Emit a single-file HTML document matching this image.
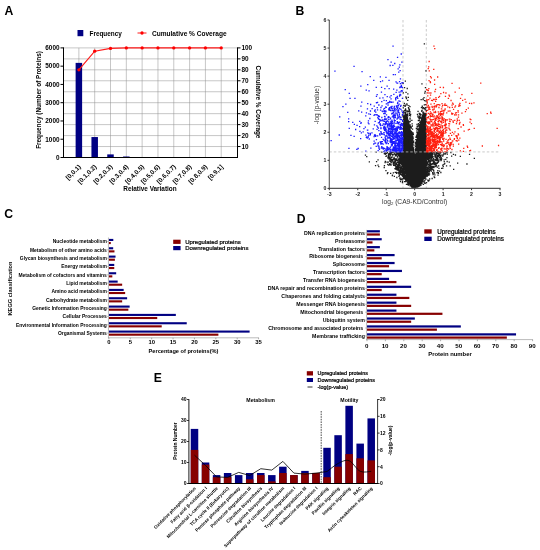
<!DOCTYPE html>
<html><head><meta charset="utf-8"><title>Figure</title>
<style>html,body{margin:0;padding:0;background:#fff}svg{display:block}text{font-family:"Liberation Sans",sans-serif}</style>
</head><body>
<svg width="540" height="550" viewBox="0 0 540 550">
<rect width="540" height="550" fill="#fff"/>
<text x="4.50" y="14.50" font-size="12.2" font-weight="bold" text-anchor="start" fill="#000">A</text>
<text x="295.60" y="14.80" font-size="12.2" font-weight="bold" text-anchor="start" fill="#000">B</text>
<text x="4.20" y="217.60" font-size="12.2" font-weight="bold" text-anchor="start" fill="#000">C</text>
<text x="296.80" y="223.20" font-size="12.2" font-weight="bold" text-anchor="start" fill="#000">D</text>
<text x="153.70" y="382.30" font-size="12.2" font-weight="bold" text-anchor="start" fill="#000">E</text>
<line x1="78.87" y1="47.90" x2="78.87" y2="157.50" stroke="#8e8e8e" stroke-width="0.5"/>
<line x1="94.69" y1="47.90" x2="94.69" y2="157.50" stroke="#8e8e8e" stroke-width="0.5"/>
<line x1="110.50" y1="47.90" x2="110.50" y2="157.50" stroke="#8e8e8e" stroke-width="0.5"/>
<line x1="126.32" y1="47.90" x2="126.32" y2="157.50" stroke="#8e8e8e" stroke-width="0.5"/>
<line x1="142.14" y1="47.90" x2="142.14" y2="157.50" stroke="#8e8e8e" stroke-width="0.5"/>
<line x1="157.96" y1="47.90" x2="157.96" y2="157.50" stroke="#8e8e8e" stroke-width="0.5"/>
<line x1="173.78" y1="47.90" x2="173.78" y2="157.50" stroke="#8e8e8e" stroke-width="0.5"/>
<line x1="189.60" y1="47.90" x2="189.60" y2="157.50" stroke="#8e8e8e" stroke-width="0.5"/>
<line x1="205.41" y1="47.90" x2="205.41" y2="157.50" stroke="#8e8e8e" stroke-width="0.5"/>
<line x1="221.23" y1="47.90" x2="221.23" y2="157.50" stroke="#8e8e8e" stroke-width="0.5"/>
<line x1="63.50" y1="47.90" x2="237.50" y2="47.90" stroke="#8e8e8e" stroke-width="0.5"/>
<line x1="63.50" y1="58.86" x2="237.50" y2="58.86" stroke="#8e8e8e" stroke-width="0.5"/>
<line x1="63.50" y1="69.82" x2="237.50" y2="69.82" stroke="#8e8e8e" stroke-width="0.5"/>
<line x1="63.50" y1="80.78" x2="237.50" y2="80.78" stroke="#8e8e8e" stroke-width="0.5"/>
<line x1="63.50" y1="91.74" x2="237.50" y2="91.74" stroke="#8e8e8e" stroke-width="0.5"/>
<line x1="63.50" y1="102.70" x2="237.50" y2="102.70" stroke="#8e8e8e" stroke-width="0.5"/>
<line x1="63.50" y1="113.66" x2="237.50" y2="113.66" stroke="#8e8e8e" stroke-width="0.5"/>
<line x1="63.50" y1="124.62" x2="237.50" y2="124.62" stroke="#8e8e8e" stroke-width="0.5"/>
<line x1="63.50" y1="135.58" x2="237.50" y2="135.58" stroke="#8e8e8e" stroke-width="0.5"/>
<line x1="63.50" y1="146.54" x2="237.50" y2="146.54" stroke="#8e8e8e" stroke-width="0.5"/>
<rect x="75.62" y="62.88" width="6.50" height="94.62" fill="#000082"/>
<rect x="91.44" y="137.04" width="6.50" height="20.46" fill="#000082"/>
<rect x="107.25" y="154.39" width="6.50" height="3.11" fill="#000082"/>
<rect x="123.07" y="156.50" width="6.50" height="1.00" fill="#000082"/>
<rect x="138.89" y="157.04" width="6.50" height="0.46" fill="#000082"/>
<line x1="63.50" y1="47.40" x2="63.50" y2="158.00" stroke="#000" stroke-width="1"/>
<line x1="237.50" y1="47.40" x2="237.50" y2="158.00" stroke="#000" stroke-width="1"/>
<line x1="63.50" y1="157.50" x2="237.50" y2="157.50" stroke="#000" stroke-width="1"/>
<line x1="60.50" y1="157.50" x2="63.50" y2="157.50" stroke="#000" stroke-width="1"/>
<text x="59.50" y="159.80" font-size="6.4" font-weight="bold" text-anchor="end" fill="#000">0</text>
<line x1="60.50" y1="139.23" x2="63.50" y2="139.23" stroke="#000" stroke-width="1"/>
<text x="59.50" y="141.53" font-size="6.4" font-weight="bold" text-anchor="end" fill="#000">1000</text>
<line x1="60.50" y1="120.97" x2="63.50" y2="120.97" stroke="#000" stroke-width="1"/>
<text x="59.50" y="123.27" font-size="6.4" font-weight="bold" text-anchor="end" fill="#000">2000</text>
<line x1="60.50" y1="102.70" x2="63.50" y2="102.70" stroke="#000" stroke-width="1"/>
<text x="59.50" y="105.00" font-size="6.4" font-weight="bold" text-anchor="end" fill="#000">3000</text>
<line x1="60.50" y1="84.43" x2="63.50" y2="84.43" stroke="#000" stroke-width="1"/>
<text x="59.50" y="86.73" font-size="6.4" font-weight="bold" text-anchor="end" fill="#000">4000</text>
<line x1="60.50" y1="66.17" x2="63.50" y2="66.17" stroke="#000" stroke-width="1"/>
<text x="59.50" y="68.47" font-size="6.4" font-weight="bold" text-anchor="end" fill="#000">5000</text>
<line x1="60.50" y1="47.90" x2="63.50" y2="47.90" stroke="#000" stroke-width="1"/>
<text x="59.50" y="50.20" font-size="6.4" font-weight="bold" text-anchor="end" fill="#000">6000</text>
<line x1="237.50" y1="146.54" x2="240.50" y2="146.54" stroke="#000" stroke-width="1"/>
<text x="241.50" y="148.84" font-size="6.4" font-weight="bold" text-anchor="start" fill="#000">10</text>
<line x1="237.50" y1="135.58" x2="240.50" y2="135.58" stroke="#000" stroke-width="1"/>
<text x="241.50" y="137.88" font-size="6.4" font-weight="bold" text-anchor="start" fill="#000">20</text>
<line x1="237.50" y1="124.62" x2="240.50" y2="124.62" stroke="#000" stroke-width="1"/>
<text x="241.50" y="126.92" font-size="6.4" font-weight="bold" text-anchor="start" fill="#000">30</text>
<line x1="237.50" y1="113.66" x2="240.50" y2="113.66" stroke="#000" stroke-width="1"/>
<text x="241.50" y="115.96" font-size="6.4" font-weight="bold" text-anchor="start" fill="#000">40</text>
<line x1="237.50" y1="102.70" x2="240.50" y2="102.70" stroke="#000" stroke-width="1"/>
<text x="241.50" y="105.00" font-size="6.4" font-weight="bold" text-anchor="start" fill="#000">50</text>
<line x1="237.50" y1="91.74" x2="240.50" y2="91.74" stroke="#000" stroke-width="1"/>
<text x="241.50" y="94.04" font-size="6.4" font-weight="bold" text-anchor="start" fill="#000">60</text>
<line x1="237.50" y1="80.78" x2="240.50" y2="80.78" stroke="#000" stroke-width="1"/>
<text x="241.50" y="83.08" font-size="6.4" font-weight="bold" text-anchor="start" fill="#000">70</text>
<line x1="237.50" y1="69.82" x2="240.50" y2="69.82" stroke="#000" stroke-width="1"/>
<text x="241.50" y="72.12" font-size="6.4" font-weight="bold" text-anchor="start" fill="#000">80</text>
<line x1="237.50" y1="58.86" x2="240.50" y2="58.86" stroke="#000" stroke-width="1"/>
<text x="241.50" y="61.16" font-size="6.4" font-weight="bold" text-anchor="start" fill="#000">90</text>
<line x1="237.50" y1="47.90" x2="240.50" y2="47.90" stroke="#000" stroke-width="1"/>
<text x="241.50" y="50.20" font-size="6.4" font-weight="bold" text-anchor="start" fill="#000">100</text>
<polyline fill="none" stroke="#ff1a1a" stroke-width="1.2" points="78.87,69.82 94.69,51.19 110.50,48.45 126.32,47.90 142.14,47.90 157.96,47.90 173.78,47.90 189.60,47.90 205.41,47.90 221.23,47.90"/>
<circle cx="78.87" cy="69.82" r="1.65" fill="#ff0000"/>
<circle cx="94.69" cy="51.19" r="1.65" fill="#ff0000"/>
<circle cx="110.50" cy="48.45" r="1.65" fill="#ff0000"/>
<circle cx="126.32" cy="47.90" r="1.65" fill="#ff0000"/>
<circle cx="142.14" cy="47.90" r="1.65" fill="#ff0000"/>
<circle cx="157.96" cy="47.90" r="1.65" fill="#ff0000"/>
<circle cx="173.78" cy="47.90" r="1.65" fill="#ff0000"/>
<circle cx="189.60" cy="47.90" r="1.65" fill="#ff0000"/>
<circle cx="205.41" cy="47.90" r="1.65" fill="#ff0000"/>
<circle cx="221.23" cy="47.90" r="1.65" fill="#ff0000"/>
<text x="81.27" y="167.30" font-size="6.4" font-weight="bold" text-anchor="end" fill="#000" transform="rotate(-45 81.27 167.30)">[0,0.1)</text>
<text x="97.09" y="167.30" font-size="6.4" font-weight="bold" text-anchor="end" fill="#000" transform="rotate(-45 97.09 167.30)">[0.1,0.2)</text>
<text x="112.90" y="167.30" font-size="6.4" font-weight="bold" text-anchor="end" fill="#000" transform="rotate(-45 112.90 167.30)">[0.2,0.3)</text>
<text x="128.72" y="167.30" font-size="6.4" font-weight="bold" text-anchor="end" fill="#000" transform="rotate(-45 128.72 167.30)">[0.3,0.4)</text>
<text x="144.54" y="167.30" font-size="6.4" font-weight="bold" text-anchor="end" fill="#000" transform="rotate(-45 144.54 167.30)">[0.4,0.5)</text>
<text x="160.36" y="167.30" font-size="6.4" font-weight="bold" text-anchor="end" fill="#000" transform="rotate(-45 160.36 167.30)">[0.5,0.6)</text>
<text x="176.18" y="167.30" font-size="6.4" font-weight="bold" text-anchor="end" fill="#000" transform="rotate(-45 176.18 167.30)">[0.6,0.7)</text>
<text x="192.00" y="167.30" font-size="6.4" font-weight="bold" text-anchor="end" fill="#000" transform="rotate(-45 192.00 167.30)">[0.7,0.8)</text>
<text x="207.81" y="167.30" font-size="6.4" font-weight="bold" text-anchor="end" fill="#000" transform="rotate(-45 207.81 167.30)">[0.8,0.9)</text>
<text x="223.63" y="167.30" font-size="6.4" font-weight="bold" text-anchor="end" fill="#000" transform="rotate(-45 223.63 167.30)">[0.9,1]</text>
<text x="150.00" y="190.60" font-size="6.4" font-weight="bold" text-anchor="middle" fill="#000">Relative Variation</text>
<text x="40.50" y="100.00" font-size="6.4" font-weight="bold" text-anchor="middle" fill="#000" transform="rotate(-90 40.50 100.00)">Frequency (Number of Proteins)</text>
<text x="256.00" y="102.00" font-size="6.4" font-weight="bold" text-anchor="middle" fill="#000" transform="rotate(90 256.00 102.00)">Cumulative % Coverage</text>
<rect x="77.50" y="30.00" width="5.80" height="6.20" fill="#000082"/>
<text x="89.50" y="35.60" font-size="6.4" font-weight="bold" text-anchor="start" fill="#000">Frequency</text>
<line x1="137.50" y1="33.00" x2="146.50" y2="33.00" stroke="#ff1a1a" stroke-width="1"/>
<circle cx="142" cy="33" r="1.65" fill="#ff0000"/>
<text x="152.00" y="35.60" font-size="6.55" font-weight="bold" text-anchor="start" fill="#000">Cumulative % Coverage</text>
<line x1="402.99" y1="20.00" x2="402.99" y2="188.40" stroke="#bdbdbd" stroke-width="0.8" stroke-dasharray="2.5 2"/>
<line x1="426.31" y1="20.00" x2="426.31" y2="188.40" stroke="#bdbdbd" stroke-width="0.8" stroke-dasharray="2.5 2"/>
<polygon fill="#1c1c1c" points="414.6,187.8 418.9,180.0 423.5,170.4 426.6,160.3 427.5,152.5 426.3,151.9 426.3,126.7 425.7,116.8 424.0,112.1 421.8,115.4 417.8,133.7 415.2,156.1 414.1,156.1 411.5,133.7 407.5,115.4 405.3,112.1 403.6,116.8 403.0,126.7 403.0,151.9 401.8,152.5 402.7,160.3 405.8,170.4 410.4,180.0 414.6,187.8"/>
<path d="M413.9 188.3h1.3M408.0 172.5h1.3M408.6 173.8h1.3M405.1 140.9h1.3M430.2 164.2h1.3M406.3 135.5h1.3M413.2 185.2h1.3M424.9 116.9h1.3M416.8 162.2h1.3M408.7 155.3h1.3M401.7 162.3h1.3M408.3 169.4h1.3M416.8 182.8h1.3M415.7 186.8h1.3M415.9 151.3h1.3M407.8 164.0h1.3M420.3 175.9h1.3M417.2 173.9h1.3M408.4 180.0h1.3M423.2 178.4h1.3M415.4 159.7h1.3M415.4 185.8h1.3M417.2 182.4h1.3M424.3 162.9h1.3M416.8 136.2h1.3M406.8 145.3h1.3M412.6 186.7h1.3M410.5 157.3h1.3M417.0 182.4h1.3M415.8 182.5h1.3M410.9 185.0h1.3M414.0 184.3h1.3M423.8 142.6h1.3M411.0 182.0h1.3M427.0 154.2h1.3M419.7 147.8h1.3M408.0 124.4h1.3M415.3 184.4h1.3M404.4 157.6h1.3M408.7 178.3h1.3M396.4 152.0h1.3M413.0 184.9h1.3M391.1 152.8h1.3M397.1 152.4h1.3M403.3 177.6h1.3M403.1 163.7h1.3M413.4 181.6h1.3M421.0 125.1h1.3M402.3 157.5h1.3M411.3 177.9h1.3M423.2 153.9h1.3M422.9 163.7h1.3M413.1 183.2h1.3M410.5 151.6h1.3M407.7 171.0h1.3M415.6 168.7h1.3M414.8 175.1h1.3M394.4 165.6h1.3M411.7 172.2h1.3M423.6 169.6h1.3M416.5 182.0h1.3M415.9 177.9h1.3M413.3 187.8h1.3M396.0 164.7h1.3M418.4 126.2h1.3M399.5 153.6h1.3M413.9 187.1h1.3M384.4 152.8h1.3M408.3 170.3h1.3M409.3 132.3h1.3M413.7 188.1h1.3M414.5 157.3h1.3M414.6 169.9h1.3M405.7 172.2h1.3M416.5 179.7h1.3M439.3 155.1h1.3M419.3 177.4h1.3M417.0 162.1h1.3M411.8 179.0h1.3M403.7 177.4h1.3M421.4 150.9h1.3M419.0 160.7h1.3M403.3 133.3h1.3M411.4 184.2h1.3M413.8 186.5h1.3M408.2 132.2h1.3M416.5 174.5h1.3M422.5 178.1h1.3M414.6 183.6h1.3M426.4 156.9h1.3M409.8 182.1h1.3M408.7 169.1h1.3M422.7 143.3h1.3M407.3 143.3h1.3M417.3 146.9h1.3M411.0 181.4h1.3M415.2 184.9h1.3M420.7 173.8h1.3M405.7 179.9h1.3M436.2 159.4h1.3M412.2 185.7h1.3M405.3 146.1h1.3M417.1 155.0h1.3M403.9 121.4h1.3M427.2 180.2h1.3M413.8 187.7h1.3M418.7 171.0h1.3M432.9 158.5h1.3M414.2 188.0h1.3M418.8 168.4h1.3M412.8 172.4h1.3M428.0 152.6h1.3M417.6 170.4h1.3M414.6 177.3h1.3M438.7 154.7h1.3M414.2 187.1h1.3M416.0 184.6h1.3M427.1 164.1h1.3M423.6 159.6h1.3M413.0 180.8h1.3M398.4 161.4h1.3M407.3 172.8h1.3M414.4 186.6h1.3M421.7 164.9h1.3M412.0 161.3h1.3M420.3 154.8h1.3M408.0 172.3h1.3M410.1 180.3h1.3M413.6 187.2h1.3M422.1 152.1h1.3M410.4 168.0h1.3M408.2 136.9h1.3M416.9 180.9h1.3M414.8 159.5h1.3M402.7 164.1h1.3M424.5 142.4h1.3M425.3 162.1h1.3M419.3 144.8h1.3M413.5 187.7h1.3M407.3 174.6h1.3M413.7 186.0h1.3M412.9 175.3h1.3M418.4 186.3h1.3M402.7 142.5h1.3M417.6 179.5h1.3M420.8 161.4h1.3M418.8 185.1h1.3M402.2 166.7h1.3M388.9 153.3h1.3M408.0 135.1h1.3M417.6 178.0h1.3M421.0 146.6h1.3M414.0 169.4h1.3M409.8 170.3h1.3M420.0 183.6h1.3M413.8 187.7h1.3M403.3 111.1h1.3M395.8 163.9h1.3M413.1 184.0h1.3M410.3 184.1h1.3M418.3 172.9h1.3M419.3 126.8h1.3M414.1 187.3h1.3M406.2 151.5h1.3M415.6 160.1h1.3M415.1 185.9h1.3M424.9 125.9h1.3M416.9 180.0h1.3M412.8 185.8h1.3M415.6 185.5h1.3M413.2 186.4h1.3M407.1 158.9h1.3M419.8 176.9h1.3M402.2 161.1h1.3M417.4 151.9h1.3M409.5 181.1h1.3M414.0 188.0h1.3M399.7 163.7h1.3M403.5 168.2h1.3M408.9 175.0h1.3M410.3 185.1h1.3M414.7 184.0h1.3M417.1 174.0h1.3M419.0 178.9h1.3M427.3 170.6h1.3M414.1 188.1h1.3M413.1 158.8h1.3M424.2 167.6h1.3M424.6 91.5h1.3M412.0 152.7h1.3M416.1 182.5h1.3M420.1 176.9h1.3M415.6 175.0h1.3M416.6 177.5h1.3M415.5 185.5h1.3M394.7 158.8h1.3M417.4 185.3h1.3M413.3 157.5h1.3M407.6 154.5h1.3M412.9 161.4h1.3M412.7 184.8h1.3M410.2 169.9h1.3M413.0 184.8h1.3M398.9 167.5h1.3M421.7 176.3h1.3M424.8 176.6h1.3M414.0 182.6h1.3M419.9 175.8h1.3M418.9 141.2h1.3M422.2 157.6h1.3M421.6 107.1h1.3M416.6 171.7h1.3M389.2 156.3h1.3M412.4 178.2h1.3M414.1 188.3h1.3M411.5 163.8h1.3M418.8 174.6h1.3M414.6 177.6h1.3M402.7 171.4h1.3M419.5 174.6h1.3M393.6 158.9h1.3M416.1 177.9h1.3M417.8 156.8h1.3M419.0 116.2h1.3M414.8 186.2h1.3M411.7 137.2h1.3M420.3 138.2h1.3M404.7 142.8h1.3M400.4 161.5h1.3M409.8 172.8h1.3M434.0 177.5h1.3M422.0 177.0h1.3M414.8 172.6h1.3M415.9 172.5h1.3M412.9 186.3h1.3M404.8 177.4h1.3M414.7 183.9h1.3M419.0 161.5h1.3M400.5 156.8h1.3M412.8 185.4h1.3M416.6 167.7h1.3M408.2 142.8h1.3M425.6 150.7h1.3M421.9 180.4h1.3M413.0 168.6h1.3M412.6 152.2h1.3M391.3 154.4h1.3M410.0 176.8h1.3M413.5 185.4h1.3M413.8 179.0h1.3M411.3 182.2h1.3M416.7 129.1h1.3M411.5 163.1h1.3M421.7 161.0h1.3M421.1 181.4h1.3M403.5 167.7h1.3M414.7 170.3h1.3M408.5 111.4h1.3M413.0 178.2h1.3M417.3 176.9h1.3M415.0 179.0h1.3M406.5 167.5h1.3M411.5 168.3h1.3M411.4 177.2h1.3M417.8 123.7h1.3M402.0 163.7h1.3M399.7 156.5h1.3M405.8 167.9h1.3M409.1 172.6h1.3M405.8 179.0h1.3M416.1 153.9h1.3M406.1 179.7h1.3M397.0 168.0h1.3M409.6 135.9h1.3M414.8 170.4h1.3M411.4 132.7h1.3M421.5 161.7h1.3M413.2 163.9h1.3M411.1 185.8h1.3M418.8 159.8h1.3M417.9 144.3h1.3M424.9 172.2h1.3M409.8 185.8h1.3M414.0 188.2h1.3M398.5 153.7h1.3M389.3 160.8h1.3M422.9 167.8h1.3M425.0 176.3h1.3M399.6 157.1h1.3M415.1 180.1h1.3M407.1 156.2h1.3M415.0 185.9h1.3M413.9 183.0h1.3M415.7 185.6h1.3M407.3 137.3h1.3M425.6 140.1h1.3M414.8 186.3h1.3M397.8 153.7h1.3M414.5 185.2h1.3M405.9 168.2h1.3M418.6 149.9h1.3M419.5 165.3h1.3M417.1 171.3h1.3M407.2 175.4h1.3M414.4 186.7h1.3M410.7 179.9h1.3M415.0 185.8h1.3M418.0 148.6h1.3M405.5 137.1h1.3M416.8 114.3h1.3M410.9 169.5h1.3M409.5 160.3h1.3M413.1 173.2h1.3M412.2 167.0h1.3M411.4 167.4h1.3M413.6 186.8h1.3M415.8 183.9h1.3M412.1 183.4h1.3M417.0 184.9h1.3M413.8 186.3h1.3M402.0 181.1h1.3M408.4 147.5h1.3M413.0 184.9h1.3M404.7 156.0h1.3M415.6 185.3h1.3M404.5 156.1h1.3M410.0 182.9h1.3M416.3 175.1h1.3M409.0 178.6h1.3M403.0 175.7h1.3M407.1 159.1h1.3M423.8 175.9h1.3M413.7 188.2h1.3M414.5 184.8h1.3M405.5 172.7h1.3M414.5 183.5h1.3M411.2 180.3h1.3M405.3 180.0h1.3M418.6 165.8h1.3M422.1 168.5h1.3M417.1 174.0h1.3M426.9 158.9h1.3M413.9 183.5h1.3M405.9 175.8h1.3M419.5 180.8h1.3M406.3 180.9h1.3M423.3 165.0h1.3M399.4 158.9h1.3M407.4 163.8h1.3M415.6 175.4h1.3M408.6 173.3h1.3M431.0 168.0h1.3M431.6 153.5h1.3M402.4 174.6h1.3M407.3 154.4h1.3M421.1 165.4h1.3M404.8 177.4h1.3M409.2 126.0h1.3M418.2 175.9h1.3M421.9 180.5h1.3M410.4 168.3h1.3M404.5 119.3h1.3M415.7 154.5h1.3M417.7 120.5h1.3M397.6 168.6h1.3M415.4 173.9h1.3M414.4 182.9h1.3M402.4 175.5h1.3M398.6 165.7h1.3M409.0 167.3h1.3M407.6 182.5h1.3M415.6 185.4h1.3M411.1 149.4h1.3M406.5 157.2h1.3M431.2 167.2h1.3M428.7 171.9h1.3M411.8 169.1h1.3M417.1 157.4h1.3M414.6 185.5h1.3M415.9 172.0h1.3M422.4 168.9h1.3M429.2 156.4h1.3M417.5 142.3h1.3M401.8 170.5h1.3M415.7 168.1h1.3M414.1 187.6h1.3M409.3 181.8h1.3M404.4 159.4h1.3M401.6 152.0h1.3M400.9 171.7h1.3M403.2 172.3h1.3M413.4 186.3h1.3M410.2 179.9h1.3M417.1 185.8h1.3M424.6 177.8h1.3M413.2 186.8h1.3M419.6 136.9h1.3M417.9 178.5h1.3M406.3 177.8h1.3M404.0 146.5h1.3M418.0 170.4h1.3M421.8 153.3h1.3M448.6 162.1h1.3M404.0 162.1h1.3M401.3 163.0h1.3M416.0 175.6h1.3M411.8 139.8h1.3M410.6 177.5h1.3M420.7 150.9h1.3M410.3 152.4h1.3M425.0 174.5h1.3M416.2 184.5h1.3M423.7 169.7h1.3M405.3 154.7h1.3M411.4 165.0h1.3M414.8 185.0h1.3M414.7 176.7h1.3M410.6 181.8h1.3M417.7 182.2h1.3M408.7 164.3h1.3M416.5 148.0h1.3M418.0 180.9h1.3M422.9 177.1h1.3M396.2 155.4h1.3M409.6 170.5h1.3M406.3 169.1h1.3M418.7 133.8h1.3M414.9 187.0h1.3M423.8 149.0h1.3M418.9 169.6h1.3M414.6 176.6h1.3M431.2 168.2h1.3M406.0 137.4h1.3M413.5 182.5h1.3M416.3 150.4h1.3M404.2 175.9h1.3M410.0 168.9h1.3M416.6 162.0h1.3M415.8 152.6h1.3M401.7 161.3h1.3M403.9 158.2h1.3M384.6 154.4h1.3M403.7 178.0h1.3M408.3 165.3h1.3M405.7 152.0h1.3M414.6 170.2h1.3M411.8 168.8h1.3M414.7 170.8h1.3M420.0 156.2h1.3M415.3 170.2h1.3M413.7 174.9h1.3M413.5 187.2h1.3M423.1 140.7h1.3M401.5 161.6h1.3M411.4 184.2h1.3M422.8 170.1h1.3M440.2 172.5h1.3M417.3 182.6h1.3M413.0 171.7h1.3M418.3 184.5h1.3M403.1 159.6h1.3M427.5 155.7h1.3M413.0 186.8h1.3M421.5 150.8h1.3M412.7 152.3h1.3M410.7 185.4h1.3M413.9 184.7h1.3M422.1 172.9h1.3M412.4 183.5h1.3M418.2 165.2h1.3M416.8 183.9h1.3M423.8 168.5h1.3M410.6 184.7h1.3M420.2 175.7h1.3M418.9 160.0h1.3M409.0 177.4h1.3M422.8 139.4h1.3M425.2 174.0h1.3M411.5 181.9h1.3M412.7 152.3h1.3M418.0 184.0h1.3M406.5 160.7h1.3M426.3 152.7h1.3M408.3 160.2h1.3M426.9 153.0h1.3M387.7 156.1h1.3M407.2 114.0h1.3M407.8 172.8h1.3M413.4 152.9h1.3M406.0 159.6h1.3M421.7 139.3h1.3M418.5 168.7h1.3M397.0 153.8h1.3M410.2 168.6h1.3M421.2 171.8h1.3M410.6 177.8h1.3M394.3 165.2h1.3M393.5 154.0h1.3M414.0 182.5h1.3M417.4 169.4h1.3M414.9 182.8h1.3M415.9 154.7h1.3M413.6 186.4h1.3M419.7 122.5h1.3M414.3 165.7h1.3M409.0 167.5h1.3M430.5 166.5h1.3M409.4 179.6h1.3M417.0 174.6h1.3M408.2 177.3h1.3M414.1 182.8h1.3M411.5 123.8h1.3M404.6 173.4h1.3M421.3 183.6h1.3M415.3 150.1h1.3M412.3 183.5h1.3M397.1 154.2h1.3M426.8 159.0h1.3M416.3 186.3h1.3M405.5 163.6h1.3M424.8 162.6h1.3M413.9 186.8h1.3M403.7 163.0h1.3M421.3 166.4h1.3M414.4 180.5h1.3M416.1 178.5h1.3M408.0 163.7h1.3M415.4 145.8h1.3M401.2 158.8h1.3M410.5 184.2h1.3M388.4 154.7h1.3M411.1 157.5h1.3M415.5 145.6h1.3M420.1 176.7h1.3M401.4 162.8h1.3M413.6 156.3h1.3M414.0 180.0h1.3M407.6 147.5h1.3M404.6 161.7h1.3M419.2 183.9h1.3M421.7 171.0h1.3M426.1 162.3h1.3M386.8 173.5h1.3M413.0 187.6h1.3M412.5 182.6h1.3M404.0 171.5h1.3M407.0 145.0h1.3M403.7 129.7h1.3M425.3 142.1h1.3M418.4 174.9h1.3M413.3 180.2h1.3M411.4 182.5h1.3M432.4 163.9h1.3M442.1 165.1h1.3M415.3 172.0h1.3M417.6 173.6h1.3M417.0 182.0h1.3M417.1 181.4h1.3M403.8 127.5h1.3M413.6 187.3h1.3M425.3 136.8h1.3M421.6 175.5h1.3M401.5 152.9h1.3M412.2 178.7h1.3M414.7 176.7h1.3M412.3 181.9h1.3M411.2 183.0h1.3M414.8 185.8h1.3M413.7 178.4h1.3M426.0 152.5h1.3M406.7 173.6h1.3M423.8 149.2h1.3M416.1 186.5h1.3M422.5 162.4h1.3M414.5 160.6h1.3M408.5 180.5h1.3M412.8 184.8h1.3M425.0 164.0h1.3M418.4 178.3h1.3M419.4 154.3h1.3M413.9 183.2h1.3M406.3 119.1h1.3M397.6 169.3h1.3M425.2 165.6h1.3M419.9 166.7h1.3M418.1 154.0h1.3M429.0 169.5h1.3M414.2 186.7h1.3M443.5 159.8h1.3M387.6 162.2h1.3M416.3 184.8h1.3M414.0 186.8h1.3M399.6 158.2h1.3M423.5 165.7h1.3M414.1 177.0h1.3M399.1 157.0h1.3M419.5 171.4h1.3M423.4 97.7h1.3M408.3 146.3h1.3M415.3 184.6h1.3M392.6 164.1h1.3M386.2 153.6h1.3M411.3 184.2h1.3M410.8 154.6h1.3M420.1 133.3h1.3M419.1 176.2h1.3M399.5 168.5h1.3M425.5 139.8h1.3M416.0 139.7h1.3M413.9 187.0h1.3M425.2 161.9h1.3M419.7 133.8h1.3M414.4 180.8h1.3M411.3 132.5h1.3M413.9 187.4h1.3M417.0 183.4h1.3M423.3 157.8h1.3M423.8 132.0h1.3M410.6 170.2h1.3M416.6 175.4h1.3M408.5 179.8h1.3M410.4 184.0h1.3M414.5 167.0h1.3M420.5 163.7h1.3M407.3 144.4h1.3M408.8 169.3h1.3M409.1 167.5h1.3M410.1 166.0h1.3M409.6 168.6h1.3M404.8 153.1h1.3M401.2 168.0h1.3M418.5 165.1h1.3M415.6 185.1h1.3M414.8 185.8h1.3M401.4 173.1h1.3M423.2 176.4h1.3M423.0 168.6h1.3M416.6 150.2h1.3M403.9 176.7h1.3M411.8 173.9h1.3M420.3 136.8h1.3M388.4 153.7h1.3M424.5 115.3h1.3M402.1 172.4h1.3M425.9 171.3h1.3M413.7 185.2h1.3M405.3 158.1h1.3M415.9 178.0h1.3M416.2 181.8h1.3M419.0 136.5h1.3M408.5 157.3h1.3M406.6 175.3h1.3M412.5 186.1h1.3M414.9 172.6h1.3M421.1 169.7h1.3M410.1 174.2h1.3M410.1 182.1h1.3M408.5 127.3h1.3M416.0 141.8h1.3M403.8 166.8h1.3M408.0 168.5h1.3M412.3 148.4h1.3M414.2 154.8h1.3M407.7 162.7h1.3M406.7 148.6h1.3M414.7 182.6h1.3M408.8 110.0h1.3M425.4 129.4h1.3M416.0 174.0h1.3M420.5 176.3h1.3M409.3 179.5h1.3M408.0 173.9h1.3M415.2 177.0h1.3M414.0 188.4h1.3M410.0 181.3h1.3M419.4 176.6h1.3M422.8 154.2h1.3M422.0 169.8h1.3M375.5 152.1h1.3M404.1 110.4h1.3M423.2 172.3h1.3M414.1 176.6h1.3M415.5 177.3h1.3M413.2 159.5h1.3M408.8 177.1h1.3M404.4 159.0h1.3M409.4 167.2h1.3M407.7 164.9h1.3M413.7 185.8h1.3M412.2 178.8h1.3M423.7 168.9h1.3M420.0 161.5h1.3M423.3 169.4h1.3M415.2 185.2h1.3M416.8 181.6h1.3M420.0 172.0h1.3M414.8 186.6h1.3M403.6 162.3h1.3M446.5 152.3h1.3M414.1 179.9h1.3M410.0 146.7h1.3M402.9 149.4h1.3M412.7 186.3h1.3M424.5 153.9h1.3M415.8 171.4h1.3M414.2 188.2h1.3M425.1 119.3h1.3M418.0 181.0h1.3M410.2 169.5h1.3M424.2 155.5h1.3M436.3 155.7h1.3M420.7 131.9h1.3M417.0 185.6h1.3M415.8 185.1h1.3M408.7 183.3h1.3M408.7 181.9h1.3M401.0 179.6h1.3M415.4 165.1h1.3M400.7 162.2h1.3M416.1 159.8h1.3M413.5 186.0h1.3M412.0 134.3h1.3M405.2 168.5h1.3M413.5 186.7h1.3M401.1 161.5h1.3M409.5 156.8h1.3M421.4 175.0h1.3M417.8 170.4h1.3M407.6 176.7h1.3M396.9 168.4h1.3M405.9 145.3h1.3M420.4 185.1h1.3M414.1 188.1h1.3M409.1 184.0h1.3M410.1 180.5h1.3M439.5 159.2h1.3M398.3 176.3h1.3M415.6 154.2h1.3M411.9 161.9h1.3M405.5 139.1h1.3M408.8 127.8h1.3M411.9 180.6h1.3M416.6 179.1h1.3M418.8 144.4h1.3M416.3 177.2h1.3M403.2 160.1h1.3M423.7 168.7h1.3M420.9 140.9h1.3M414.6 187.3h1.3M420.4 135.6h1.3M413.4 184.1h1.3M423.7 178.3h1.3M422.6 144.1h1.3M416.1 166.9h1.3M410.7 175.2h1.3M404.0 156.1h1.3M413.1 186.7h1.3M422.2 108.6h1.3M416.8 176.3h1.3M424.6 153.5h1.3M403.6 121.2h1.3M430.5 152.4h1.3M402.7 170.4h1.3M420.3 173.2h1.3M401.7 154.3h1.3M407.2 125.2h1.3M419.8 153.1h1.3M420.2 181.4h1.3M418.2 171.7h1.3M425.1 168.0h1.3M405.7 139.8h1.3M405.5 169.2h1.3M409.8 139.0h1.3M436.0 152.9h1.3M419.2 176.7h1.3M420.3 170.2h1.3M430.1 152.4h1.3M432.6 164.1h1.3M408.2 177.8h1.3M403.1 162.5h1.3M421.7 127.9h1.3M417.0 164.3h1.3M408.6 175.7h1.3M402.5 165.7h1.3M403.3 146.2h1.3M423.2 162.4h1.3M418.1 178.9h1.3M424.0 154.6h1.3M420.0 170.8h1.3M415.8 183.4h1.3M412.5 185.6h1.3M411.9 181.6h1.3M408.4 170.9h1.3M385.3 156.4h1.3M422.8 159.7h1.3M416.1 161.2h1.3M438.7 157.4h1.3M419.6 113.8h1.3M418.3 166.1h1.3M414.8 179.6h1.3M405.4 157.2h1.3M402.8 134.9h1.3M414.6 182.9h1.3M414.6 177.7h1.3M415.6 183.9h1.3M413.8 179.1h1.3M405.6 160.1h1.3M413.5 186.7h1.3M406.6 174.6h1.3M415.5 178.4h1.3M405.5 143.6h1.3M410.5 185.3h1.3M425.2 147.2h1.3M423.4 156.2h1.3M421.5 155.2h1.3M412.0 178.7h1.3M424.0 148.1h1.3M410.1 176.6h1.3M410.6 173.1h1.3M432.5 174.7h1.3M413.1 186.9h1.3M412.4 176.7h1.3M411.7 150.2h1.3M437.3 159.5h1.3M412.7 177.2h1.3M424.3 173.5h1.3M411.6 166.2h1.3M410.9 167.8h1.3M415.3 185.1h1.3M408.5 162.3h1.3M412.9 178.7h1.3M403.9 166.6h1.3M428.1 152.2h1.3M415.1 176.8h1.3M415.0 171.0h1.3M407.7 97.3h1.3M408.7 170.4h1.3M400.8 170.5h1.3M418.7 172.1h1.3M419.4 159.9h1.3M435.5 157.6h1.3M408.0 154.1h1.3M418.7 157.9h1.3M409.7 171.8h1.3M406.4 166.3h1.3M426.9 157.8h1.3M415.2 173.3h1.3M409.3 180.4h1.3M419.8 155.0h1.3M422.1 139.8h1.3M403.1 105.5h1.3M415.0 187.3h1.3M416.4 124.3h1.3M418.6 178.9h1.3M417.0 183.5h1.3M421.1 179.6h1.3M411.8 182.6h1.3M415.7 186.0h1.3M402.9 146.8h1.3M411.8 170.4h1.3M422.4 122.2h1.3M421.1 173.5h1.3M414.6 182.1h1.3M418.4 176.4h1.3M422.6 140.5h1.3M415.9 162.6h1.3M423.6 150.2h1.3M414.8 170.6h1.3M409.4 172.9h1.3M414.6 173.5h1.3M434.8 156.0h1.3M403.0 166.8h1.3M401.5 164.8h1.3M410.3 180.7h1.3M418.6 137.3h1.3M414.5 183.0h1.3M403.4 164.2h1.3M416.1 145.0h1.3M415.2 169.8h1.3M422.9 107.7h1.3M402.2 153.4h1.3M425.0 133.4h1.3M417.2 179.4h1.3M416.2 177.0h1.3M412.4 182.9h1.3M438.1 152.1h1.3M423.3 163.4h1.3M414.9 176.5h1.3M413.5 184.1h1.3M415.7 150.2h1.3M408.3 174.6h1.3M402.4 138.1h1.3M400.1 160.1h1.3M412.9 185.1h1.3M409.3 169.8h1.3M419.9 161.0h1.3M415.4 162.4h1.3M401.6 153.6h1.3M430.8 157.6h1.3M419.3 173.3h1.3M416.4 183.1h1.3M405.2 133.6h1.3M416.7 143.4h1.3M413.9 186.5h1.3M414.3 179.2h1.3M405.8 142.7h1.3M416.0 140.1h1.3M414.1 167.3h1.3M404.4 165.6h1.3M405.0 148.7h1.3M421.2 167.1h1.3M408.5 177.9h1.3M402.0 161.4h1.3M404.9 109.0h1.3M422.2 175.1h1.3M408.7 150.2h1.3M418.7 165.9h1.3M403.0 147.6h1.3M411.3 152.7h1.3M411.8 166.1h1.3M415.9 151.5h1.3M422.4 154.7h1.3M411.3 180.6h1.3M410.6 180.4h1.3M423.1 163.7h1.3M424.9 168.9h1.3M410.1 183.5h1.3M423.1 158.5h1.3M421.9 165.9h1.3M410.6 168.2h1.3M411.4 182.3h1.3M420.0 179.5h1.3M421.6 177.6h1.3M417.2 165.5h1.3M407.5 182.1h1.3M411.5 182.7h1.3M414.2 188.1h1.3M412.3 164.0h1.3M415.8 182.0h1.3M414.0 170.7h1.3M414.9 184.8h1.3M414.0 188.4h1.3M414.9 185.7h1.3M412.1 182.2h1.3M426.8 156.7h1.3M413.8 188.0h1.3M428.1 162.2h1.3M412.1 148.6h1.3M426.5 153.2h1.3M416.1 180.9h1.3M413.5 187.1h1.3M401.1 162.1h1.3M421.4 167.8h1.3M442.9 152.8h1.3M414.3 187.3h1.3M417.0 169.0h1.3M407.4 148.3h1.3M397.1 166.0h1.3M405.8 184.4h1.3M409.4 179.4h1.3M407.5 178.9h1.3M412.7 172.9h1.3M403.7 164.4h1.3M408.0 169.0h1.3M412.9 186.2h1.3M411.3 182.8h1.3M421.6 126.1h1.3M412.0 153.7h1.3M407.3 176.1h1.3M412.8 160.4h1.3M407.4 129.6h1.3M419.6 167.4h1.3M420.7 172.1h1.3M414.6 176.3h1.3M422.4 171.9h1.3M411.0 181.7h1.3M407.8 166.5h1.3M417.3 181.3h1.3M411.0 170.8h1.3M412.4 184.9h1.3M417.3 173.6h1.3M403.5 141.3h1.3M411.6 177.0h1.3M390.2 161.3h1.3M412.5 178.2h1.3M420.5 143.8h1.3M411.8 160.5h1.3M397.6 166.6h1.3M421.7 160.1h1.3M402.1 158.4h1.3M419.1 179.6h1.3M423.1 153.4h1.3M414.7 178.3h1.3M403.3 177.0h1.3M411.0 173.6h1.3M415.3 156.1h1.3M415.1 181.6h1.3M412.0 184.7h1.3M417.1 175.4h1.3M424.2 167.8h1.3M402.1 165.0h1.3M412.0 174.8h1.3M406.0 176.2h1.3M430.0 166.7h1.3M426.6 172.9h1.3M421.2 180.6h1.3M413.9 168.3h1.3M408.8 157.8h1.3M402.4 143.9h1.3M414.6 185.3h1.3M433.6 164.2h1.3M410.0 146.6h1.3M413.1 166.5h1.3M413.0 171.0h1.3M403.4 160.9h1.3M412.9 183.1h1.3M433.8 162.0h1.3M422.7 153.2h1.3M404.7 166.4h1.3M413.9 187.8h1.3M413.2 156.9h1.3M393.6 158.3h1.3M433.0 162.5h1.3M418.2 146.6h1.3M417.7 170.3h1.3M415.2 170.1h1.3M414.5 181.2h1.3M416.0 183.1h1.3M410.0 179.6h1.3M415.7 183.8h1.3M412.7 173.0h1.3M425.0 153.8h1.3M417.9 169.8h1.3M413.0 173.6h1.3M414.5 182.9h1.3M407.0 153.8h1.3M405.3 147.7h1.3M416.5 183.6h1.3M429.5 152.6h1.3M439.7 153.1h1.3M408.4 151.5h1.3M415.7 175.8h1.3M398.0 155.4h1.3M402.6 144.1h1.3M402.2 173.7h1.3M419.6 150.9h1.3M421.7 125.9h1.3M404.0 129.3h1.3M412.0 179.4h1.3M409.2 152.6h1.3M414.3 184.4h1.3M430.8 154.2h1.3M405.4 92.3h1.3M426.8 162.5h1.3M421.0 168.6h1.3M411.0 162.1h1.3M409.5 180.9h1.3M405.2 129.6h1.3M419.4 168.1h1.3M425.2 148.1h1.3M418.8 172.6h1.3M407.6 182.6h1.3M408.9 166.7h1.3M420.7 164.1h1.3M399.2 159.1h1.3M421.2 149.8h1.3M407.7 172.1h1.3M412.8 169.2h1.3M408.5 168.7h1.3M421.2 152.3h1.3M415.1 184.4h1.3M415.5 142.5h1.3M422.0 175.2h1.3M421.3 177.7h1.3M417.4 164.1h1.3M404.2 169.1h1.3M406.3 171.5h1.3M415.1 182.5h1.3M413.3 169.1h1.3M416.1 149.2h1.3M409.1 128.2h1.3M412.5 157.8h1.3M401.7 154.9h1.3M401.9 179.0h1.3M413.5 187.6h1.3M430.3 158.1h1.3M407.2 165.3h1.3M404.8 166.9h1.3M416.1 173.8h1.3M416.7 172.0h1.3M424.2 122.9h1.3M426.7 157.0h1.3M415.9 178.8h1.3M421.3 153.7h1.3M411.1 169.2h1.3M413.9 185.0h1.3M416.5 172.6h1.3M414.7 171.9h1.3M414.0 187.8h1.3M412.9 150.2h1.3M410.9 161.5h1.3M409.4 167.2h1.3M418.2 176.0h1.3M418.5 176.4h1.3M416.9 161.1h1.3M410.4 182.7h1.3M416.8 183.6h1.3M412.1 175.2h1.3M408.7 171.9h1.3M424.5 171.5h1.3M417.2 177.4h1.3M411.6 138.6h1.3M420.8 169.6h1.3M390.3 152.6h1.3M404.8 156.2h1.3M419.9 172.3h1.3M421.3 133.9h1.3M414.5 187.4h1.3M417.7 174.3h1.3M405.7 156.5h1.3M413.7 159.6h1.3M419.1 165.0h1.3M417.8 174.2h1.3M415.0 160.6h1.3M416.2 145.1h1.3M422.3 175.5h1.3M413.5 185.1h1.3M413.5 183.8h1.3M414.0 188.3h1.3M414.2 181.8h1.3M415.0 180.2h1.3M412.6 173.7h1.3M421.4 170.2h1.3M430.0 161.6h1.3M412.6 185.6h1.3M403.1 158.2h1.3M416.1 182.1h1.3M438.0 155.8h1.3M430.9 164.4h1.3M411.5 185.5h1.3M422.9 171.2h1.3M419.7 183.8h1.3M415.4 172.1h1.3M414.3 187.4h1.3M412.7 151.4h1.3M398.5 170.8h1.3M413.3 185.3h1.3M405.6 121.5h1.3M423.5 169.9h1.3M412.0 181.1h1.3M411.8 183.0h1.3M408.5 169.8h1.3M423.7 151.9h1.3M410.8 167.8h1.3M403.7 160.2h1.3M407.8 107.6h1.3M410.4 182.2h1.3M412.3 166.1h1.3M420.0 162.1h1.3M414.2 180.6h1.3M416.2 183.1h1.3M418.8 179.8h1.3M404.5 168.7h1.3M412.3 175.3h1.3M407.3 156.6h1.3M418.8 173.0h1.3M416.6 180.2h1.3M421.9 123.4h1.3M422.3 125.4h1.3M432.1 154.4h1.3M415.6 161.8h1.3M414.4 186.7h1.3M419.9 139.5h1.3M400.6 152.0h1.3M415.9 184.6h1.3M426.7 154.9h1.3M419.9 145.0h1.3M414.4 170.4h1.3M414.0 186.0h1.3M415.6 144.4h1.3M419.8 153.7h1.3M414.3 188.2h1.3M422.7 150.3h1.3M412.9 162.8h1.3M406.6 115.2h1.3M392.6 159.6h1.3M418.2 183.6h1.3M409.7 175.1h1.3M406.4 180.3h1.3M412.3 183.2h1.3M396.9 152.6h1.3M413.3 182.4h1.3M416.5 142.2h1.3M418.2 168.9h1.3M416.1 170.2h1.3M418.9 179.6h1.3M414.8 146.4h1.3M422.9 159.6h1.3M407.4 161.8h1.3M417.8 146.5h1.3M430.3 153.6h1.3M410.0 184.6h1.3M419.7 150.1h1.3M411.2 168.3h1.3M416.2 175.6h1.3M417.5 175.8h1.3M416.3 132.6h1.3M400.7 172.6h1.3M413.1 156.0h1.3M421.6 178.3h1.3M414.0 188.3h1.3M412.2 165.8h1.3M419.8 117.9h1.3M423.2 127.1h1.3M414.9 169.7h1.3M419.7 153.5h1.3M408.8 180.1h1.3M414.0 163.0h1.3M416.3 181.0h1.3M424.6 148.2h1.3M413.4 183.0h1.3M404.7 147.8h1.3M400.3 167.8h1.3M422.9 164.4h1.3M424.7 145.6h1.3M437.5 160.2h1.3M429.4 162.6h1.3M413.6 187.4h1.3M407.6 137.7h1.3M414.5 174.8h1.3M432.9 170.1h1.3M415.7 160.8h1.3M421.1 111.0h1.3M423.6 153.0h1.3M414.2 188.1h1.3M413.6 169.2h1.3M410.8 149.0h1.3M408.1 125.0h1.3M414.1 185.2h1.3M417.1 182.5h1.3M414.1 187.3h1.3M429.1 153.3h1.3M418.7 134.5h1.3M420.4 114.6h1.3M414.2 156.4h1.3M423.4 169.0h1.3M403.4 132.8h1.3M407.1 172.5h1.3M423.6 170.5h1.3M418.8 158.0h1.3M409.8 159.5h1.3M414.3 181.7h1.3M427.6 181.0h1.3M418.7 170.3h1.3M414.1 187.7h1.3M404.6 156.8h1.3M417.1 185.0h1.3M403.5 160.8h1.3M412.8 172.6h1.3M418.1 184.3h1.3M413.7 186.9h1.3M423.4 139.6h1.3M408.8 125.9h1.3M422.3 137.5h1.3M419.1 183.4h1.3M405.1 147.6h1.3M414.2 176.3h1.3M433.4 163.2h1.3M433.9 173.1h1.3M398.5 158.7h1.3M402.0 175.9h1.3M403.3 147.7h1.3M410.9 180.2h1.3M423.4 166.2h1.3M415.7 151.5h1.3M414.5 186.3h1.3M428.6 160.7h1.3M412.9 184.4h1.3M411.8 175.0h1.3M404.1 169.7h1.3M396.3 154.0h1.3M406.9 173.6h1.3M408.0 126.6h1.3M408.8 151.0h1.3M415.5 185.7h1.3M421.2 127.2h1.3M413.9 163.5h1.3M411.0 155.9h1.3M408.6 158.6h1.3M433.7 163.5h1.3M404.2 162.4h1.3M422.2 158.3h1.3M417.1 174.5h1.3M407.4 173.4h1.3M405.7 168.0h1.3M418.3 162.0h1.3M403.2 112.1h1.3M415.8 173.9h1.3M416.4 175.2h1.3M414.6 159.4h1.3M414.0 188.1h1.3M405.8 178.9h1.3M408.6 174.2h1.3M416.7 179.9h1.3M404.4 155.1h1.3M400.5 171.7h1.3M404.4 113.0h1.3M416.0 185.1h1.3M429.0 155.2h1.3M415.5 183.5h1.3M411.3 151.9h1.3M412.6 170.2h1.3M408.7 163.3h1.3M409.6 175.0h1.3M404.3 173.6h1.3M416.2 176.0h1.3M420.8 151.6h1.3M409.6 168.1h1.3M404.6 170.7h1.3M390.6 157.5h1.3M418.1 180.4h1.3M411.2 180.3h1.3M413.8 166.1h1.3M425.6 136.1h1.3M420.1 182.1h1.3M417.9 145.1h1.3M436.0 157.1h1.3M410.4 181.5h1.3M405.1 180.0h1.3M415.7 183.6h1.3M404.1 150.0h1.3M417.9 145.3h1.3M413.0 170.7h1.3M403.4 165.6h1.3M412.0 139.8h1.3M413.3 184.7h1.3M397.6 153.9h1.3M410.5 168.4h1.3M414.9 182.9h1.3M402.9 177.0h1.3M420.7 138.2h1.3M424.8 153.7h1.3M418.5 125.2h1.3M410.0 160.8h1.3M415.3 184.3h1.3M437.8 173.3h1.3M414.4 183.2h1.3M403.8 171.3h1.3M417.1 167.8h1.3M406.6 174.4h1.3M414.2 188.1h1.3M411.3 172.4h1.3M413.7 181.6h1.3M410.3 179.2h1.3M404.7 152.8h1.3M416.7 167.0h1.3M403.6 148.4h1.3M424.4 153.9h1.3M403.4 167.4h1.3M432.2 166.3h1.3M410.9 179.2h1.3M412.6 164.3h1.3M399.7 161.0h1.3M405.4 146.6h1.3M404.7 178.9h1.3M416.5 126.2h1.3M410.8 157.8h1.3M407.6 176.8h1.3M409.7 145.6h1.3M400.2 168.5h1.3M409.7 178.2h1.3M419.3 179.1h1.3M413.2 186.5h1.3M417.8 158.7h1.3M418.1 183.4h1.3M411.7 175.4h1.3M406.2 173.8h1.3M426.5 167.6h1.3M415.4 178.8h1.3M420.3 181.3h1.3M412.4 159.1h1.3M412.2 157.3h1.3M414.0 187.6h1.3M401.1 175.1h1.3M409.8 184.6h1.3M413.8 179.3h1.3M409.0 163.7h1.3M411.5 175.6h1.3M399.7 152.5h1.3M416.9 146.8h1.3M409.9 173.5h1.3M420.1 172.9h1.3M400.4 159.9h1.3M432.1 167.1h1.3M408.1 167.4h1.3M411.9 159.2h1.3M415.5 179.3h1.3M403.7 166.7h1.3M399.8 167.5h1.3M413.5 175.6h1.3M400.3 170.9h1.3M418.3 140.5h1.3M408.3 156.8h1.3M432.4 156.7h1.3M415.6 179.0h1.3M386.0 155.8h1.3M421.9 157.0h1.3M411.8 177.0h1.3M424.3 153.2h1.3M404.8 164.0h1.3M414.4 179.2h1.3M415.2 175.9h1.3M415.0 184.1h1.3M419.7 178.4h1.3M399.5 160.7h1.3M421.3 167.3h1.3M410.3 175.5h1.3M399.8 172.8h1.3M413.4 182.4h1.3M419.6 164.9h1.3M406.0 173.9h1.3M387.2 172.7h1.3M413.9 167.5h1.3M422.8 140.1h1.3M410.9 132.0h1.3M381.2 152.2h1.3M405.4 166.0h1.3M411.1 138.0h1.3M402.5 161.0h1.3M411.1 175.6h1.3M426.4 167.8h1.3M429.7 165.4h1.3M419.4 172.1h1.3M413.8 187.0h1.3M425.3 157.4h1.3M412.0 186.0h1.3M410.4 164.0h1.3M412.3 179.5h1.3M416.1 170.0h1.3M411.2 174.6h1.3M414.2 159.5h1.3M421.7 172.3h1.3M415.3 170.4h1.3M406.6 168.3h1.3M411.4 181.8h1.3M408.0 150.7h1.3M407.4 174.9h1.3M408.8 146.9h1.3M411.0 176.7h1.3M410.9 179.5h1.3M411.6 158.5h1.3M414.4 185.6h1.3M421.0 176.4h1.3M402.4 83.4h1.3M414.8 150.7h1.3M418.8 173.9h1.3M425.0 125.3h1.3M412.1 134.1h1.3M417.4 182.1h1.3M422.3 174.6h1.3M417.0 178.8h1.3M414.4 172.3h1.3M416.1 177.7h1.3M404.0 146.7h1.3M426.3 152.6h1.3M412.8 184.8h1.3M414.2 188.2h1.3M417.2 183.3h1.3M424.8 133.1h1.3M415.3 166.1h1.3M402.9 144.3h1.3M417.0 183.1h1.3M425.1 157.6h1.3M409.1 184.6h1.3M407.1 168.0h1.3M403.9 87.7h1.3M412.6 158.8h1.3M413.7 186.7h1.3M407.0 157.1h1.3M404.0 138.6h1.3M412.6 185.3h1.3M413.7 187.5h1.3M414.7 187.7h1.3M420.9 150.6h1.3M395.3 163.3h1.3M414.4 163.9h1.3M419.9 180.2h1.3M412.4 186.2h1.3M397.3 160.7h1.3M411.7 138.0h1.3M412.3 168.4h1.3M411.1 182.1h1.3M412.3 187.0h1.3M418.6 117.1h1.3M411.5 182.6h1.3M411.7 126.0h1.3M407.5 177.8h1.3M392.3 161.9h1.3M421.3 159.3h1.3M431.8 167.1h1.3M417.4 132.3h1.3M413.5 184.9h1.3M409.9 169.8h1.3M410.8 166.2h1.3M419.9 165.6h1.3M422.5 125.9h1.3M405.4 158.1h1.3M424.8 165.1h1.3M411.8 178.4h1.3M425.1 129.5h1.3M396.0 160.3h1.3M430.1 156.8h1.3M416.3 150.5h1.3M432.4 161.2h1.3M409.4 169.8h1.3M405.2 170.3h1.3M406.4 105.2h1.3M368.7 161.8h1.3M419.1 160.7h1.3M411.2 184.6h1.3M426.2 163.1h1.3M399.8 162.1h1.3M411.2 156.3h1.3M421.4 130.6h1.3M419.5 176.2h1.3M412.1 138.1h1.3M413.1 164.1h1.3M414.1 187.5h1.3M411.8 182.2h1.3M418.5 147.5h1.3M411.2 150.8h1.3M410.7 182.0h1.3M409.5 156.8h1.3M422.0 172.5h1.3M418.9 171.9h1.3M415.3 181.8h1.3M408.4 148.3h1.3M417.5 164.8h1.3M410.2 179.8h1.3M403.6 174.6h1.3M417.6 186.1h1.3M404.1 168.1h1.3M412.4 172.8h1.3M423.1 175.4h1.3M419.3 124.5h1.3M419.6 166.4h1.3M410.7 172.2h1.3M405.2 144.8h1.3M415.6 145.8h1.3M414.8 185.9h1.3M424.7 138.4h1.3M402.8 148.7h1.3M414.1 169.5h1.3M396.9 167.5h1.3M411.6 169.1h1.3M411.4 178.6h1.3M419.4 166.8h1.3M413.9 176.5h1.3M407.3 155.9h1.3M411.3 154.3h1.3M408.1 123.0h1.3M416.0 171.3h1.3M413.1 180.9h1.3M407.7 154.0h1.3M406.8 129.5h1.3M426.4 168.7h1.3M400.9 155.9h1.3M422.1 166.7h1.3M411.0 182.6h1.3M423.7 121.8h1.3M413.5 182.2h1.3M409.7 179.9h1.3M419.2 176.9h1.3M415.0 186.5h1.3M423.6 166.5h1.3M411.2 167.3h1.3M412.4 185.5h1.3M420.7 165.4h1.3M423.4 173.3h1.3M414.0 175.7h1.3M404.2 164.1h1.3M404.5 155.5h1.3M422.0 141.8h1.3M419.9 145.4h1.3M407.3 171.0h1.3M424.0 158.3h1.3M403.1 173.2h1.3M403.0 112.3h1.3M405.0 161.2h1.3M407.4 176.3h1.3M418.9 179.5h1.3M384.7 161.4h1.3M438.3 168.3h1.3M417.2 132.5h1.3M446.5 161.5h1.3M402.8 148.7h1.3M397.8 161.2h1.3M401.4 160.7h1.3M413.0 181.5h1.3M400.0 155.1h1.3M375.9 161.6h1.3M406.5 159.2h1.3M409.5 172.6h1.3M411.3 145.2h1.3M410.2 147.0h1.3M395.9 154.1h1.3M423.3 131.7h1.3M432.3 160.0h1.3M417.9 130.2h1.3M411.8 153.2h1.3M412.0 177.3h1.3M405.1 112.7h1.3M411.6 164.2h1.3M416.0 185.2h1.3M421.3 152.7h1.3M418.8 176.9h1.3M396.1 168.1h1.3M409.2 146.8h1.3M420.9 148.5h1.3M414.7 184.4h1.3M406.1 162.2h1.3M416.0 173.2h1.3M418.1 161.8h1.3M402.1 163.7h1.3M417.6 135.5h1.3M427.0 156.1h1.3M421.5 124.4h1.3M410.7 179.9h1.3M411.3 152.3h1.3M419.8 145.9h1.3M415.3 181.4h1.3M422.5 168.1h1.3M429.8 156.7h1.3M428.7 158.4h1.3M405.9 165.7h1.3M403.3 159.3h1.3M404.6 170.2h1.3M414.7 160.3h1.3M419.8 170.8h1.3M434.9 157.2h1.3M416.2 163.8h1.3M410.6 186.0h1.3M430.7 156.0h1.3M405.1 162.8h1.3M410.3 176.7h1.3M411.5 169.4h1.3M390.0 159.0h1.3M420.2 176.5h1.3M402.7 176.6h1.3M418.2 134.7h1.3M415.2 160.6h1.3M418.0 137.5h1.3M383.7 153.6h1.3M409.8 173.8h1.3M416.7 183.1h1.3M411.1 182.2h1.3M385.5 153.4h1.3M427.2 161.8h1.3M410.8 176.7h1.3M416.9 186.2h1.3M427.6 152.4h1.3M419.9 182.2h1.3M405.3 176.1h1.3M401.9 156.3h1.3M417.6 185.7h1.3M406.9 179.0h1.3M425.4 146.1h1.3M408.4 150.9h1.3M426.6 162.7h1.3M411.9 176.8h1.3M404.2 173.6h1.3M424.5 150.3h1.3M422.3 163.4h1.3M424.4 149.9h1.3M423.4 135.8h1.3M411.3 146.3h1.3M413.5 185.3h1.3M407.3 133.4h1.3M401.8 153.4h1.3M402.8 148.4h1.3M412.2 181.1h1.3M414.5 155.6h1.3M410.5 180.6h1.3M418.6 180.2h1.3M414.3 185.9h1.3M402.9 144.8h1.3M420.7 165.0h1.3M421.4 141.3h1.3M405.3 165.7h1.3M422.8 116.9h1.3M411.2 184.9h1.3M433.5 176.9h1.3M400.0 154.9h1.3M400.5 174.7h1.3M413.4 188.2h1.3M406.3 119.6h1.3M413.8 177.4h1.3M403.4 147.7h1.3M406.7 166.7h1.3M416.6 168.6h1.3M424.0 153.0h1.3M410.5 170.1h1.3M409.0 175.9h1.3M418.8 170.9h1.3M424.0 158.7h1.3M413.7 171.2h1.3M419.9 174.7h1.3M413.7 187.8h1.3M421.3 133.8h1.3M415.6 183.7h1.3M377.4 159.8h1.3M402.1 154.2h1.3M422.8 152.1h1.3M412.5 178.0h1.3M411.0 174.2h1.3M418.1 155.8h1.3M423.1 169.3h1.3M428.3 156.5h1.3M420.7 150.3h1.3M411.9 180.2h1.3M399.3 163.7h1.3M414.9 183.3h1.3M413.7 185.1h1.3M411.2 178.2h1.3M397.3 167.0h1.3M425.0 161.3h1.3M419.5 148.9h1.3M403.1 148.5h1.3M415.4 155.4h1.3M416.2 139.5h1.3M412.5 176.6h1.3M406.3 169.4h1.3M421.9 145.2h1.3M402.4 128.7h1.3M407.0 173.8h1.3M418.5 169.0h1.3M420.9 179.6h1.3M421.8 170.2h1.3M412.4 185.9h1.3M410.2 147.1h1.3M431.9 153.3h1.3M415.9 184.3h1.3M422.5 150.8h1.3M411.9 136.0h1.3M414.6 186.1h1.3M424.3 142.8h1.3M421.9 159.5h1.3M416.4 161.5h1.3M404.2 157.6h1.3M416.9 138.4h1.3M391.8 175.1h1.3M420.3 177.1h1.3M416.1 167.7h1.3M412.3 186.9h1.3M425.6 110.4h1.3M401.4 172.0h1.3M416.3 176.0h1.3M413.5 167.7h1.3M410.0 173.5h1.3M428.7 163.8h1.3M421.3 83.8h1.3M405.5 149.6h1.3M414.4 184.7h1.3M414.1 187.6h1.3M412.3 183.7h1.3M413.1 172.0h1.3M419.7 168.8h1.3M413.9 187.5h1.3M418.2 160.3h1.3M415.9 156.6h1.3M409.9 180.8h1.3M418.4 178.1h1.3M412.8 161.0h1.3M444.1 163.5h1.3M424.8 174.9h1.3M422.2 169.1h1.3M427.7 173.9h1.3M414.4 185.8h1.3M437.4 175.1h1.3M425.6 173.2h1.3M428.0 156.3h1.3M436.9 172.3h1.3M411.9 144.3h1.3M406.3 122.6h1.3M412.0 159.2h1.3M413.0 181.8h1.3M415.2 174.2h1.3M410.1 162.6h1.3M409.2 173.7h1.3M429.1 156.6h1.3M417.7 163.7h1.3M407.2 128.7h1.3M420.0 156.0h1.3M412.4 182.6h1.3M408.1 150.3h1.3M416.6 155.1h1.3M414.4 187.2h1.3M413.9 184.1h1.3M418.6 113.5h1.3M408.7 147.0h1.3M405.4 114.3h1.3M401.0 172.3h1.3M414.2 183.2h1.3M417.4 162.4h1.3M409.5 164.2h1.3M413.2 187.1h1.3M414.3 187.4h1.3M414.6 149.7h1.3M416.1 183.7h1.3M423.4 178.5h1.3M402.2 158.6h1.3M410.8 179.9h1.3M405.7 153.2h1.3M413.3 165.9h1.3M414.4 185.8h1.3M404.6 152.7h1.3M414.2 180.9h1.3M412.3 180.8h1.3M421.6 181.2h1.3M420.6 148.5h1.3M389.6 161.3h1.3M413.6 187.5h1.3M407.1 175.0h1.3M414.8 179.3h1.3M426.8 157.7h1.3M414.6 186.2h1.3M418.4 184.9h1.3M413.1 168.6h1.3M414.5 184.3h1.3M426.0 163.0h1.3M399.2 154.5h1.3M418.3 125.5h1.3M415.8 165.2h1.3M407.7 180.7h1.3M409.5 179.0h1.3M407.9 154.5h1.3M410.7 170.8h1.3M399.8 155.2h1.3M396.0 168.3h1.3M399.7 174.4h1.3M425.7 165.8h1.3M414.6 187.9h1.3M413.9 184.3h1.3M403.3 135.0h1.3M402.5 161.9h1.3M425.8 161.8h1.3M409.9 180.1h1.3M418.4 178.9h1.3M410.1 175.0h1.3M422.9 149.8h1.3M412.5 181.0h1.3M417.2 170.1h1.3M410.7 152.0h1.3M414.0 183.5h1.3M423.5 151.4h1.3M405.4 156.6h1.3M413.0 187.2h1.3M403.3 150.5h1.3M413.3 183.0h1.3M425.6 165.2h1.3M413.4 186.7h1.3M413.2 187.1h1.3M406.6 170.4h1.3M417.5 151.1h1.3M415.6 176.2h1.3M423.2 176.8h1.3M414.4 185.6h1.3M407.2 172.1h1.3M406.9 168.5h1.3M406.9 148.1h1.3M412.2 181.1h1.3M417.4 175.3h1.3M408.3 183.0h1.3M418.1 170.1h1.3M414.9 183.4h1.3M419.9 171.2h1.3M413.1 187.0h1.3M426.5 174.9h1.3M423.8 159.0h1.3M415.2 185.2h1.3M406.5 164.4h1.3M406.0 171.1h1.3M406.2 147.6h1.3M409.9 164.6h1.3M414.0 185.4h1.3M405.9 155.9h1.3M412.7 178.6h1.3M412.5 181.5h1.3M415.9 163.1h1.3M422.8 162.8h1.3M437.5 172.9h1.3M410.7 177.6h1.3M414.0 175.7h1.3M410.5 150.6h1.3M406.1 166.1h1.3M415.0 187.3h1.3M417.9 156.0h1.3M410.6 159.7h1.3M422.3 176.6h1.3M416.5 183.6h1.3M423.8 143.1h1.3M415.0 186.8h1.3M422.5 99.6h1.3M412.7 176.1h1.3M420.3 177.3h1.3M389.1 153.6h1.3M432.8 162.1h1.3M408.0 183.6h1.3M409.9 174.8h1.3M413.0 185.1h1.3M414.4 172.4h1.3M419.1 132.2h1.3M410.3 155.1h1.3M403.0 167.1h1.3M403.5 162.8h1.3M412.9 187.3h1.3M415.1 155.5h1.3M418.3 169.9h1.3M406.1 140.5h1.3M432.0 163.7h1.3M404.8 170.8h1.3M421.5 161.1h1.3M418.9 183.8h1.3M412.0 142.8h1.3M425.2 170.2h1.3M419.8 182.5h1.3M417.9 174.5h1.3M412.6 187.3h1.3M406.7 153.6h1.3M411.6 179.4h1.3M413.0 187.8h1.3M405.8 126.1h1.3M418.8 177.1h1.3M405.6 153.5h1.3M409.8 179.0h1.3M407.2 93.9h1.3M410.8 182.4h1.3M429.7 153.9h1.3M419.6 180.5h1.3M426.7 163.8h1.3M410.0 154.5h1.3M426.2 164.1h1.3M418.2 124.2h1.3M416.8 171.1h1.3M419.6 162.6h1.3M422.0 164.3h1.3M411.4 174.6h1.3M413.9 185.6h1.3M422.8 184.3h1.3M414.8 166.5h1.3M397.7 165.8h1.3M404.2 149.8h1.3M424.6 170.3h1.3M408.2 156.4h1.3M434.7 155.7h1.3M413.8 187.5h1.3M406.7 115.5h1.3M429.5 152.2h1.3M454.8 155.0h1.3M403.2 117.8h1.3M416.6 184.4h1.3M433.6 153.9h1.3M407.0 156.0h1.3M419.4 117.0h1.3M413.3 173.8h1.3M413.4 182.1h1.3M408.9 171.6h1.3M419.8 162.3h1.3M427.4 167.1h1.3M409.2 147.3h1.3M413.4 168.7h1.3M413.2 183.3h1.3M417.1 167.7h1.3M425.5 176.2h1.3M418.4 165.5h1.3M414.4 160.1h1.3M414.5 187.4h1.3M413.0 186.2h1.3M418.2 183.9h1.3M422.6 178.4h1.3M407.3 170.2h1.3M389.1 163.6h1.3M409.8 181.6h1.3M414.0 188.4h1.3M416.1 182.7h1.3M421.9 179.3h1.3M414.2 187.9h1.3M420.1 179.1h1.3M412.4 185.7h1.3M424.6 144.1h1.3M420.2 178.1h1.3M405.4 150.4h1.3M424.3 175.7h1.3M419.8 160.4h1.3M414.1 186.7h1.3M418.9 182.8h1.3M423.4 131.5h1.3M407.5 184.7h1.3M421.5 156.2h1.3M413.6 183.2h1.3M407.5 143.2h1.3M413.3 183.0h1.3M411.0 167.8h1.3M412.9 185.9h1.3M411.5 184.1h1.3M408.0 166.6h1.3M418.1 182.7h1.3M417.0 164.6h1.3M411.6 134.4h1.3M411.7 166.7h1.3M414.6 171.8h1.3M417.1 181.2h1.3M413.8 176.7h1.3M415.8 167.0h1.3M409.3 183.2h1.3M407.6 144.4h1.3M403.0 167.6h1.3M398.9 167.1h1.3M409.4 175.9h1.3M424.6 165.2h1.3M411.5 184.3h1.3M414.1 176.5h1.3M416.0 181.7h1.3M405.4 135.1h1.3M422.0 152.4h1.3M420.2 150.3h1.3M402.0 159.9h1.3M408.6 181.5h1.3M414.1 187.5h1.3M419.8 139.2h1.3M424.9 176.4h1.3M405.5 178.0h1.3M416.4 184.6h1.3M430.8 171.2h1.3M406.5 134.9h1.3M416.3 182.3h1.3M440.7 159.8h1.3M407.6 170.4h1.3M384.5 153.1h1.3M409.7 178.6h1.3M409.7 138.2h1.3M410.4 169.1h1.3M413.8 188.0h1.3M412.3 167.9h1.3M416.4 170.1h1.3M414.6 169.1h1.3M419.7 178.0h1.3M416.1 155.4h1.3M404.6 139.7h1.3M418.2 183.2h1.3M374.9 165.7h1.3M406.8 169.1h1.3M419.7 150.4h1.3M430.6 154.0h1.3M413.4 165.3h1.3M405.7 139.3h1.3M422.0 170.5h1.3M415.9 177.8h1.3M414.0 186.1h1.3M415.7 168.4h1.3M416.0 164.3h1.3M403.4 168.8h1.3M413.7 188.2h1.3M413.9 182.6h1.3M410.8 183.2h1.3M401.1 162.8h1.3M412.8 171.9h1.3M425.3 164.1h1.3M424.6 170.6h1.3M408.0 145.1h1.3M400.2 173.0h1.3M416.3 180.7h1.3M416.1 168.5h1.3M414.7 182.6h1.3M400.1 159.8h1.3M425.4 166.7h1.3M406.8 130.4h1.3M395.0 161.4h1.3M413.2 186.2h1.3M415.2 166.3h1.3M415.9 141.3h1.3M419.5 160.8h1.3M414.1 183.4h1.3M411.2 169.8h1.3M427.6 159.9h1.3M426.2 167.7h1.3M402.7 166.2h1.3M424.2 145.6h1.3M406.6 156.9h1.3M403.5 139.5h1.3M387.8 165.1h1.3M413.6 185.1h1.3M403.2 169.4h1.3M411.5 154.6h1.3M420.0 169.9h1.3M419.7 167.6h1.3M427.5 171.6h1.3M414.0 188.3h1.3M414.1 185.4h1.3M420.4 172.0h1.3M410.4 168.8h1.3M432.2 169.7h1.3M413.9 181.5h1.3M413.1 165.1h1.3M427.2 173.0h1.3M436.7 156.9h1.3M403.4 149.3h1.3M406.4 168.5h1.3M421.3 171.7h1.3M413.9 185.6h1.3M417.8 163.4h1.3M412.8 180.6h1.3M415.3 186.7h1.3M417.8 166.7h1.3M413.6 170.2h1.3M408.8 131.3h1.3M423.2 155.9h1.3M419.7 141.6h1.3M415.4 184.3h1.3M415.7 183.0h1.3M411.9 180.8h1.3M389.6 154.0h1.3M408.4 176.2h1.3M427.5 174.6h1.3M414.2 179.6h1.3M415.8 174.5h1.3M402.2 165.6h1.3M422.5 151.5h1.3M412.6 150.2h1.3M414.6 185.6h1.3M410.8 181.8h1.3M400.6 155.3h1.3M417.1 179.7h1.3M406.6 134.8h1.3M405.7 170.8h1.3M419.7 178.2h1.3M416.6 181.4h1.3M408.8 171.9h1.3M420.3 157.7h1.3M433.1 170.9h1.3M414.6 187.9h1.3M417.5 177.5h1.3M415.6 182.0h1.3M440.2 152.6h1.3M425.9 164.0h1.3M437.7 162.2h1.3M412.4 180.2h1.3M409.7 174.4h1.3M412.6 176.8h1.3M399.1 170.2h1.3M413.0 187.4h1.3M421.0 179.8h1.3M425.0 155.7h1.3M414.2 183.1h1.3M405.1 168.5h1.3M412.9 184.6h1.3M406.2 159.8h1.3M419.3 162.3h1.3M428.1 168.1h1.3M403.7 166.6h1.3M419.1 180.9h1.3M407.8 160.0h1.3M407.5 171.9h1.3M410.6 173.1h1.3M387.1 157.8h1.3M421.5 149.6h1.3M413.6 186.5h1.3M413.7 185.7h1.3M410.7 181.8h1.3M420.8 155.1h1.3M420.0 170.1h1.3M405.7 165.4h1.3M416.8 154.8h1.3M412.8 181.0h1.3M405.4 130.8h1.3M419.8 178.0h1.3M405.5 174.6h1.3M385.3 170.6h1.3M414.0 187.4h1.3M416.5 162.8h1.3M401.5 152.6h1.3M413.1 161.0h1.3M402.6 150.8h1.3M403.1 128.2h1.3M418.2 160.9h1.3M409.3 154.6h1.3M402.7 143.9h1.3M409.2 173.8h1.3M413.4 183.3h1.3M406.5 173.3h1.3M398.1 159.7h1.3M420.7 153.3h1.3M418.5 155.2h1.3M413.9 185.7h1.3M403.1 111.9h1.3M413.7 173.4h1.3M407.6 168.1h1.3M406.3 104.3h1.3M406.0 161.6h1.3M414.9 175.7h1.3M408.8 160.6h1.3M432.0 172.7h1.3M422.2 173.8h1.3M429.0 178.9h1.3M413.4 186.9h1.3M423.4 162.8h1.3M435.9 158.3h1.3M419.4 156.3h1.3M409.4 111.8h1.3M409.1 156.8h1.3M416.6 185.2h1.3M402.7 137.8h1.3M409.8 162.0h1.3M414.1 168.0h1.3M429.8 154.4h1.3M411.2 183.3h1.3M417.2 175.4h1.3M410.9 151.7h1.3M407.6 139.5h1.3M407.9 154.1h1.3M425.6 114.2h1.3M411.1 171.8h1.3M418.4 177.6h1.3M404.5 134.7h1.3M414.0 187.4h1.3M415.6 185.1h1.3M417.1 161.1h1.3M416.8 143.4h1.3M396.2 164.9h1.3M415.5 184.8h1.3M434.7 162.9h1.3M422.1 172.0h1.3M429.7 165.3h1.3M403.1 157.8h1.3M414.1 188.0h1.3M422.1 135.7h1.3M420.0 158.4h1.3M410.7 167.9h1.3M409.5 168.6h1.3M408.3 177.5h1.3M413.9 171.7h1.3M413.5 176.0h1.3M409.3 114.6h1.3M414.8 143.2h1.3M430.0 166.7h1.3M399.3 159.2h1.3M415.3 166.3h1.3M415.7 128.5h1.3M419.6 165.2h1.3M426.7 176.2h1.3M408.0 168.9h1.3M403.5 161.4h1.3M411.6 178.4h1.3M399.7 154.3h1.3M416.0 185.4h1.3M426.1 172.4h1.3M403.5 175.1h1.3M416.7 152.9h1.3M403.0 164.5h1.3M430.8 156.2h1.3M425.1 158.7h1.3M417.1 160.0h1.3M391.8 155.2h1.3M412.0 151.0h1.3M417.1 169.4h1.3M404.1 168.5h1.3M421.9 157.7h1.3M413.0 179.5h1.3M422.4 99.0h1.3M410.5 164.8h1.3M410.6 171.4h1.3M409.3 106.7h1.3M421.2 183.4h1.3M410.2 181.3h1.3M412.7 185.4h1.3M400.0 154.0h1.3M411.5 160.0h1.3M395.3 160.2h1.3M402.7 163.5h1.3M409.9 170.4h1.3M409.1 179.8h1.3M421.4 159.7h1.3M411.4 184.1h1.3M417.6 176.9h1.3M425.2 133.7h1.3M404.0 149.4h1.3M420.5 175.9h1.3M426.9 158.9h1.3M408.0 161.1h1.3M413.0 180.5h1.3M418.2 177.5h1.3M416.2 165.2h1.3M413.9 186.2h1.3M413.4 187.1h1.3M409.9 185.6h1.3M407.6 156.4h1.3M415.6 179.9h1.3M438.5 155.7h1.3M411.4 135.9h1.3M421.6 134.4h1.3M419.9 115.2h1.3M406.1 177.7h1.3M420.2 176.7h1.3M400.3 161.5h1.3M405.6 167.9h1.3M414.1 188.2h1.3M397.5 164.8h1.3M421.8 146.5h1.3M412.3 182.6h1.3M399.1 155.9h1.3M417.2 168.6h1.3M414.5 181.6h1.3M404.3 147.5h1.3M405.2 166.8h1.3M406.1 172.1h1.3M405.7 171.4h1.3M416.8 172.3h1.3M408.5 161.4h1.3M413.1 177.7h1.3M419.4 162.4h1.3M412.9 184.1h1.3M411.7 165.1h1.3M420.2 162.2h1.3M415.7 180.8h1.3M409.2 126.8h1.3M405.6 175.9h1.3M403.5 154.8h1.3M415.6 173.4h1.3M431.3 169.1h1.3M411.4 177.0h1.3M418.7 178.3h1.3M409.0 162.9h1.3M420.7 174.4h1.3M440.4 158.4h1.3M419.7 151.9h1.3M411.0 161.7h1.3M411.5 166.7h1.3M413.6 165.0h1.3M404.7 152.1h1.3M436.5 163.3h1.3M405.1 177.0h1.3M419.1 177.7h1.3M413.0 142.6h1.3M417.5 185.3h1.3M417.5 175.3h1.3M391.3 152.3h1.3M413.6 187.0h1.3M398.0 168.0h1.3M414.4 187.5h1.3M401.6 152.6h1.3M414.8 187.2h1.3M419.6 178.0h1.3M422.7 168.6h1.3M409.9 169.8h1.3M419.0 171.6h1.3M414.1 185.4h1.3M408.8 149.8h1.3M407.1 175.4h1.3M419.3 127.5h1.3M420.0 163.9h1.3M409.4 176.6h1.3M412.0 187.4h1.3M412.7 183.0h1.3M393.9 159.1h1.3M407.2 131.6h1.3M412.3 183.3h1.3M402.6 146.3h1.3M427.7 157.5h1.3M415.1 149.9h1.3M418.1 140.8h1.3M416.5 169.1h1.3M409.1 172.8h1.3M409.6 153.6h1.3M423.3 161.8h1.3M433.1 171.0h1.3M425.7 163.1h1.3M413.7 179.9h1.3M422.7 145.1h1.3M400.5 159.8h1.3M412.3 185.5h1.3M419.5 133.3h1.3M419.0 179.4h1.3M386.7 152.3h1.3M425.2 179.1h1.3M406.1 120.8h1.3M414.9 163.1h1.3M408.0 133.7h1.3M411.1 179.3h1.3M414.0 188.2h1.3M411.1 173.0h1.3M410.3 177.7h1.3M409.9 159.8h1.3M428.9 171.6h1.3M414.3 188.2h1.3M414.7 186.1h1.3M423.4 164.4h1.3M424.2 183.4h1.3M424.1 178.2h1.3M418.1 172.3h1.3M457.0 163.1h1.3M407.2 169.2h1.3M408.9 161.9h1.3M414.4 187.3h1.3M409.4 137.9h1.3M410.7 163.5h1.3M398.4 174.1h1.3M415.1 176.6h1.3M413.9 188.2h1.3M413.8 180.3h1.3M436.3 154.8h1.3M414.8 177.3h1.3M409.6 172.5h1.3M405.0 172.0h1.3M413.4 159.3h1.3M424.0 133.4h1.3M417.9 162.2h1.3M402.8 166.2h1.3M418.6 176.7h1.3M427.6 166.2h1.3M420.5 147.9h1.3M424.5 176.8h1.3M408.5 174.2h1.3M417.5 182.1h1.3M410.7 154.7h1.3M421.5 156.8h1.3M415.3 182.4h1.3M413.2 180.1h1.3M421.8 165.9h1.3M416.5 183.0h1.3M420.4 170.8h1.3M402.6 152.4h1.3M413.7 171.5h1.3M405.2 143.2h1.3M428.0 173.6h1.3M418.2 149.7h1.3M404.6 160.4h1.3M410.6 137.2h1.3M437.5 172.8h1.3M410.0 151.2h1.3M410.6 155.5h1.3M412.9 176.7h1.3M411.5 133.3h1.3M439.7 156.5h1.3M409.9 159.3h1.3M413.2 187.7h1.3M422.1 159.9h1.3M417.9 167.9h1.3M426.2 165.7h1.3M420.9 168.4h1.3M398.3 153.5h1.3M407.2 151.4h1.3M428.3 171.5h1.3M405.1 147.3h1.3M415.8 167.8h1.3M418.9 155.5h1.3M404.7 169.8h1.3M415.4 176.9h1.3M415.5 181.8h1.3M420.5 157.5h1.3M425.6 139.2h1.3M422.2 167.7h1.3M417.2 136.6h1.3M413.1 180.7h1.3M412.5 179.2h1.3M416.6 165.5h1.3M403.1 152.5h1.3M405.3 170.3h1.3M408.6 109.2h1.3M419.4 141.9h1.3M420.7 175.5h1.3M413.0 181.3h1.3M414.6 187.9h1.3M401.7 169.9h1.3M415.2 186.1h1.3M428.3 165.8h1.3M426.0 164.0h1.3M420.0 167.2h1.3M418.6 152.8h1.3M418.7 167.2h1.3M415.6 185.8h1.3M420.2 172.1h1.3M401.8 158.8h1.3M405.4 114.4h1.3M401.3 162.5h1.3M413.7 187.4h1.3M412.6 184.2h1.3M416.1 184.8h1.3M411.8 149.8h1.3M419.1 179.0h1.3M403.6 162.6h1.3M412.1 144.2h1.3M414.1 188.3h1.3M418.3 142.3h1.3M410.1 140.4h1.3M409.6 174.9h1.3M404.9 170.1h1.3M405.6 167.3h1.3M414.9 151.8h1.3M422.8 176.1h1.3M422.3 158.0h1.3M413.2 185.8h1.3M416.5 183.6h1.3M418.3 159.9h1.3M401.0 162.4h1.3M419.6 164.0h1.3M417.3 165.9h1.3M399.5 169.2h1.3M412.4 133.0h1.3M419.9 179.1h1.3M427.1 155.0h1.3M406.5 160.2h1.3M423.0 169.6h1.3M409.6 179.3h1.3M415.7 186.6h1.3M415.4 181.4h1.3M415.6 147.8h1.3M410.6 172.3h1.3M417.9 167.3h1.3M413.2 180.9h1.3M413.8 167.9h1.3M409.4 167.3h1.3M417.8 180.8h1.3M424.1 156.0h1.3M418.9 162.6h1.3M408.3 174.1h1.3M406.9 157.9h1.3M423.5 163.9h1.3M411.9 129.1h1.3M416.4 137.6h1.3M410.1 178.0h1.3M410.2 170.3h1.3M422.2 161.5h1.3M414.3 186.5h1.3M407.6 138.6h1.3M412.3 173.8h1.3M396.8 157.0h1.3M413.6 186.5h1.3M429.0 153.3h1.3M425.0 167.9h1.3M402.7 161.7h1.3M411.9 179.7h1.3M413.8 187.0h1.3M412.4 186.8h1.3M414.8 183.9h1.3M416.5 175.3h1.3M398.4 152.7h1.3M405.6 162.6h1.3M414.8 185.6h1.3M406.8 155.1h1.3M419.2 165.0h1.3M418.7 163.6h1.3M445.3 152.8h1.3M401.1 161.8h1.3M415.9 166.5h1.3M412.0 185.1h1.3M438.4 160.9h1.3M414.3 159.6h1.3M445.1 159.4h1.3M407.5 180.9h1.3M405.9 176.9h1.3M411.3 145.9h1.3M416.0 180.4h1.3M425.6 162.0h1.3M412.2 182.6h1.3M407.6 170.5h1.3M412.0 173.3h1.3M430.8 163.9h1.3M418.3 170.1h1.3M416.4 165.7h1.3M420.4 183.0h1.3M412.3 179.3h1.3M404.6 165.6h1.3M402.2 174.8h1.3M391.9 160.5h1.3M403.9 177.4h1.3M408.1 111.6h1.3M436.3 157.4h1.3M411.9 176.6h1.3M412.7 134.3h1.3M405.6 161.2h1.3M413.6 187.8h1.3M413.4 179.2h1.3M423.7 158.3h1.3M410.7 185.2h1.3M416.3 176.1h1.3M428.9 174.1h1.3M417.7 171.7h1.3M417.1 143.6h1.3M425.9 161.2h1.3M403.7 169.6h1.3M388.1 154.0h1.3M419.6 176.8h1.3M419.9 145.6h1.3M423.4 124.8h1.3M407.2 176.1h1.3M416.3 183.2h1.3M424.3 153.2h1.3M417.2 184.4h1.3M421.7 156.0h1.3M414.4 186.2h1.3M433.5 172.8h1.3M414.1 173.7h1.3M417.3 182.4h1.3M402.0 172.7h1.3M414.9 169.6h1.3M417.4 180.2h1.3M404.8 176.4h1.3M422.1 178.5h1.3M417.7 174.2h1.3M407.6 159.9h1.3M425.4 160.6h1.3M420.9 159.5h1.3M390.4 152.8h1.3M411.2 149.3h1.3M411.6 179.6h1.3M403.2 144.5h1.3M412.7 180.5h1.3M416.5 184.8h1.3M426.1 163.7h1.3M414.3 184.5h1.3M413.1 187.6h1.3M405.8 162.2h1.3M412.6 177.3h1.3M395.5 167.6h1.3M423.7 164.3h1.3M412.1 175.1h1.3M404.3 163.5h1.3M420.1 150.7h1.3M417.3 181.0h1.3M425.5 169.8h1.3M416.8 154.8h1.3M403.6 154.6h1.3M418.7 181.6h1.3M410.6 161.9h1.3M411.1 182.4h1.3M413.7 186.3h1.3M421.5 135.8h1.3M418.6 180.1h1.3M412.3 166.1h1.3M404.2 170.5h1.3M406.2 169.3h1.3M415.8 172.9h1.3M410.4 180.3h1.3M420.7 133.1h1.3M417.4 155.8h1.3M414.8 176.0h1.3M416.5 166.8h1.3M397.8 164.1h1.3M417.1 174.4h1.3M425.8 160.1h1.3M411.8 184.8h1.3M402.2 170.8h1.3M425.0 165.8h1.3M397.6 159.2h1.3M414.0 187.6h1.3M425.0 135.2h1.3M423.6 156.4h1.3M401.9 165.4h1.3M423.5 128.0h1.3M414.6 183.0h1.3M403.4 152.3h1.3M419.6 151.7h1.3M415.3 184.0h1.3M409.0 150.4h1.3M410.6 173.1h1.3M413.2 187.3h1.3M418.1 180.5h1.3M424.8 154.1h1.3M404.8 160.6h1.3M396.2 169.4h1.3M410.1 177.6h1.3M417.2 178.3h1.3M411.5 181.0h1.3M413.0 186.5h1.3M407.4 145.8h1.3M420.0 172.0h1.3M412.7 185.5h1.3M409.8 164.6h1.3M424.8 132.8h1.3M410.1 181.4h1.3M413.6 186.1h1.3M406.0 125.3h1.3M421.7 153.6h1.3M403.1 140.4h1.3M418.5 146.2h1.3M419.1 170.9h1.3M423.8 177.6h1.3M423.5 166.6h1.3M409.2 179.5h1.3M431.0 157.3h1.3M428.6 165.3h1.3M416.3 173.8h1.3M399.9 181.5h1.3M404.7 165.9h1.3M420.0 176.7h1.3M412.2 153.0h1.3M414.1 186.5h1.3M398.3 170.5h1.3M413.2 185.9h1.3M415.1 172.4h1.3M416.1 153.0h1.3M404.0 142.4h1.3M407.2 177.3h1.3M420.2 172.7h1.3M412.7 170.3h1.3M420.8 163.3h1.3M407.6 154.1h1.3M422.0 162.7h1.3M419.1 151.8h1.3M430.6 158.6h1.3M413.7 187.8h1.3M410.1 180.6h1.3M405.2 154.5h1.3M418.9 169.9h1.3M419.4 174.1h1.3M416.6 159.0h1.3M406.1 154.8h1.3M415.6 181.4h1.3M413.3 187.1h1.3M420.8 163.7h1.3M434.2 154.8h1.3M411.6 184.1h1.3M426.9 172.6h1.3M414.0 161.6h1.3M405.1 178.4h1.3M431.3 160.7h1.3M415.2 157.4h1.3M404.5 170.1h1.3M413.8 186.8h1.3M416.2 176.1h1.3M410.0 134.4h1.3M421.9 152.0h1.3M421.6 168.5h1.3M404.1 161.4h1.3M439.1 155.5h1.3M428.0 158.2h1.3M423.7 163.7h1.3M410.7 179.3h1.3M415.6 170.0h1.3M443.6 161.6h1.3M418.2 175.4h1.3M408.3 176.8h1.3M397.7 152.7h1.3M407.2 168.3h1.3M421.7 172.7h1.3M414.3 188.1h1.3M413.6 158.8h1.3M405.8 152.9h1.3M418.7 141.2h1.3M415.3 186.1h1.3M418.2 173.3h1.3M420.5 99.6h1.3M415.8 163.3h1.3M418.9 161.8h1.3M412.2 177.7h1.3M437.5 160.1h1.3M396.5 166.3h1.3M414.1 187.7h1.3M412.9 184.6h1.3M403.3 161.6h1.3M397.5 172.7h1.3M408.2 145.6h1.3M411.9 151.6h1.3M411.7 136.7h1.3M394.8 165.4h1.3M424.0 149.8h1.3M422.6 157.6h1.3M428.2 171.1h1.3M415.6 173.4h1.3M412.5 181.9h1.3M405.0 153.3h1.3M415.3 186.2h1.3M419.9 171.7h1.3M425.5 121.5h1.3M430.6 155.5h1.3M406.1 156.2h1.3M409.0 115.4h1.3M429.0 167.2h1.3M425.8 157.5h1.3M401.1 172.1h1.3M409.2 176.6h1.3M407.2 156.0h1.3M406.1 171.6h1.3M414.9 186.4h1.3M400.8 161.2h1.3M423.7 168.1h1.3M405.2 117.1h1.3M429.6 163.1h1.3M413.4 178.3h1.3M434.3 156.5h1.3M410.7 169.9h1.3M417.9 167.8h1.3M411.5 178.8h1.3M415.2 168.0h1.3M413.7 154.5h1.3M414.6 179.2h1.3M416.0 162.5h1.3M421.0 173.2h1.3M421.4 126.1h1.3M420.0 147.7h1.3M413.5 174.5h1.3M428.9 158.7h1.3M424.7 160.4h1.3M403.2 145.0h1.3M412.4 148.4h1.3M408.9 166.4h1.3M405.8 128.2h1.3M401.2 155.9h1.3M415.7 161.4h1.3M406.9 123.4h1.3M413.3 177.0h1.3M405.5 168.3h1.3M412.8 142.7h1.3M417.3 165.1h1.3M391.5 157.0h1.3M424.9 163.0h1.3M409.9 180.3h1.3M424.4 131.2h1.3M411.8 155.2h1.3M413.1 179.7h1.3M415.5 182.8h1.3M403.8 133.9h1.3M409.0 175.4h1.3M413.7 178.7h1.3M421.3 161.9h1.3M423.8 165.2h1.3M426.1 164.7h1.3M410.2 173.9h1.3M415.2 173.0h1.3M403.0 136.7h1.3M409.6 168.3h1.3M418.3 148.4h1.3M414.5 186.9h1.3M414.9 179.2h1.3M420.7 167.2h1.3M405.1 178.2h1.3M420.0 159.7h1.3M414.5 187.8h1.3M430.1 166.3h1.3M415.0 168.4h1.3M423.8 160.1h1.3M414.3 187.4h1.3M401.4 154.4h1.3M427.0 152.3h1.3M404.8 176.0h1.3M423.7 133.5h1.3M410.2 174.4h1.3M403.2 139.6h1.3M408.5 126.9h1.3M411.2 148.6h1.3M417.1 169.8h1.3M416.2 177.4h1.3M409.4 159.1h1.3M413.2 182.5h1.3M418.1 168.9h1.3M408.9 168.9h1.3M418.2 175.2h1.3M405.9 169.5h1.3M412.6 186.3h1.3M422.8 142.9h1.3M422.1 151.4h1.3M411.7 151.9h1.3M419.6 171.6h1.3M419.1 114.4h1.3M415.1 166.7h1.3M417.4 168.0h1.3M404.0 181.7h1.3M412.0 162.9h1.3M414.1 175.4h1.3M412.5 178.7h1.3M426.9 155.0h1.3M402.9 159.5h1.3M413.9 187.3h1.3M398.2 152.9h1.3M404.1 169.1h1.3M411.7 173.9h1.3M412.3 142.2h1.3M418.9 181.3h1.3M413.2 151.8h1.3M424.1 93.2h1.3M412.8 186.5h1.3M391.7 175.7h1.3M408.2 175.2h1.3M415.7 185.1h1.3M414.3 187.9h1.3M408.0 157.2h1.3M421.9 166.0h1.3M425.9 163.9h1.3M405.3 179.5h1.3M404.7 168.1h1.3M415.2 182.3h1.3M411.4 159.6h1.3M425.4 131.3h1.3M403.5 147.0h1.3M402.8 123.5h1.3M410.7 157.5h1.3M417.5 179.9h1.3M417.2 141.7h1.3M406.2 166.7h1.3M417.6 175.5h1.3M407.9 157.1h1.3M419.5 148.5h1.3M413.5 186.9h1.3M410.7 176.1h1.3M412.0 165.7h1.3M406.9 147.7h1.3M417.3 172.3h1.3M394.8 165.4h1.3M411.9 140.9h1.3M419.9 176.1h1.3M415.0 178.8h1.3M425.6 139.3h1.3M417.4 155.5h1.3M407.6 181.6h1.3M414.2 187.2h1.3M415.1 155.7h1.3M419.5 172.2h1.3M415.8 170.0h1.3M404.3 168.4h1.3M415.2 167.7h1.3M417.5 182.4h1.3M407.0 163.4h1.3M426.2 174.3h1.3M406.9 165.2h1.3M412.3 182.8h1.3M412.7 172.3h1.3M434.2 174.9h1.3M416.6 170.3h1.3M412.6 163.9h1.3M413.8 187.1h1.3M409.1 175.6h1.3M415.1 187.1h1.3M417.6 181.2h1.3M414.2 187.2h1.3M414.4 187.2h1.3M412.0 184.9h1.3M410.8 138.7h1.3M418.9 180.5h1.3M416.7 152.6h1.3M429.8 168.4h1.3M411.4 184.3h1.3M401.5 164.3h1.3M435.3 153.7h1.3M409.3 159.6h1.3M420.9 142.8h1.3M428.5 156.8h1.3M414.9 183.7h1.3M428.8 153.9h1.3M413.3 183.9h1.3M416.8 177.8h1.3M417.1 143.4h1.3M422.4 168.8h1.3M412.5 175.8h1.3M422.4 174.4h1.3M414.0 188.1h1.3M425.5 161.3h1.3M413.0 156.4h1.3M420.2 122.9h1.3M416.1 185.1h1.3M407.2 155.9h1.3M416.7 158.3h1.3M422.1 173.7h1.3M415.4 176.3h1.3M406.8 155.5h1.3M416.7 183.0h1.3M414.4 166.2h1.3M410.7 166.3h1.3M423.5 160.1h1.3M425.3 150.2h1.3M394.5 164.8h1.3M416.9 169.1h1.3M415.4 181.4h1.3M407.4 173.5h1.3M434.6 155.1h1.3M398.6 165.6h1.3M402.8 174.9h1.3M408.9 161.5h1.3M406.2 175.2h1.3M419.4 184.6h1.3M413.5 160.0h1.3M404.3 165.5h1.3M418.6 172.9h1.3M413.5 184.4h1.3M408.1 167.2h1.3M424.3 146.4h1.3M412.2 178.2h1.3M425.2 174.4h1.3M406.7 175.3h1.3M425.6 172.9h1.3M414.9 186.9h1.3M399.0 164.9h1.3M408.4 168.2h1.3M414.7 183.1h1.3M411.4 178.6h1.3M414.2 186.1h1.3M412.0 175.5h1.3M419.5 143.0h1.3M412.1 137.3h1.3M404.7 150.8h1.3M415.6 136.4h1.3M415.1 165.4h1.3M420.0 160.7h1.3M418.5 157.2h1.3M419.3 176.6h1.3M414.4 177.1h1.3M424.9 156.4h1.3M405.7 139.3h1.3M419.6 182.2h1.3M407.3 152.5h1.3M419.3 173.8h1.3M420.3 132.5h1.3M413.6 161.1h1.3M416.6 184.3h1.3M423.5 171.1h1.3M423.1 169.1h1.3M406.5 157.0h1.3M408.3 137.3h1.3M410.8 157.6h1.3M408.4 174.0h1.3M414.7 183.6h1.3M428.4 180.5h1.3M409.2 151.1h1.3M409.8 154.6h1.3M419.5 172.6h1.3M436.5 160.5h1.3M423.1 175.1h1.3M414.8 182.9h1.3M406.7 168.1h1.3M418.1 141.9h1.3M383.8 165.6h1.3M408.9 178.5h1.3M404.5 164.7h1.3M391.8 154.6h1.3M399.8 157.5h1.3M399.8 155.1h1.3M413.5 176.2h1.3M409.4 130.2h1.3M413.6 160.3h1.3M415.3 182.6h1.3M414.5 175.9h1.3M407.9 162.2h1.3M402.4 115.6h1.3M423.7 153.5h1.3M422.6 125.5h1.3M425.8 173.4h1.3M423.5 161.3h1.3M409.9 183.7h1.3M407.1 167.7h1.3M414.7 183.5h1.3M414.5 171.4h1.3M418.7 172.0h1.3M413.5 183.1h1.3M425.4 130.0h1.3M418.6 144.9h1.3M414.4 158.4h1.3M408.9 140.7h1.3M419.6 172.2h1.3M402.0 158.3h1.3M405.9 152.0h1.3M409.8 156.6h1.3M408.9 182.4h1.3M403.9 158.5h1.3M406.1 159.5h1.3M413.2 187.2h1.3M407.6 176.8h1.3M419.4 178.0h1.3M421.8 167.6h1.3M415.3 182.6h1.3M424.6 166.6h1.3M414.1 185.4h1.3M407.9 151.5h1.3M408.0 176.6h1.3M416.0 160.0h1.3M420.8 107.6h1.3M407.2 171.8h1.3M418.9 120.1h1.3M422.7 133.8h1.3M416.9 139.0h1.3M390.4 165.2h1.3M413.5 160.3h1.3M416.6 165.3h1.3M407.0 131.9h1.3M399.7 168.4h1.3M417.1 163.9h1.3M415.5 184.7h1.3M422.0 135.9h1.3M413.0 168.2h1.3M406.8 129.6h1.3M398.0 169.9h1.3M412.5 180.8h1.3M419.9 126.5h1.3M417.7 172.0h1.3M408.4 146.7h1.3M410.8 162.0h1.3M419.6 149.5h1.3M421.8 180.6h1.3M402.5 176.4h1.3M415.8 184.5h1.3M430.2 166.0h1.3M409.9 178.4h1.3M404.9 170.6h1.3M413.5 185.4h1.3M415.3 173.0h1.3M414.2 185.7h1.3M410.3 182.9h1.3M408.4 179.8h1.3M416.3 185.6h1.3M410.4 181.8h1.3M408.3 174.1h1.3M411.3 161.1h1.3M413.9 187.6h1.3M402.5 158.1h1.3M417.0 171.8h1.3M417.3 179.5h1.3M418.7 182.8h1.3M405.6 178.2h1.3M413.2 184.2h1.3M425.2 153.8h1.3M417.8 186.6h1.3M401.6 161.3h1.3M423.3 167.4h1.3M410.0 138.8h1.3M410.3 168.8h1.3M414.3 167.9h1.3M415.2 184.2h1.3M405.1 159.5h1.3M437.0 162.6h1.3M408.5 144.9h1.3M400.3 167.9h1.3M406.4 162.6h1.3M411.2 170.4h1.3M415.2 187.3h1.3M408.9 176.9h1.3M394.8 155.5h1.3M417.1 163.5h1.3M419.7 178.3h1.3M399.7 179.7h1.3M410.5 163.3h1.3M420.1 158.1h1.3M403.0 133.6h1.3M410.2 178.2h1.3M418.3 178.3h1.3M410.2 176.6h1.3M409.2 140.9h1.3M419.7 180.4h1.3M420.2 153.4h1.3M417.8 179.2h1.3M417.1 148.2h1.3M406.6 120.0h1.3M425.1 176.6h1.3M408.5 177.9h1.3M419.4 185.5h1.3M424.0 166.9h1.3M414.0 187.4h1.3M418.4 120.4h1.3M406.1 137.0h1.3M414.9 150.2h1.3M412.7 185.6h1.3M418.7 143.5h1.3M414.9 173.4h1.3M410.8 180.3h1.3M408.0 165.9h1.3M410.8 163.7h1.3M400.6 161.5h1.3M425.3 171.4h1.3M420.2 125.4h1.3M413.8 183.7h1.3M412.0 177.3h1.3M411.3 159.7h1.3M397.0 160.7h1.3M405.3 168.3h1.3M410.1 174.9h1.3M411.1 164.3h1.3M416.6 158.5h1.3M425.3 70.9h1.3M419.9 134.3h1.3M420.7 180.2h1.3M420.9 162.1h1.3M417.4 175.3h1.3M399.4 170.8h1.3M412.7 180.3h1.3M410.0 160.0h1.3M415.6 185.8h1.3M418.1 168.1h1.3M415.7 174.7h1.3M415.5 172.4h1.3M418.8 175.4h1.3M412.5 162.4h1.3M423.1 158.6h1.3M398.4 156.9h1.3M419.9 150.2h1.3M413.8 187.7h1.3M432.2 163.9h1.3M414.5 174.8h1.3M414.0 187.8h1.3M420.6 181.3h1.3M406.7 170.1h1.3M428.4 159.4h1.3M409.1 175.4h1.3M407.6 174.5h1.3M413.4 186.8h1.3M407.7 170.6h1.3M420.5 154.4h1.3M410.7 174.2h1.3M413.3 185.5h1.3M412.2 175.8h1.3M420.3 167.6h1.3M419.8 156.7h1.3M437.1 158.5h1.3M409.9 181.1h1.3M422.5 167.5h1.3M415.5 166.2h1.3M417.6 153.5h1.3M417.0 140.1h1.3M407.2 150.0h1.3M395.3 163.9h1.3M415.6 176.7h1.3M434.7 166.2h1.3M405.2 167.2h1.3M407.1 155.6h1.3M408.0 150.4h1.3M398.6 162.1h1.3M415.0 180.7h1.3M402.3 158.8h1.3M401.1 166.3h1.3M397.5 159.2h1.3M416.4 172.0h1.3M394.8 165.7h1.3M411.1 182.7h1.3M420.0 163.6h1.3M417.6 146.4h1.3M401.0 168.3h1.3M398.4 154.6h1.3M423.3 158.3h1.3M421.5 168.0h1.3M416.4 156.8h1.3M408.8 172.0h1.3M415.6 148.7h1.3M415.8 179.4h1.3M414.2 188.1h1.3M390.5 159.7h1.3M400.7 158.2h1.3M412.1 183.8h1.3M424.2 149.6h1.3M404.5 165.3h1.3M407.4 162.2h1.3M402.7 107.8h1.3M409.9 183.4h1.3M420.8 139.6h1.3M410.3 164.9h1.3M417.7 179.1h1.3M419.8 182.8h1.3M401.4 168.1h1.3M414.2 187.9h1.3M420.3 138.9h1.3M414.0 188.4h1.3M408.5 175.3h1.3M431.0 157.8h1.3M435.9 159.8h1.3M398.5 173.0h1.3M427.4 157.7h1.3M414.5 186.1h1.3M404.7 142.6h1.3M413.2 186.3h1.3M403.1 159.6h1.3M412.7 181.4h1.3M414.6 167.8h1.3M408.9 172.0h1.3M413.3 184.9h1.3M420.0 177.0h1.3M410.5 136.7h1.3M409.9 175.4h1.3M420.3 171.6h1.3M422.0 171.9h1.3M411.8 183.8h1.3M423.7 147.1h1.3M414.5 175.7h1.3M412.3 181.3h1.3M433.9 163.1h1.3M412.0 163.5h1.3M407.3 147.0h1.3M412.7 171.3h1.3M413.2 185.4h1.3M450.3 152.5h1.3M418.4 158.8h1.3M408.5 175.3h1.3M410.5 161.0h1.3M412.7 187.1h1.3M419.2 171.0h1.3M437.6 161.0h1.3M435.9 163.2h1.3M416.0 144.0h1.3M413.1 185.3h1.3M402.6 145.0h1.3M405.4 111.4h1.3M411.6 175.0h1.3M412.8 182.9h1.3M420.2 169.0h1.3M405.5 158.6h1.3M426.6 162.2h1.3M406.5 164.9h1.3M417.9 159.5h1.3M408.4 181.2h1.3M409.4 126.3h1.3M416.6 126.9h1.3M425.5 153.7h1.3M399.4 171.7h1.3M405.1 125.3h1.3M410.4 135.0h1.3M414.9 184.9h1.3M415.0 187.6h1.3M416.3 131.0h1.3M410.9 170.7h1.3M425.1 129.2h1.3M421.5 136.8h1.3M421.6 164.5h1.3M406.9 123.0h1.3M426.4 171.5h1.3M414.2 188.2h1.3M422.0 146.1h1.3M403.0 144.8h1.3M423.6 172.2h1.3M415.4 167.9h1.3M413.7 186.5h1.3M418.3 151.2h1.3M407.6 160.9h1.3M407.3 174.4h1.3M400.5 170.2h1.3M416.6 160.6h1.3M417.9 170.7h1.3M410.2 176.5h1.3M409.1 155.1h1.3M418.5 171.7h1.3M446.3 157.7h1.3M392.4 162.0h1.3M414.5 187.2h1.3M416.0 177.3h1.3M420.6 181.9h1.3M416.4 166.4h1.3M432.7 162.4h1.3M403.7 166.0h1.3M422.4 155.2h1.3M407.8 170.3h1.3M413.5 183.8h1.3M416.7 170.9h1.3M413.6 153.3h1.3M402.5 164.4h1.3M400.6 167.4h1.3M413.1 147.9h1.3M406.8 133.1h1.3M423.4 164.2h1.3M403.7 166.9h1.3M411.3 185.0h1.3M413.9 180.8h1.3M413.7 187.7h1.3M420.9 175.8h1.3M418.2 169.0h1.3M414.7 186.6h1.3M419.1 175.4h1.3M420.0 172.7h1.3M419.5 174.6h1.3M417.6 180.9h1.3M396.0 168.8h1.3M401.1 158.9h1.3M417.5 125.8h1.3M405.5 146.2h1.3M414.2 186.3h1.3M410.2 184.4h1.3M413.8 187.8h1.3M404.8 154.0h1.3M422.7 170.6h1.3M416.1 183.0h1.3M401.9 163.7h1.3M417.7 181.8h1.3M409.9 179.7h1.3M412.5 168.9h1.3M422.8 112.1h1.3M408.5 147.5h1.3M409.3 145.6h1.3M414.5 182.7h1.3M408.4 137.3h1.3M413.3 187.6h1.3M415.2 178.9h1.3M405.5 164.3h1.3M414.7 187.3h1.3M426.1 168.2h1.3M423.5 163.5h1.3M425.4 166.8h1.3M411.5 184.9h1.3M427.8 152.8h1.3M421.0 152.5h1.3M404.8 162.0h1.3M414.9 187.6h1.3M411.9 181.5h1.3M403.8 132.6h1.3M402.3 161.4h1.3M417.1 180.2h1.3M411.9 184.3h1.3M421.3 182.3h1.3M409.4 179.8h1.3M420.5 142.4h1.3M419.3 155.6h1.3M408.3 168.6h1.3M424.9 124.8h1.3M420.8 180.0h1.3M418.5 154.1h1.3M414.6 175.9h1.3M416.8 179.8h1.3M422.4 137.5h1.3M417.8 168.7h1.3M413.9 185.9h1.3M409.0 153.5h1.3M407.3 181.6h1.3M400.6 154.4h1.3M412.0 138.4h1.3M415.3 142.2h1.3M405.6 169.0h1.3M412.2 147.0h1.3M407.6 172.9h1.3M416.5 171.0h1.3M417.6 166.4h1.3M415.1 180.2h1.3M409.7 158.9h1.3M422.6 162.5h1.3M425.1 149.5h1.3M417.5 149.7h1.3M416.9 165.2h1.3M414.1 168.0h1.3M423.1 156.0h1.3M427.0 169.8h1.3M404.5 168.3h1.3M406.2 151.4h1.3M422.7 171.2h1.3M409.5 181.5h1.3M431.0 164.1h1.3M420.0 161.5h1.3M415.6 174.1h1.3M414.4 160.6h1.3M413.6 187.2h1.3M412.5 182.7h1.3M416.6 170.3h1.3M413.1 156.8h1.3M418.1 182.7h1.3M406.6 163.2h1.3M407.4 164.0h1.3M410.8 155.2h1.3M409.7 160.5h1.3M405.0 164.9h1.3M402.1 159.8h1.3M413.1 187.4h1.3M427.1 153.4h1.3M406.3 180.7h1.3M409.7 176.1h1.3M420.2 167.0h1.3M416.7 172.2h1.3M406.0 131.5h1.3M429.0 161.8h1.3M411.7 184.5h1.3M424.7 118.6h1.3M413.0 187.4h1.3M412.3 173.3h1.3M429.9 169.9h1.3M396.2 169.0h1.3M403.2 163.9h1.3M412.1 168.3h1.3M413.0 170.4h1.3M416.9 181.8h1.3M418.4 171.0h1.3M407.6 182.2h1.3M418.2 167.8h1.3M404.7 166.5h1.3M404.9 125.4h1.3M413.7 183.7h1.3M406.6 138.3h1.3M403.4 175.2h1.3M410.1 165.9h1.3M393.1 158.7h1.3M405.5 133.4h1.3M425.4 173.2h1.3M420.6 172.7h1.3M417.4 184.6h1.3M401.6 157.3h1.3M413.1 185.7h1.3M422.1 123.5h1.3M406.0 160.0h1.3M417.3 170.0h1.3M393.7 176.4h1.3M405.8 171.8h1.3M402.7 124.7h1.3M418.4 183.2h1.3M414.4 167.8h1.3M428.2 174.1h1.3M416.5 178.0h1.3M433.2 163.3h1.3M430.4 166.3h1.3M411.4 173.3h1.3M413.8 186.9h1.3M415.1 183.7h1.3M419.1 182.8h1.3M399.4 163.4h1.3M409.5 125.0h1.3M423.7 157.5h1.3M398.3 155.1h1.3M416.3 180.7h1.3M428.4 158.0h1.3M418.0 184.3h1.3M426.6 172.2h1.3M404.1 176.7h1.3M414.1 178.6h1.3M419.3 161.1h1.3M416.7 126.7h1.3M394.9 169.2h1.3M417.1 185.0h1.3M405.3 155.1h1.3M425.1 158.3h1.3M427.0 157.3h1.3M425.0 148.0h1.3M415.7 186.2h1.3M422.9 162.6h1.3M421.8 139.0h1.3M414.3 181.6h1.3M414.5 186.8h1.3M413.2 177.1h1.3M420.4 133.3h1.3M420.0 169.6h1.3M413.9 187.0h1.3M416.4 170.3h1.3M406.4 163.2h1.3M416.5 184.0h1.3M425.5 163.5h1.3M405.4 110.4h1.3M420.4 158.8h1.3M412.9 182.3h1.3M411.4 177.2h1.3M415.7 182.1h1.3M435.1 162.8h1.3M404.9 171.4h1.3M409.1 176.1h1.3M413.7 187.6h1.3M420.6 160.9h1.3M411.2 185.2h1.3M416.5 184.0h1.3M403.6 140.6h1.3M410.0 176.0h1.3M411.4 179.5h1.3M418.0 181.4h1.3M412.6 142.1h1.3M422.0 173.4h1.3M412.0 169.6h1.3M414.6 180.0h1.3M413.6 165.1h1.3M413.8 186.3h1.3M409.2 121.8h1.3M414.0 185.3h1.3M413.1 187.1h1.3M422.0 177.2h1.3M395.2 162.8h1.3M409.9 176.2h1.3M406.3 174.1h1.3M401.0 157.1h1.3M416.8 134.7h1.3M411.0 163.1h1.3M414.3 167.7h1.3M403.4 176.6h1.3M416.0 162.0h1.3M418.5 167.7h1.3M416.5 179.6h1.3M403.2 159.5h1.3M408.1 167.0h1.3M407.9 134.2h1.3M418.5 174.7h1.3M411.3 174.3h1.3M404.2 169.1h1.3M416.2 158.4h1.3M419.7 176.5h1.3M404.0 173.1h1.3M412.4 158.2h1.3M395.2 167.4h1.3M435.4 157.7h1.3M413.6 185.5h1.3M417.5 137.4h1.3M402.9 141.5h1.3M399.0 178.2h1.3M409.9 181.6h1.3M421.6 179.1h1.3M431.5 155.4h1.3M413.6 184.4h1.3M413.6 185.6h1.3M412.5 171.1h1.3M408.8 174.9h1.3M413.3 153.0h1.3M422.3 138.8h1.3M403.7 122.8h1.3M402.8 174.9h1.3M406.0 165.7h1.3M414.9 186.0h1.3M406.3 166.3h1.3M401.5 155.1h1.3M407.5 120.9h1.3M424.9 159.8h1.3M414.5 175.2h1.3M411.6 162.0h1.3M435.3 160.7h1.3M417.8 177.7h1.3M409.9 171.2h1.3M416.1 180.4h1.3M405.3 162.0h1.3M410.1 177.5h1.3M418.0 172.8h1.3M416.4 185.7h1.3M405.9 164.9h1.3M418.7 181.7h1.3M421.6 150.1h1.3M418.3 139.5h1.3M405.9 170.9h1.3M403.1 141.3h1.3M411.9 179.3h1.3M410.7 128.0h1.3M404.5 167.9h1.3M419.4 167.3h1.3M423.1 170.6h1.3M404.8 156.1h1.3M403.3 146.4h1.3M406.9 169.1h1.3M414.8 186.4h1.3M413.9 180.6h1.3M418.2 175.5h1.3M428.9 171.4h1.3M414.9 178.5h1.3M418.3 178.3h1.3M417.0 183.1h1.3M413.5 167.6h1.3M418.0 165.8h1.3M407.1 168.8h1.3M413.1 173.3h1.3M405.8 149.6h1.3M420.6 176.7h1.3M418.0 149.6h1.3M420.4 165.6h1.3M409.6 163.5h1.3M415.6 181.0h1.3M408.2 167.9h1.3M423.0 118.6h1.3M417.3 116.0h1.3M407.4 132.6h1.3M425.0 169.6h1.3M409.3 183.6h1.3M422.1 178.0h1.3M395.9 172.3h1.3M414.0 175.4h1.3M403.6 151.0h1.3M417.0 174.4h1.3M399.1 160.3h1.3M412.1 172.6h1.3M419.9 142.5h1.3M425.1 146.4h1.3M425.2 165.5h1.3M407.3 172.1h1.3M414.4 187.2h1.3M406.5 129.6h1.3M406.2 143.9h1.3M423.0 177.8h1.3M415.6 184.8h1.3M416.2 175.8h1.3M420.9 177.9h1.3M430.0 167.5h1.3M415.7 185.1h1.3M420.7 169.2h1.3M411.5 143.1h1.3M409.4 143.1h1.3M405.1 162.9h1.3M423.3 169.9h1.3M430.3 166.5h1.3M400.3 161.0h1.3M400.6 161.7h1.3M414.8 177.9h1.3M420.6 131.4h1.3M411.5 177.5h1.3M417.4 181.2h1.3M415.5 185.7h1.3M409.4 174.0h1.3M415.4 177.3h1.3M419.0 133.9h1.3M415.2 175.2h1.3M415.3 174.0h1.3M415.8 183.9h1.3M416.5 178.8h1.3M414.0 188.3h1.3M391.1 160.8h1.3M418.7 162.2h1.3M413.1 185.3h1.3M420.3 129.0h1.3M437.3 153.4h1.3M398.1 154.0h1.3M413.7 188.0h1.3M409.9 176.4h1.3M412.1 181.1h1.3M416.7 155.9h1.3M413.7 185.1h1.3M413.6 187.7h1.3M418.6 140.0h1.3M423.6 126.2h1.3M405.7 152.9h1.3M399.5 171.8h1.3M424.6 164.2h1.3M393.6 162.2h1.3M409.4 166.2h1.3M403.3 145.6h1.3M424.1 172.5h1.3M409.6 172.1h1.3M424.6 183.1h1.3M405.3 181.5h1.3M408.7 170.9h1.3M418.6 141.8h1.3M406.6 173.9h1.3M425.4 163.9h1.3M408.9 179.5h1.3M415.5 179.0h1.3M412.2 164.5h1.3M413.5 186.5h1.3M417.7 167.2h1.3M437.0 159.4h1.3M416.9 151.6h1.3M406.5 164.6h1.3M451.0 156.1h1.3M416.8 165.5h1.3M418.3 184.6h1.3M426.4 175.5h1.3M409.6 136.2h1.3M416.7 179.2h1.3M423.9 161.5h1.3M415.7 184.1h1.3M421.2 152.6h1.3M391.4 160.5h1.3M411.5 179.9h1.3M399.1 170.8h1.3M428.0 153.1h1.3M423.7 104.8h1.3M410.4 180.1h1.3M419.0 146.6h1.3M422.7 114.5h1.3M417.4 177.0h1.3M419.8 159.8h1.3M414.5 171.6h1.3M423.8 161.7h1.3M410.4 180.6h1.3M419.8 144.5h1.3M424.3 169.9h1.3M409.1 171.1h1.3M416.6 162.0h1.3M430.0 152.4h1.3M410.2 126.6h1.3M431.0 157.0h1.3M406.8 170.2h1.3M417.2 175.0h1.3M388.0 155.0h1.3M421.8 125.6h1.3M409.9 181.0h1.3M422.6 161.0h1.3M404.7 147.8h1.3M403.0 143.5h1.3M415.5 185.1h1.3M394.4 164.3h1.3M400.8 162.0h1.3M408.9 162.1h1.3M408.4 149.1h1.3M416.1 181.9h1.3M403.3 125.0h1.3M425.5 160.9h1.3M407.5 164.1h1.3M439.4 159.4h1.3M418.8 168.0h1.3M422.4 165.8h1.3M414.6 175.4h1.3M416.8 133.7h1.3M405.8 173.9h1.3M427.9 156.6h1.3M414.3 188.1h1.3M417.9 137.5h1.3M406.9 152.0h1.3M425.3 107.7h1.3M411.0 183.2h1.3M413.9 186.2h1.3M410.1 173.6h1.3M390.6 162.5h1.3M411.9 137.9h1.3M409.0 165.1h1.3M424.6 152.2h1.3M407.2 171.1h1.3M421.0 135.8h1.3M422.0 134.7h1.3M414.3 182.9h1.3M411.4 184.8h1.3M410.8 175.3h1.3M412.1 175.5h1.3M409.6 166.0h1.3M411.9 184.1h1.3M397.1 170.0h1.3M410.8 178.3h1.3M411.2 153.4h1.3M405.4 165.6h1.3M414.2 188.1h1.3M410.8 171.4h1.3M408.4 150.0h1.3M419.9 146.0h1.3M411.2 182.9h1.3M401.7 153.9h1.3M423.4 169.5h1.3M428.9 154.9h1.3M407.2 148.5h1.3M418.6 178.1h1.3M404.7 158.3h1.3M406.4 171.2h1.3M425.4 164.9h1.3M419.7 150.7h1.3M423.2 153.2h1.3M416.6 173.4h1.3M423.0 166.0h1.3M415.4 187.2h1.3M428.3 169.6h1.3M409.4 143.6h1.3M419.4 176.6h1.3M416.3 171.7h1.3M407.8 167.3h1.3M422.4 132.6h1.3M429.0 165.5h1.3M425.6 145.6h1.3M411.8 172.4h1.3M409.4 140.0h1.3M406.2 114.6h1.3M428.1 164.3h1.3M422.2 171.9h1.3M413.5 186.6h1.3M418.1 162.4h1.3M400.1 155.8h1.3M434.4 159.9h1.3M407.3 132.1h1.3M416.6 183.1h1.3M452.8 154.4h1.3M409.2 177.2h1.3M438.0 165.9h1.3M414.4 187.5h1.3M404.4 160.5h1.3M421.5 153.3h1.3M412.5 183.9h1.3M408.0 153.3h1.3M413.4 187.1h1.3M416.3 155.1h1.3M415.9 185.5h1.3M415.5 153.7h1.3M399.3 170.8h1.3M416.5 166.7h1.3M417.1 141.8h1.3M414.2 168.0h1.3M414.8 176.8h1.3M411.9 161.7h1.3M415.7 176.6h1.3M410.8 170.5h1.3M420.6 163.7h1.3M424.8 156.6h1.3M414.2 187.8h1.3M388.1 158.9h1.3M407.1 142.3h1.3M404.6 177.4h1.3M417.2 181.0h1.3M415.4 173.8h1.3M421.4 179.5h1.3M414.6 178.7h1.3M415.8 137.3h1.3M406.2 166.7h1.3M409.2 150.2h1.3M412.8 184.8h1.3M408.4 164.5h1.3M420.7 130.7h1.3M427.5 158.5h1.3M411.5 179.2h1.3M420.9 175.6h1.3M418.9 146.9h1.3M415.6 171.6h1.3M405.2 178.1h1.3M412.6 182.7h1.3M410.8 181.5h1.3M418.5 172.4h1.3M414.2 188.2h1.3M419.3 167.8h1.3M402.2 160.2h1.3M411.2 159.0h1.3M415.1 175.7h1.3M415.8 165.2h1.3M421.1 181.3h1.3M415.9 179.6h1.3M427.4 167.2h1.3M407.8 183.4h1.3M406.2 103.9h1.3M419.3 161.1h1.3M407.8 133.0h1.3M416.8 149.2h1.3M425.3 114.0h1.3M414.5 179.5h1.3M422.3 166.5h1.3M415.1 180.8h1.3M413.7 187.4h1.3M425.6 140.0h1.3M417.4 171.1h1.3M391.5 159.4h1.3M423.4 159.9h1.3M418.8 177.2h1.3M395.7 167.6h1.3M406.1 147.4h1.3M405.3 166.6h1.3M409.8 174.7h1.3M419.6 160.0h1.3M418.3 126.5h1.3M407.3 174.2h1.3M411.1 156.6h1.3M405.4 161.7h1.3M423.4 167.3h1.3M411.8 172.9h1.3M420.7 156.6h1.3M417.1 167.5h1.3M403.5 174.4h1.3M410.2 155.9h1.3M408.7 171.5h1.3M416.0 176.4h1.3M415.5 179.5h1.3M426.0 155.7h1.3M421.3 168.5h1.3M430.2 161.4h1.3M422.4 161.2h1.3M417.2 182.1h1.3M408.2 105.6h1.3M421.8 148.6h1.3M414.6 173.6h1.3M401.8 182.5h1.3M411.7 163.1h1.3M412.5 175.9h1.3M420.9 155.5h1.3M416.0 172.8h1.3M407.3 174.0h1.3M414.0 186.1h1.3M408.6 174.8h1.3M405.1 161.7h1.3M416.4 176.8h1.3M420.3 157.2h1.3M402.2 156.4h1.3M402.8 164.9h1.3M413.7 186.1h1.3M411.2 186.0h1.3M417.6 137.3h1.3M412.5 180.1h1.3M440.2 159.3h1.3M412.9 184.0h1.3M412.1 175.6h1.3M413.5 187.7h1.3M408.8 183.0h1.3M413.1 182.6h1.3M401.1 159.0h1.3M413.7 187.8h1.3M411.2 162.7h1.3M415.4 179.5h1.3M424.5 170.3h1.3M407.6 176.1h1.3M419.6 157.2h1.3M407.3 168.9h1.3M412.5 156.4h1.3M419.2 182.6h1.3M419.6 128.9h1.3M416.0 179.7h1.3M400.5 153.4h1.3M399.5 155.4h1.3M387.1 164.3h1.3M415.8 175.6h1.3M412.6 175.8h1.3M409.3 162.4h1.3M413.6 187.9h1.3M406.8 117.6h1.3M438.1 154.6h1.3M418.0 182.4h1.3M426.7 175.1h1.3M429.6 155.2h1.3M417.6 159.9h1.3M421.1 168.1h1.3M431.0 154.7h1.3M410.9 140.7h1.3M421.2 174.8h1.3M411.3 135.7h1.3M410.1 183.6h1.3M414.1 159.8h1.3M424.2 158.6h1.3M413.4 184.5h1.3M409.4 133.0h1.3M416.2 171.0h1.3M419.1 182.4h1.3M421.4 110.3h1.3M412.8 183.4h1.3M408.9 128.1h1.3M408.6 163.9h1.3M400.7 160.0h1.3M415.3 182.8h1.3M423.7 122.6h1.3M402.4 139.2h1.3M442.6 166.3h1.3M424.2 125.9h1.3M414.6 179.8h1.3M415.0 186.9h1.3M414.1 179.5h1.3M414.8 163.9h1.3M415.8 162.0h1.3M366.1 156.6h1.3M415.2 142.3h1.3M416.4 184.5h1.3M412.9 186.2h1.3M420.3 171.2h1.3M421.4 175.7h1.3M409.9 170.7h1.3M410.1 164.5h1.3M398.4 163.7h1.3M415.4 179.9h1.3M410.5 178.0h1.3M422.5 162.5h1.3M420.3 144.9h1.3M409.0 171.2h1.3M416.5 160.2h1.3M421.6 139.2h1.3M407.1 170.7h1.3M418.2 181.3h1.3M410.3 179.7h1.3M407.9 152.4h1.3M418.4 183.4h1.3M411.8 180.3h1.3M410.5 172.1h1.3M401.3 174.9h1.3M425.7 152.7h1.3M411.4 144.7h1.3M392.5 154.9h1.3M413.5 186.2h1.3M415.1 186.5h1.3M401.9 174.7h1.3M404.0 167.8h1.3M417.8 184.2h1.3M416.7 129.3h1.3M410.5 161.0h1.3M417.3 144.1h1.3M415.9 144.9h1.3M409.9 155.6h1.3M414.8 163.0h1.3M383.6 167.5h1.3M414.3 183.7h1.3M412.7 181.5h1.3M429.9 156.8h1.3M389.3 154.5h1.3M413.1 180.1h1.3M418.3 178.2h1.3M413.3 185.0h1.3M404.5 162.6h1.3M421.8 179.0h1.3M404.7 81.2h1.3M418.5 175.6h1.3M412.2 183.1h1.3M414.7 163.1h1.3M401.2 162.3h1.3M409.4 119.2h1.3M420.9 177.3h1.3M416.1 171.2h1.3M407.3 171.4h1.3M415.2 144.2h1.3M407.9 156.1h1.3M442.1 156.0h1.3M411.4 154.3h1.3M421.7 178.4h1.3M416.7 175.8h1.3M422.3 161.0h1.3M394.8 155.8h1.3M420.1 151.2h1.3M407.1 172.3h1.3M412.7 184.5h1.3M413.0 186.1h1.3M420.5 182.2h1.3M411.1 145.0h1.3M411.7 178.6h1.3M413.4 183.8h1.3M422.2 155.1h1.3M415.6 186.3h1.3M405.4 161.4h1.3M425.0 164.7h1.3M417.5 151.1h1.3M425.3 164.6h1.3M417.2 159.2h1.3M414.3 186.5h1.3M420.3 166.2h1.3M405.2 169.2h1.3M409.6 161.1h1.3M406.8 173.4h1.3M399.9 162.6h1.3M406.4 160.1h1.3M410.0 166.5h1.3M417.0 166.0h1.3M406.8 160.3h1.3M412.9 186.6h1.3M404.9 142.4h1.3M411.0 187.0h1.3M415.3 184.4h1.3M427.7 156.7h1.3M389.7 155.0h1.3M425.1 115.4h1.3M418.1 135.9h1.3M411.0 184.2h1.3M404.6 168.2h1.3M412.3 172.6h1.3M402.1 168.9h1.3M401.4 171.9h1.3M410.7 171.3h1.3M414.2 188.0h1.3M430.5 155.5h1.3M421.2 145.6h1.3M427.4 156.6h1.3M410.5 132.2h1.3M403.5 171.3h1.3M430.6 155.9h1.3M417.3 177.4h1.3M412.3 183.0h1.3M410.8 169.5h1.3M408.1 175.7h1.3M437.7 172.6h1.3M421.8 171.4h1.3M421.2 173.6h1.3M412.8 178.4h1.3M408.2 176.2h1.3M415.7 186.0h1.3M424.4 113.3h1.3M439.1 157.5h1.3M414.1 187.6h1.3M419.4 167.8h1.3M420.9 168.9h1.3M413.5 176.7h1.3M418.2 174.6h1.3M402.6 141.8h1.3M415.7 169.1h1.3M433.0 167.5h1.3M418.7 183.6h1.3M413.8 166.7h1.3M430.0 159.8h1.3M400.6 167.4h1.3M416.1 173.1h1.3M424.6 160.8h1.3M420.0 179.8h1.3M390.2 161.9h1.3M423.9 169.7h1.3M423.9 170.6h1.3M431.9 156.1h1.3M425.9 182.6h1.3M423.7 108.5h1.3M412.6 179.7h1.3M410.7 179.4h1.3M413.6 166.2h1.3M437.3 160.9h1.3M409.6 153.2h1.3M403.7 178.7h1.3M406.1 179.1h1.3M413.5 183.8h1.3M403.6 145.9h1.3M423.3 163.1h1.3M407.3 173.7h1.3M419.8 185.2h1.3M396.4 153.0h1.3M408.4 177.5h1.3M419.7 170.2h1.3M412.2 154.8h1.3M423.0 165.9h1.3M420.0 178.1h1.3M403.8 103.4h1.3M402.8 170.3h1.3M424.6 170.2h1.3M410.7 171.3h1.3M405.5 133.3h1.3M411.6 179.9h1.3M409.5 146.1h1.3M411.0 165.1h1.3M394.2 164.7h1.3M421.7 133.4h1.3M418.7 177.5h1.3M426.0 162.6h1.3M421.0 141.0h1.3M404.3 158.4h1.3M417.7 184.0h1.3M405.0 163.3h1.3M416.4 155.5h1.3M410.2 182.4h1.3M412.3 186.7h1.3M419.8 173.5h1.3M414.5 181.9h1.3M414.5 185.8h1.3M414.4 186.7h1.3M431.4 160.0h1.3M409.9 161.1h1.3M400.8 164.0h1.3M411.1 181.9h1.3M421.3 146.7h1.3M414.5 177.3h1.3M427.0 171.0h1.3M414.6 175.4h1.3M389.1 157.7h1.3M431.0 168.3h1.3M421.7 166.6h1.3M412.8 175.7h1.3M413.4 170.1h1.3M421.1 172.7h1.3M421.6 106.1h1.3M411.7 167.0h1.3M410.6 182.3h1.3M410.4 181.6h1.3M411.6 155.3h1.3M404.6 157.7h1.3M414.9 186.5h1.3M414.7 186.3h1.3M408.1 149.2h1.3M419.5 135.1h1.3M413.4 185.3h1.3M417.2 147.8h1.3M402.3 162.7h1.3M411.9 185.0h1.3M419.1 168.7h1.3M410.1 161.7h1.3M414.2 187.4h1.3M426.8 173.0h1.3M405.4 157.2h1.3M407.0 125.9h1.3M404.2 161.4h1.3M403.8 172.7h1.3M404.8 148.1h1.3M419.6 168.3h1.3M401.7 168.1h1.3M401.9 165.3h1.3M411.5 166.1h1.3M409.9 178.7h1.3M397.5 153.6h1.3M412.1 136.2h1.3M405.1 147.2h1.3M405.3 128.7h1.3M418.5 179.2h1.3M407.5 170.9h1.3M413.8 185.6h1.3M407.0 149.6h1.3M412.5 160.4h1.3M414.2 186.5h1.3M413.4 186.9h1.3M409.5 173.7h1.3M428.6 154.6h1.3M407.5 174.8h1.3M408.8 142.5h1.3M411.1 161.3h1.3M405.2 171.6h1.3M405.2 157.6h1.3M401.6 156.0h1.3M417.8 177.5h1.3M404.1 173.9h1.3M395.1 154.5h1.3M399.4 171.5h1.3M420.7 118.4h1.3M415.0 184.8h1.3M413.1 181.1h1.3M415.0 148.8h1.3M398.2 171.0h1.3M416.9 164.5h1.3M415.6 183.3h1.3M432.3 152.4h1.3M408.5 167.2h1.3M407.6 131.3h1.3M402.4 147.0h1.3M418.1 117.1h1.3M422.4 140.7h1.3M390.3 164.4h1.3M405.0 151.1h1.3M404.4 150.6h1.3M406.4 174.1h1.3M417.9 181.3h1.3M405.8 143.2h1.3M416.0 175.1h1.3M402.4 175.6h1.3M414.7 163.6h1.3M416.8 187.0h1.3M420.4 179.7h1.3M402.4 151.7h1.3M418.6 177.3h1.3M405.9 126.8h1.3M419.0 177.8h1.3M419.5 130.6h1.3M414.4 185.7h1.3M422.9 145.0h1.3M421.2 111.4h1.3M401.6 157.5h1.3M412.4 185.9h1.3M404.3 177.8h1.3M412.2 179.1h1.3M412.2 177.7h1.3M415.3 173.6h1.3M402.2 176.4h1.3M416.9 166.6h1.3M428.2 175.3h1.3M419.5 178.2h1.3M419.6 149.6h1.3M420.5 169.0h1.3M405.8 176.8h1.3M413.4 187.8h1.3M398.9 156.9h1.3M418.6 118.5h1.3M413.2 185.7h1.3M414.9 142.9h1.3M413.6 157.2h1.3M411.1 152.6h1.3M410.8 156.9h1.3M410.5 170.0h1.3M420.9 124.3h1.3M425.9 159.8h1.3M408.0 167.1h1.3M420.2 130.8h1.3M414.0 186.4h1.3M389.3 161.1h1.3M418.9 155.1h1.3M409.1 183.4h1.3M437.6 156.4h1.3M410.6 147.6h1.3M412.9 154.1h1.3M420.0 162.9h1.3M414.8 168.9h1.3M436.5 172.6h1.3M409.5 151.6h1.3M414.8 186.8h1.3M411.2 169.3h1.3M407.6 171.8h1.3M432.6 166.4h1.3M409.8 150.0h1.3M423.3 133.7h1.3M411.9 180.8h1.3M409.7 179.4h1.3M411.5 139.2h1.3M424.9 158.6h1.3M413.0 186.2h1.3M416.0 157.7h1.3M407.7 138.3h1.3M406.1 170.5h1.3M403.1 119.4h1.3M407.0 162.2h1.3M397.4 153.0h1.3M409.0 183.1h1.3M419.1 165.3h1.3M412.6 186.8h1.3M414.0 164.1h1.3M416.0 180.6h1.3M415.0 186.8h1.3M407.5 131.6h1.3M424.1 158.7h1.3M411.9 179.3h1.3M415.4 176.4h1.3M420.8 181.0h1.3M410.5 167.5h1.3M414.3 186.1h1.3M424.1 164.9h1.3M417.5 135.2h1.3M401.0 158.9h1.3M411.3 183.2h1.3M414.2 186.8h1.3M412.6 178.1h1.3M413.7 187.1h1.3M408.3 161.0h1.3M419.6 177.7h1.3M403.6 143.5h1.3M402.6 159.5h1.3M411.3 180.5h1.3M406.0 171.8h1.3M408.3 172.0h1.3M423.7 160.7h1.3M397.3 160.9h1.3M411.1 142.4h1.3M405.2 162.8h1.3M417.0 173.0h1.3M417.4 155.1h1.3M426.8 159.6h1.3M411.5 184.6h1.3M404.2 162.5h1.3M414.0 181.8h1.3M416.8 172.0h1.3M412.1 176.6h1.3M416.8 182.5h1.3M404.5 106.3h1.3M411.1 169.7h1.3M435.3 164.0h1.3M416.0 161.1h1.3M429.1 161.9h1.3M414.4 187.6h1.3M403.9 161.9h1.3M407.1 100.3h1.3M405.2 159.0h1.3M405.3 171.5h1.3M404.5 175.4h1.3M395.8 166.8h1.3M416.5 181.1h1.3M417.2 154.0h1.3M415.0 150.5h1.3M404.6 179.2h1.3M405.2 177.7h1.3M418.3 135.1h1.3M414.5 187.3h1.3M413.6 185.9h1.3M441.1 158.8h1.3M430.6 156.3h1.3M409.8 132.5h1.3M412.2 183.1h1.3M413.5 187.3h1.3M424.8 165.0h1.3M433.3 161.7h1.3M414.5 185.8h1.3M408.9 171.9h1.3M408.9 138.6h1.3M416.1 135.3h1.3M406.7 176.2h1.3M401.9 160.2h1.3M420.4 136.9h1.3M414.2 186.0h1.3M405.3 164.2h1.3M413.0 185.8h1.3M412.4 173.4h1.3M419.4 160.4h1.3M413.6 187.6h1.3M413.7 183.3h1.3M412.5 185.5h1.3M410.1 181.5h1.3M412.3 180.9h1.3M422.6 169.0h1.3M407.8 179.8h1.3M420.9 161.6h1.3M413.0 186.9h1.3M407.7 172.0h1.3M415.1 176.5h1.3M416.3 171.4h1.3M421.4 181.4h1.3M412.9 156.5h1.3M415.5 180.1h1.3M407.7 153.1h1.3M412.8 185.7h1.3M422.9 169.1h1.3M410.0 180.0h1.3M407.3 177.9h1.3M421.2 162.6h1.3M427.5 170.0h1.3M395.5 158.9h1.3M426.4 164.3h1.3M412.9 171.7h1.3M421.9 173.2h1.3M411.4 181.7h1.3M418.3 179.5h1.3M416.3 183.8h1.3M412.9 176.8h1.3M402.8 150.7h1.3M425.4 164.3h1.3M413.2 165.7h1.3M414.7 187.2h1.3M428.5 156.5h1.3M420.6 159.0h1.3M420.3 149.1h1.3M409.1 125.3h1.3M395.4 172.4h1.3M416.2 184.3h1.3M414.8 185.3h1.3M431.2 158.2h1.3M398.0 162.6h1.3M413.8 183.6h1.3M417.9 170.4h1.3M417.1 178.6h1.3M413.2 186.0h1.3M416.5 179.3h1.3M419.8 181.8h1.3M412.2 158.2h1.3M417.6 184.1h1.3M416.3 152.1h1.3M412.3 152.2h1.3M404.5 166.8h1.3M419.8 118.2h1.3M409.5 163.5h1.3M424.9 166.6h1.3M414.4 181.8h1.3M427.3 158.4h1.3M410.4 155.8h1.3M420.6 175.8h1.3M415.6 172.9h1.3M411.7 176.8h1.3M415.7 172.8h1.3M407.8 164.0h1.3M418.0 160.7h1.3M418.9 168.3h1.3M396.5 156.2h1.3M419.3 156.3h1.3M405.7 173.2h1.3M417.4 184.3h1.3M415.5 146.5h1.3M420.9 161.0h1.3M408.9 141.4h1.3M406.3 137.1h1.3M409.7 176.0h1.3M411.9 166.3h1.3M419.8 170.4h1.3M422.1 168.6h1.3M438.7 152.5h1.3M394.2 152.9h1.3M411.7 165.2h1.3M414.8 178.8h1.3M410.6 159.2h1.3M424.6 156.1h1.3M418.8 176.8h1.3M420.8 150.6h1.3M402.5 152.9h1.3M417.0 183.3h1.3M411.3 147.0h1.3M413.0 155.9h1.3M423.4 161.6h1.3M417.9 175.3h1.3M421.6 171.1h1.3M397.3 167.1h1.3M413.0 166.9h1.3M411.1 175.7h1.3M418.6 167.8h1.3M414.0 187.1h1.3M402.7 151.3h1.3M423.9 165.0h1.3M419.7 168.1h1.3M413.7 187.7h1.3M410.5 179.8h1.3M407.6 162.7h1.3M429.4 158.0h1.3M414.7 178.8h1.3M410.9 177.6h1.3M413.6 163.3h1.3M459.7 156.4h1.3M418.8 146.8h1.3M423.8 141.3h1.3M414.0 188.4h1.3M414.4 187.7h1.3M384.5 162.5h1.3M408.1 121.7h1.3M428.4 159.6h1.3M426.0 161.5h1.3M410.1 178.3h1.3M411.0 164.9h1.3M410.5 161.6h1.3M403.6 153.0h1.3M420.3 149.3h1.3M424.5 137.9h1.3M412.7 148.8h1.3M419.3 177.7h1.3M401.4 168.9h1.3M419.2 165.7h1.3M403.8 159.5h1.3M406.3 174.3h1.3M420.5 180.5h1.3M417.7 179.5h1.3M412.5 184.0h1.3M446.7 154.1h1.3M418.7 173.4h1.3M416.9 172.1h1.3M416.4 180.1h1.3M396.0 159.0h1.3M424.4 130.5h1.3M413.2 181.2h1.3M414.4 158.4h1.3M406.6 88.5h1.3M403.7 141.7h1.3M403.5 167.3h1.3M407.8 160.5h1.3M406.7 184.4h1.3M419.1 179.6h1.3M407.7 181.4h1.3M410.1 169.4h1.3M413.6 187.0h1.3M412.7 177.4h1.3M413.3 181.4h1.3M414.3 163.0h1.3M414.0 188.2h1.3M411.8 182.3h1.3M428.0 164.1h1.3M409.1 151.8h1.3M416.8 170.1h1.3M394.3 161.3h1.3M422.5 165.0h1.3M412.3 186.0h1.3M405.4 169.3h1.3M405.5 165.9h1.3M424.0 151.1h1.3M418.4 175.7h1.3M411.6 182.8h1.3M403.7 148.2h1.3M411.1 179.6h1.3M404.9 164.6h1.3M407.1 155.9h1.3M419.6 171.4h1.3M402.5 159.7h1.3M418.9 174.7h1.3M416.9 175.7h1.3M413.7 186.8h1.3M406.3 161.7h1.3M406.0 136.0h1.3M408.8 177.8h1.3M414.2 188.2h1.3M417.9 178.9h1.3M417.5 128.5h1.3M412.2 160.4h1.3M412.5 187.3h1.3M402.9 155.3h1.3M424.2 121.6h1.3M417.2 185.4h1.3M417.5 137.2h1.3M405.8 98.1h1.3M402.4 116.1h1.3M414.2 180.1h1.3M409.6 177.4h1.3M414.1 184.1h1.3M418.3 175.0h1.3M422.7 117.1h1.3M416.4 180.9h1.3M410.9 144.5h1.3M418.4 170.7h1.3M416.2 186.1h1.3M414.0 168.8h1.3M419.2 176.5h1.3M417.1 158.6h1.3M420.1 148.5h1.3M409.4 183.4h1.3M415.2 186.0h1.3M421.2 150.6h1.3M411.0 182.2h1.3M413.5 172.5h1.3M425.3 154.3h1.3M418.4 174.5h1.3M410.0 158.6h1.3M410.0 179.9h1.3M402.6 113.9h1.3M412.6 178.1h1.3M418.6 177.7h1.3M414.0 167.9h1.3M416.9 184.2h1.3M416.6 183.5h1.3M434.9 160.2h1.3M415.0 185.6h1.3M415.8 174.7h1.3M433.7 166.8h1.3M414.4 182.9h1.3M414.0 188.0h1.3M419.9 178.3h1.3M416.8 182.5h1.3M443.1 153.2h1.3M420.1 151.1h1.3M394.2 162.9h1.3M444.8 153.8h1.3M414.3 186.9h1.3M421.1 170.6h1.3M436.5 155.9h1.3M415.0 173.8h1.3M418.3 131.1h1.3M410.6 154.7h1.3M419.0 159.8h1.3M400.9 172.7h1.3M429.9 164.6h1.3M413.1 185.7h1.3M412.2 159.5h1.3M389.4 159.5h1.3M396.4 154.3h1.3M424.2 180.5h1.3M416.1 182.2h1.3M423.0 166.4h1.3M407.3 152.6h1.3M414.2 175.9h1.3M415.4 162.9h1.3M412.2 142.8h1.3M417.1 165.9h1.3M401.5 161.7h1.3M434.7 157.1h1.3M419.5 175.7h1.3M412.1 180.9h1.3M411.8 184.3h1.3M405.2 167.2h1.3M407.2 155.9h1.3M415.0 162.6h1.3M411.4 145.3h1.3M398.1 155.2h1.3M402.1 159.9h1.3M427.9 156.7h1.3M424.7 154.9h1.3M396.3 169.9h1.3M416.0 176.2h1.3M413.0 186.9h1.3M399.5 166.5h1.3M423.8 141.7h1.3M422.7 172.0h1.3M388.7 158.7h1.3M413.8 183.6h1.3M421.6 118.8h1.3M415.5 167.8h1.3M431.5 178.5h1.3M425.1 165.3h1.3M412.8 183.7h1.3M418.7 183.4h1.3M422.2 174.9h1.3M409.0 178.3h1.3M418.8 138.5h1.3M415.6 186.8h1.3M414.1 187.9h1.3M432.1 173.2h1.3M409.5 185.8h1.3M424.9 164.6h1.3M423.3 174.0h1.3M428.0 161.4h1.3M416.4 166.6h1.3M411.8 143.5h1.3M406.3 178.7h1.3M403.3 149.8h1.3M423.5 174.1h1.3M412.4 181.6h1.3M413.2 179.3h1.3M414.4 186.1h1.3M407.0 168.8h1.3M411.0 177.9h1.3M408.2 173.7h1.3M402.4 176.0h1.3M403.0 156.4h1.3M413.8 162.3h1.3M418.1 164.2h1.3M399.0 153.5h1.3M409.0 113.4h1.3M419.0 122.1h1.3M419.6 152.6h1.3M403.4 164.2h1.3M424.9 162.2h1.3M405.3 97.0h1.3M406.2 146.0h1.3M413.0 162.3h1.3M425.2 175.3h1.3M402.8 167.6h1.3M403.0 159.7h1.3M418.9 171.9h1.3M419.2 142.5h1.3M409.0 174.7h1.3M420.4 166.2h1.3M405.6 150.2h1.3M409.2 164.5h1.3M400.2 152.4h1.3M413.2 183.1h1.3M426.1 164.7h1.3M418.2 152.3h1.3M420.1 158.5h1.3M407.2 111.0h1.3M414.0 163.4h1.3M415.9 183.2h1.3M418.3 178.7h1.3M410.4 140.0h1.3M409.6 170.4h1.3M429.6 164.0h1.3M413.5 169.1h1.3M415.1 165.9h1.3M415.1 182.9h1.3M418.4 149.7h1.3M412.9 186.3h1.3M394.2 162.3h1.3M416.3 158.5h1.3M416.1 184.4h1.3M435.4 160.4h1.3M390.0 153.6h1.3M413.0 167.4h1.3M416.0 181.9h1.3M426.7 169.1h1.3M414.5 182.3h1.3M407.2 181.3h1.3M403.1 178.6h1.3M425.3 176.7h1.3M442.3 155.2h1.3M402.2 175.3h1.3M424.5 135.1h1.3M394.2 161.5h1.3M419.7 125.0h1.3M400.7 155.4h1.3M418.5 125.0h1.3M414.2 184.2h1.3M389.9 161.1h1.3M420.4 175.0h1.3M428.4 173.4h1.3M407.2 133.4h1.3M416.0 185.1h1.3M404.2 116.5h1.3M396.8 162.5h1.3M412.5 138.7h1.3M417.3 163.6h1.3M412.6 153.0h1.3M364.8 155.1h1.3M407.7 180.3h1.3M413.3 186.8h1.3M436.4 172.7h1.3M424.4 114.7h1.3M411.2 177.5h1.3M413.5 175.0h1.3M411.5 159.4h1.3M403.1 162.0h1.3M413.3 185.6h1.3M419.5 164.3h1.3M411.1 168.2h1.3M401.8 164.4h1.3M415.7 176.0h1.3M425.8 156.2h1.3M414.6 188.0h1.3M412.8 186.9h1.3M440.6 157.1h1.3M408.6 173.5h1.3M400.0 160.6h1.3M407.1 142.8h1.3M413.3 186.9h1.3M418.5 147.7h1.3M420.3 117.4h1.3M424.6 129.0h1.3M413.6 186.4h1.3M404.5 154.1h1.3M420.6 181.8h1.3M406.5 118.4h1.3M396.2 177.5h1.3M414.7 161.7h1.3M414.1 188.2h1.3M414.4 180.1h1.3M429.4 170.3h1.3M416.0 179.2h1.3M427.3 159.5h1.3M406.4 170.8h1.3M400.2 160.9h1.3M418.0 156.6h1.3M417.6 169.4h1.3M415.0 157.2h1.3M434.5 152.1h1.3M409.4 179.6h1.3M399.7 162.6h1.3M411.1 181.5h1.3M396.5 152.0h1.3M412.0 184.3h1.3M414.0 187.5h1.3M409.8 172.8h1.3M424.5 164.7h1.3M416.4 163.9h1.3M415.9 176.5h1.3M408.0 172.8h1.3M411.0 144.1h1.3M411.0 137.8h1.3M415.8 185.8h1.3M412.6 184.8h1.3M418.2 174.1h1.3M407.5 169.7h1.3M412.3 172.3h1.3M392.4 159.9h1.3M415.9 183.3h1.3M414.9 186.9h1.3M407.2 166.7h1.3M418.8 170.0h1.3M410.9 182.2h1.3M423.9 161.4h1.3M406.0 177.9h1.3M407.9 148.4h1.3M401.2 156.3h1.3M430.6 152.2h1.3M414.7 183.5h1.3M411.4 182.1h1.3M413.3 168.9h1.3M413.9 188.3h1.3M436.4 152.7h1.3M436.7 151.9h1.3M412.8 184.3h1.3M409.8 164.9h1.3M412.1 180.1h1.3M426.0 158.3h1.3M419.5 165.3h1.3M412.6 181.8h1.3M415.0 180.8h1.3M409.7 179.2h1.3M419.3 139.8h1.3M410.7 181.0h1.3M417.6 169.8h1.3M413.8 176.6h1.3M413.2 182.3h1.3M418.1 132.8h1.3M425.9 169.6h1.3M427.8 155.7h1.3M425.2 164.7h1.3M410.0 131.2h1.3M421.4 121.7h1.3M427.3 153.5h1.3M404.6 105.2h1.3M419.4 174.9h1.3M404.3 161.1h1.3M393.4 157.5h1.3M424.5 171.1h1.3M409.2 181.1h1.3M424.4 115.0h1.3M406.7 164.8h1.3M412.0 187.1h1.3M417.3 149.5h1.3M415.4 185.7h1.3M416.0 169.8h1.3M405.3 158.8h1.3M416.4 183.4h1.3M404.1 159.0h1.3M406.4 174.7h1.3M410.7 183.7h1.3M434.9 163.4h1.3M417.5 138.5h1.3M399.6 152.2h1.3M412.9 179.4h1.3M399.8 160.2h1.3M416.3 177.4h1.3M415.9 184.5h1.3M427.1 159.4h1.3M444.2 154.0h1.3M422.2 176.2h1.3M415.6 179.2h1.3M393.0 165.4h1.3M405.8 132.5h1.3M412.5 187.7h1.3M409.7 174.9h1.3M418.9 178.7h1.3M417.4 128.6h1.3M394.6 172.4h1.3M414.0 188.4h1.3M392.6 152.3h1.3M420.0 178.1h1.3M412.2 162.5h1.3M415.3 145.2h1.3M431.5 169.1h1.3M424.7 168.3h1.3M411.5 155.6h1.3M416.8 179.0h1.3M420.1 151.1h1.3M417.2 185.5h1.3M422.2 163.7h1.3M409.1 176.1h1.3M413.4 172.9h1.3M424.0 159.3h1.3M403.5 147.7h1.3M419.9 156.9h1.3M405.1 153.1h1.3M395.7 168.3h1.3M413.2 181.6h1.3M416.7 166.1h1.3M413.8 187.0h1.3M412.6 185.1h1.3M418.7 158.4h1.3M420.0 166.9h1.3M423.1 171.4h1.3M400.5 158.4h1.3M412.0 154.2h1.3M407.1 126.2h1.3M393.5 163.0h1.3M413.4 181.5h1.3M418.7 156.8h1.3M410.4 133.4h1.3M406.0 148.7h1.3M416.5 184.3h1.3M411.1 180.8h1.3M408.3 172.0h1.3M421.9 173.7h1.3M415.9 140.7h1.3M419.9 163.0h1.3M410.0 114.4h1.3M442.2 168.1h1.3M408.7 161.9h1.3M410.4 141.7h1.3M414.6 187.5h1.3M409.8 166.2h1.3M418.8 183.1h1.3M410.4 178.5h1.3M414.3 187.6h1.3M401.6 161.8h1.3M415.4 174.2h1.3M401.5 172.9h1.3M418.8 183.5h1.3M407.0 131.7h1.3M414.1 176.2h1.3M405.1 153.5h1.3M416.5 184.4h1.3M434.0 164.5h1.3M420.6 142.9h1.3M394.2 161.4h1.3M422.0 153.2h1.3M421.7 174.2h1.3M402.2 158.0h1.3M397.9 168.1h1.3M409.3 150.5h1.3M434.4 164.3h1.3M424.5 161.5h1.3M418.9 167.3h1.3M409.7 156.9h1.3M430.9 169.1h1.3M414.4 183.9h1.3M413.0 185.6h1.3M424.2 164.1h1.3M399.8 152.0h1.3M395.5 167.0h1.3M416.5 177.0h1.3M414.9 146.6h1.3M403.3 162.5h1.3M413.2 163.2h1.3M426.9 172.7h1.3M423.7 167.6h1.3M413.9 188.3h1.3M415.9 180.7h1.3M442.6 154.7h1.3M422.6 139.2h1.3M416.5 177.8h1.3M411.9 177.6h1.3M416.2 155.8h1.3M423.2 154.0h1.3M418.2 181.9h1.3M412.0 134.4h1.3M420.2 179.5h1.3M417.6 151.0h1.3M405.1 132.5h1.3M412.3 172.2h1.3M420.3 129.3h1.3M421.9 180.2h1.3M418.0 170.5h1.3M407.1 155.3h1.3M413.6 182.4h1.3M410.8 131.4h1.3M420.6 168.2h1.3M411.9 182.7h1.3M413.8 179.7h1.3M411.0 156.2h1.3M422.1 177.2h1.3M424.5 172.8h1.3M427.1 155.8h1.3M412.3 171.8h1.3M411.7 154.4h1.3M421.8 180.5h1.3M425.9 174.4h1.3M401.9 173.5h1.3M413.5 159.1h1.3M411.2 178.0h1.3M402.5 170.9h1.3M404.6 149.9h1.3M412.3 176.0h1.3M410.6 168.4h1.3M414.7 163.9h1.3M422.6 166.0h1.3M413.7 187.6h1.3M415.3 183.9h1.3M412.5 160.0h1.3M415.2 184.4h1.3M436.9 155.5h1.3M413.0 141.1h1.3M408.3 125.6h1.3M417.1 180.8h1.3M412.0 183.3h1.3M412.2 179.6h1.3M413.0 176.5h1.3M400.2 163.4h1.3M397.9 153.5h1.3M409.3 170.1h1.3M407.7 159.5h1.3M418.0 176.2h1.3M414.0 188.3h1.3M407.5 182.1h1.3M398.4 164.6h1.3M409.5 177.5h1.3M400.1 153.0h1.3M416.4 165.7h1.3M411.5 157.0h1.3M415.9 183.5h1.3M399.0 171.5h1.3M411.7 178.3h1.3M425.4 101.0h1.3M428.0 160.3h1.3M426.0 174.8h1.3M422.2 181.5h1.3M412.3 185.9h1.3M420.7 150.8h1.3M418.9 183.9h1.3M422.5 180.2h1.3M413.9 181.5h1.3M421.9 179.9h1.3M414.2 187.2h1.3M429.0 154.9h1.3M420.2 180.9h1.3M416.3 176.5h1.3M411.1 164.3h1.3M423.9 175.1h1.3M407.5 158.2h1.3M408.4 174.6h1.3M417.8 139.8h1.3M406.7 141.3h1.3M413.9 154.8h1.3M410.6 176.7h1.3M405.0 156.9h1.3M390.2 153.2h1.3M420.0 171.7h1.3M412.4 179.3h1.3M418.4 118.3h1.3M422.5 140.9h1.3M395.2 166.7h1.3M411.3 171.5h1.3M425.3 174.3h1.3M406.2 173.6h1.3M405.3 152.8h1.3M403.0 175.0h1.3M423.9 100.6h1.3M394.7 154.3h1.3M418.4 169.9h1.3M404.2 164.1h1.3M405.5 169.8h1.3M411.9 178.0h1.3M405.3 120.9h1.3M427.3 152.1h1.3M404.7 134.0h1.3M409.7 178.9h1.3M415.4 152.1h1.3M396.1 168.5h1.3M412.6 183.6h1.3M418.6 179.6h1.3M403.2 151.1h1.3M402.7 117.2h1.3M405.8 181.2h1.3M395.5 151.9h1.3M390.0 173.3h1.3M418.7 179.0h1.3M404.5 179.2h1.3M419.2 179.6h1.3M422.8 148.7h1.3M426.1 176.0h1.3M407.6 165.0h1.3M406.0 147.5h1.3M424.3 168.8h1.3M424.3 158.5h1.3M413.2 178.4h1.3M415.1 180.2h1.3M412.0 183.5h1.3M413.6 187.7h1.3M408.7 180.2h1.3M414.5 158.1h1.3M423.3 167.4h1.3M413.8 170.8h1.3M415.9 182.7h1.3M420.3 175.2h1.3M416.8 155.6h1.3M412.3 178.9h1.3M415.5 163.2h1.3M423.5 167.7h1.3M417.0 174.9h1.3M421.6 146.1h1.3M398.8 175.6h1.3M416.3 181.8h1.3M419.0 178.3h1.3M418.2 180.4h1.3M406.6 156.0h1.3M413.8 185.7h1.3M415.5 178.9h1.3M401.1 170.9h1.3M419.3 165.9h1.3M412.0 164.4h1.3M435.9 165.3h1.3M425.5 162.1h1.3M422.8 165.9h1.3M397.7 173.0h1.3M423.0 160.5h1.3M403.7 135.5h1.3M411.0 135.2h1.3M407.2 178.4h1.3M404.1 161.5h1.3M419.2 169.4h1.3M412.4 178.5h1.3M405.7 158.7h1.3M414.3 186.9h1.3M421.7 161.3h1.3M414.2 160.2h1.3M417.3 184.0h1.3M412.6 185.1h1.3M399.5 165.7h1.3M412.7 179.0h1.3M408.9 179.6h1.3M425.1 104.6h1.3M400.0 178.1h1.3M417.2 183.3h1.3M421.3 158.9h1.3M416.4 182.8h1.3M414.5 170.3h1.3M428.7 167.9h1.3M436.2 153.7h1.3M417.0 135.8h1.3M418.9 178.6h1.3M406.8 146.8h1.3M406.2 138.4h1.3M417.0 165.7h1.3M436.8 167.2h1.3M418.5 182.5h1.3M425.8 171.1h1.3M405.1 152.6h1.3M420.1 182.0h1.3M441.0 168.4h1.3M419.7 180.9h1.3M420.7 146.6h1.3M413.3 181.4h1.3M431.4 166.5h1.3M407.0 114.1h1.3M400.6 155.6h1.3M386.1 153.6h1.3M377.4 165.1h1.3M422.5 170.9h1.3M417.5 184.3h1.3M426.5 163.7h1.3M422.4 176.0h1.3M412.0 165.7h1.3M413.2 185.8h1.3M437.2 170.6h1.3M425.0 163.7h1.3M424.8 87.7h1.3M417.5 117.1h1.3M420.0 143.8h1.3M411.1 179.6h1.3M416.4 181.6h1.3M408.3 173.4h1.3M423.2 167.1h1.3M413.0 171.3h1.3M416.7 183.5h1.3M417.4 182.8h1.3M413.4 173.1h1.3M410.7 161.5h1.3M417.9 166.1h1.3M425.0 153.6h1.3M406.9 182.8h1.3M414.2 182.6h1.3M415.2 186.4h1.3M412.7 184.3h1.3M427.0 174.6h1.3M418.4 168.1h1.3M412.6 167.6h1.3M395.6 163.1h1.3M400.3 158.3h1.3M412.3 177.1h1.3M424.1 170.6h1.3M420.9 157.4h1.3M431.7 157.5h1.3M408.1 141.3h1.3M414.9 154.6h1.3M410.8 181.3h1.3M415.8 184.9h1.3M413.6 188.0h1.3M395.9 173.4h1.3M414.0 188.4h1.3M443.3 164.3h1.3M400.0 158.5h1.3M414.2 163.3h1.3M399.9 168.8h1.3M416.4 185.9h1.3M440.6 155.1h1.3M409.4 168.6h1.3M418.5 160.8h1.3M410.4 171.5h1.3M412.1 154.5h1.3M413.7 187.9h1.3M428.3 154.8h1.3M403.1 138.1h1.3M414.7 178.1h1.3M420.5 170.3h1.3M414.9 172.7h1.3M417.7 160.3h1.3M413.5 187.4h1.3M419.3 170.2h1.3M425.6 130.0h1.3M416.2 182.3h1.3M414.0 184.1h1.3M415.9 177.4h1.3M429.0 157.0h1.3M420.7 165.7h1.3M424.5 131.2h1.3M399.7 172.5h1.3M417.5 128.8h1.3M404.2 164.3h1.3M438.3 153.7h1.3M389.0 164.8h1.3M409.4 118.1h1.3M407.5 171.2h1.3M403.0 177.6h1.3M410.1 180.5h1.3M420.1 173.0h1.3M423.4 162.1h1.3M405.1 177.9h1.3M410.5 179.4h1.3M406.9 152.5h1.3M432.7 152.4h1.3M422.4 171.6h1.3M437.1 160.4h1.3M416.6 184.2h1.3M419.7 148.4h1.3M417.9 176.1h1.3M417.6 179.8h1.3M411.6 174.8h1.3M414.3 158.7h1.3M407.5 161.1h1.3M408.3 175.8h1.3M422.3 127.3h1.3M412.2 174.2h1.3M418.0 184.8h1.3M435.9 160.2h1.3M411.6 156.7h1.3M412.9 147.8h1.3M408.6 164.1h1.3M408.9 183.1h1.3M417.9 181.9h1.3M403.0 164.9h1.3M404.3 168.2h1.3M420.2 121.5h1.3M407.9 165.5h1.3M407.3 172.3h1.3M414.2 188.0h1.3M405.5 160.7h1.3M406.5 155.7h1.3M431.6 164.0h1.3M415.5 182.8h1.3M410.6 159.9h1.3M417.1 146.7h1.3M396.3 168.4h1.3M426.5 163.2h1.3M411.7 152.9h1.3M411.1 175.9h1.3M412.3 183.7h1.3M417.0 179.9h1.3M417.1 180.5h1.3M414.6 164.6h1.3M411.2 185.3h1.3M420.8 135.6h1.3M405.9 146.1h1.3M407.9 174.0h1.3M405.5 178.5h1.3M412.1 182.9h1.3M413.6 169.2h1.3M421.3 155.6h1.3M422.9 143.2h1.3M415.4 149.3h1.3M409.7 127.6h1.3M399.7 160.7h1.3M420.6 172.5h1.3M419.1 173.4h1.3M417.0 183.3h1.3M400.4 156.1h1.3M416.7 183.8h1.3M412.9 161.4h1.3M412.8 180.9h1.3M416.4 180.6h1.3M413.4 188.1h1.3M415.8 172.0h1.3M414.4 184.4h1.3M396.6 168.6h1.3M400.3 161.9h1.3M408.5 178.0h1.3M426.6 154.1h1.3M405.5 123.4h1.3M414.3 186.0h1.3M412.4 177.3h1.3M410.7 181.0h1.3M395.7 166.7h1.3M402.7 92.8h1.3M422.0 176.2h1.3M432.4 174.1h1.3M418.2 172.8h1.3M410.6 172.0h1.3M412.9 166.4h1.3M408.1 108.8h1.3M425.7 157.0h1.3M408.8 173.2h1.3M413.6 168.5h1.3M417.8 129.4h1.3M401.6 154.8h1.3M420.3 185.1h1.3M412.2 172.4h1.3M413.2 179.3h1.3M433.2 163.8h1.3M378.1 166.7h1.3M404.1 168.2h1.3M422.2 144.6h1.3M401.7 175.7h1.3M415.8 184.0h1.3M421.1 154.8h1.3M420.8 174.7h1.3M389.2 160.6h1.3M435.5 165.5h1.3M406.6 133.5h1.3M416.6 159.0h1.3M419.3 151.5h1.3M414.0 188.3h1.3M414.0 188.1h1.3M396.2 153.0h1.3M417.2 167.4h1.3M422.5 179.1h1.3M424.6 176.4h1.3M410.7 159.1h1.3M410.4 165.5h1.3M416.6 170.6h1.3M392.7 172.9h1.3M409.2 177.0h1.3M402.8 165.0h1.3M438.9 171.2h1.3M414.3 186.3h1.3M390.7 159.6h1.3M410.2 175.1h1.3M422.1 112.8h1.3M413.4 180.8h1.3M403.0 145.2h1.3M405.8 175.5h1.3M411.3 178.7h1.3M413.6 184.0h1.3M395.4 167.4h1.3M414.0 188.3h1.3M403.6 143.8h1.3M413.9 179.9h1.3M425.8 160.9h1.3M412.8 181.0h1.3M414.0 188.2h1.3M400.6 179.2h1.3M440.3 160.6h1.3M387.8 157.3h1.3M422.3 172.9h1.3M423.2 114.0h1.3M414.1 186.6h1.3M424.5 109.6h1.3M411.5 178.0h1.3M420.3 162.2h1.3M408.1 162.7h1.3M406.9 111.9h1.3M420.1 177.1h1.3M414.9 177.0h1.3M418.8 174.6h1.3M411.8 173.8h1.3M421.4 162.4h1.3M410.1 180.0h1.3M433.4 152.5h1.3M405.0 173.4h1.3M417.8 185.1h1.3M423.4 173.2h1.3M418.2 176.5h1.3M414.9 175.0h1.3M415.1 186.7h1.3M399.5 155.5h1.3M412.2 171.4h1.3M416.2 154.3h1.3M408.6 176.5h1.3M409.9 179.1h1.3M409.5 173.5h1.3M412.0 180.9h1.3M397.5 168.8h1.3M404.5 146.9h1.3M425.1 130.6h1.3M411.2 120.4h1.3M423.5 182.0h1.3M420.3 128.4h1.3M417.6 185.1h1.3M419.3 180.7h1.3M411.3 155.6h1.3M386.4 162.1h1.3M399.7 169.8h1.3M416.4 175.0h1.3M422.4 147.0h1.3M412.7 170.3h1.3M421.0 179.5h1.3M413.6 177.4h1.3M410.0 178.1h1.3M398.9 164.0h1.3M416.2 142.5h1.3M415.9 186.5h1.3M405.6 169.1h1.3M401.7 155.8h1.3M404.1 148.2h1.3M404.6 148.9h1.3M413.4 186.6h1.3M413.8 186.9h1.3M416.9 137.3h1.3M415.6 169.8h1.3M412.4 137.3h1.3M408.6 180.9h1.3M394.3 160.4h1.3M410.3 179.1h1.3M413.7 179.8h1.3M408.8 179.1h1.3M411.3 180.6h1.3M422.7 137.2h1.3M418.9 130.0h1.3M409.3 178.1h1.3M411.8 181.4h1.3M417.9 132.8h1.3M403.4 176.4h1.3M396.4 153.6h1.3M420.5 158.9h1.3M402.3 168.3h1.3M407.9 162.4h1.3M403.8 162.7h1.3M408.7 144.6h1.3M414.1 183.0h1.3M415.5 172.7h1.3M415.4 171.3h1.3M407.7 185.0h1.3M421.0 181.1h1.3M409.6 175.8h1.3M415.7 181.3h1.3M419.6 150.8h1.3M412.5 157.9h1.3M394.3 168.7h1.3M414.8 159.7h1.3M422.2 168.7h1.3M408.4 140.4h1.3M407.3 115.9h1.3M419.1 176.2h1.3M416.5 177.5h1.3M419.8 171.7h1.3M413.5 181.3h1.3M415.4 175.5h1.3M419.6 182.3h1.3M417.4 111.3h1.3M410.7 181.8h1.3M424.9 108.0h1.3M412.3 166.3h1.3M409.6 158.6h1.3M417.5 174.9h1.3M419.8 165.9h1.3M409.6 121.2h1.3M419.1 149.5h1.3M420.6 180.1h1.3M407.5 167.2h1.3M409.4 161.3h1.3M412.2 185.3h1.3M419.8 176.4h1.3M418.4 163.7h1.3M415.7 181.2h1.3M416.2 185.0h1.3M415.1 139.6h1.3M412.2 183.4h1.3M410.8 149.1h1.3M410.5 176.3h1.3M404.4 169.7h1.3M416.3 156.1h1.3M406.4 167.0h1.3M416.5 134.7h1.3M422.9 158.4h1.3M418.9 154.5h1.3M415.2 177.4h1.3M420.7 175.3h1.3M402.6 159.5h1.3M406.3 172.9h1.3M422.3 178.5h1.3M422.4 116.5h1.3M403.7 116.1h1.3M412.9 182.0h1.3M412.9 169.8h1.3M421.3 163.5h1.3M414.1 188.0h1.3M414.0 177.2h1.3M410.0 150.3h1.3M416.6 172.0h1.3M406.5 143.2h1.3M413.2 185.9h1.3M397.8 169.0h1.3M414.4 183.6h1.3M413.6 185.5h1.3M423.6 154.4h1.3M421.5 169.4h1.3M424.5 158.8h1.3M421.9 157.9h1.3M409.5 173.8h1.3M419.8 182.2h1.3M412.1 144.1h1.3M411.2 177.4h1.3M415.0 181.0h1.3M418.4 173.7h1.3M414.7 172.2h1.3M396.1 164.7h1.3M423.8 168.9h1.3M408.1 138.6h1.3M424.7 125.6h1.3M408.6 153.2h1.3M422.4 164.8h1.3M410.9 153.8h1.3M410.4 154.7h1.3M422.3 147.6h1.3M407.7 165.6h1.3M416.4 181.7h1.3M414.8 156.5h1.3M388.5 154.6h1.3M417.2 170.5h1.3M423.7 129.3h1.3M405.8 170.3h1.3M414.3 174.0h1.3M412.3 148.2h1.3M404.3 140.9h1.3M421.1 159.9h1.3M411.9 169.7h1.3M410.9 134.7h1.3M418.7 179.1h1.3M398.4 153.8h1.3M410.2 181.6h1.3M412.6 177.0h1.3M391.2 152.4h1.3M393.8 163.1h1.3M418.2 180.6h1.3M405.8 176.7h1.3M425.1 161.9h1.3M411.7 155.3h1.3M413.4 174.1h1.3M414.1 169.9h1.3M417.9 181.1h1.3M423.2 161.9h1.3M433.5 160.2h1.3M411.9 146.3h1.3M426.4 155.7h1.3M427.8 168.4h1.3M421.5 129.4h1.3M407.0 171.3h1.3M424.5 142.4h1.3M397.3 152.2h1.3M410.8 167.3h1.3M411.0 147.8h1.3M398.8 156.2h1.3M409.0 172.4h1.3M417.9 155.3h1.3M402.4 155.4h1.3M428.0 157.6h1.3M411.8 182.2h1.3M425.4 144.0h1.3M403.5 129.2h1.3M430.5 169.6h1.3M415.8 182.5h1.3M429.4 161.0h1.3M412.9 172.7h1.3M410.9 173.2h1.3M413.5 187.7h1.3M407.5 165.2h1.3M414.5 185.7h1.3M415.9 171.9h1.3M405.8 98.6h1.3M422.8 152.6h1.3M406.3 159.0h1.3M401.8 169.4h1.3M414.9 167.9h1.3M411.2 175.1h1.3M407.7 175.7h1.3M417.1 174.7h1.3M392.7 163.2h1.3M399.3 155.5h1.3M415.8 146.3h1.3M410.4 182.4h1.3M420.6 157.4h1.3M415.9 159.0h1.3M421.3 168.7h1.3M412.1 178.9h1.3M412.2 169.8h1.3M416.9 150.7h1.3M412.8 186.6h1.3M422.6 169.9h1.3M412.9 186.0h1.3M410.1 171.4h1.3M414.4 185.7h1.3M418.1 143.6h1.3M401.2 164.9h1.3M423.3 150.9h1.3M429.3 170.0h1.3M408.7 133.3h1.3M409.8 115.9h1.3M407.6 166.8h1.3M410.3 181.3h1.3M409.6 164.7h1.3M413.0 181.3h1.3M420.3 174.2h1.3M419.3 154.1h1.3M424.3 135.0h1.3M414.2 187.8h1.3M415.4 137.4h1.3M432.0 167.6h1.3M417.7 184.3h1.3M403.2 154.6h1.3M418.9 177.4h1.3M434.6 159.5h1.3M422.4 177.4h1.3M406.6 171.1h1.3M389.4 152.1h1.3M410.3 167.0h1.3M420.6 178.7h1.3M413.1 174.6h1.3M413.2 145.1h1.3M418.3 153.7h1.3M419.3 174.5h1.3M414.1 182.1h1.3M410.8 166.7h1.3M415.9 160.2h1.3M416.2 178.2h1.3M407.2 156.9h1.3M408.9 144.0h1.3M408.0 181.4h1.3M421.6 161.8h1.3M418.8 179.2h1.3M413.7 187.7h1.3M415.3 185.2h1.3M408.1 181.0h1.3M434.9 154.8h1.3M401.9 159.5h1.3M414.1 188.3h1.3M422.7 171.9h1.3M427.4 167.3h1.3M423.7 43.9h1.3M473.7 158.4h1.3M468.9 154.4h1.3M466.3 164.0h1.3M453.0 169.3h1.3M445.9 165.9h1.3M449.6 165.9h1.3M435.3 166.5h1.3" stroke="#1c1c1c" stroke-width="1.3" fill="none"/>
<path d="M399.3 141.2h1.3M396.4 140.5h1.3M383.7 119.6h1.3M390.8 140.4h1.3M399.4 144.0h1.3M390.6 142.6h1.3M399.9 106.4h1.3M353.5 136.4h1.3M386.8 136.9h1.3M395.1 145.4h1.3M394.6 132.2h1.3M382.6 149.2h1.3M391.7 123.5h1.3M400.3 137.8h1.3M389.0 107.6h1.3M398.1 143.6h1.3M376.6 107.7h1.3M401.2 148.8h1.3M391.5 145.5h1.3M402.0 120.6h1.3M387.5 131.0h1.3M390.3 106.9h1.3M401.9 135.4h1.3M379.9 120.2h1.3M399.4 140.1h1.3M391.8 127.0h1.3M400.9 131.7h1.3M384.6 130.6h1.3M394.6 146.0h1.3M389.0 135.0h1.3M400.6 87.1h1.3M339.1 116.8h1.3M384.8 128.3h1.3M390.7 136.3h1.3M380.3 128.6h1.3M400.8 148.8h1.3M383.5 132.8h1.3M397.4 149.6h1.3M388.3 137.8h1.3M393.1 138.1h1.3M392.1 108.8h1.3M395.9 151.4h1.3M401.9 147.2h1.3M390.3 131.3h1.3M390.1 140.5h1.3M387.9 148.0h1.3M398.5 146.4h1.3M384.5 116.8h1.3M398.0 110.0h1.3M394.1 132.7h1.3M393.4 107.9h1.3M399.6 133.0h1.3M386.7 133.5h1.3M395.0 142.9h1.3M401.3 139.2h1.3M398.5 136.3h1.3M377.2 144.2h1.3M382.9 128.0h1.3M389.3 97.2h1.3M400.8 151.9h1.3M373.1 80.3h1.3M397.1 98.3h1.3M401.3 129.1h1.3M386.9 124.0h1.3M401.2 82.8h1.3M387.5 117.9h1.3M389.2 148.4h1.3M391.1 108.5h1.3M382.5 139.4h1.3M399.4 101.3h1.3M399.6 149.8h1.3M383.6 134.7h1.3M385.6 143.6h1.3M402.0 146.6h1.3M373.5 141.1h1.3M395.1 147.2h1.3M385.4 148.9h1.3M394.6 74.6h1.3M400.2 151.1h1.3M388.2 129.7h1.3M400.3 124.8h1.3M398.1 150.3h1.3M396.7 129.0h1.3M387.1 141.2h1.3M394.5 144.4h1.3M398.0 136.7h1.3M402.2 149.1h1.3M394.2 133.6h1.3M388.0 133.6h1.3M380.9 137.3h1.3M380.3 131.6h1.3M373.1 144.0h1.3M397.2 146.2h1.3M373.9 134.8h1.3M402.1 144.6h1.3M390.7 142.3h1.3M384.2 127.0h1.3M398.0 127.8h1.3M392.2 65.3h1.3M390.5 127.5h1.3M398.7 67.2h1.3M399.0 144.6h1.3M392.4 102.1h1.3M384.3 141.0h1.3M381.6 125.4h1.3M365.1 115.8h1.3M397.3 122.7h1.3M400.7 150.8h1.3M376.4 114.6h1.3M391.8 149.9h1.3M401.3 131.9h1.3M380.3 107.5h1.3M380.5 143.2h1.3M375.8 102.6h1.3M400.3 105.5h1.3M391.7 113.1h1.3M390.9 141.3h1.3M398.2 150.5h1.3M359.0 126.7h1.3M373.4 115.3h1.3M388.6 135.9h1.3M389.0 128.3h1.3M395.1 150.6h1.3M395.4 97.6h1.3M399.4 119.2h1.3M393.3 123.9h1.3M394.9 148.3h1.3M399.9 127.1h1.3M392.0 150.8h1.3M386.6 96.6h1.3M396.1 148.6h1.3M391.7 143.0h1.3M348.0 121.6h1.3M395.3 123.4h1.3M390.7 145.9h1.3M390.1 123.2h1.3M389.5 125.3h1.3M387.1 148.7h1.3M382.4 147.9h1.3M392.6 134.0h1.3M399.0 108.3h1.3M392.6 138.7h1.3M401.5 151.7h1.3M397.9 127.1h1.3M390.8 140.0h1.3M399.1 151.8h1.3M396.0 151.8h1.3M392.9 116.9h1.3M389.8 130.9h1.3M383.4 129.0h1.3M397.3 138.4h1.3M399.4 143.7h1.3M390.3 138.8h1.3M401.6 135.4h1.3M352.1 122.4h1.3M399.3 133.3h1.3M390.5 122.8h1.3M397.4 139.3h1.3M395.1 145.3h1.3M396.3 150.7h1.3M388.2 124.9h1.3M396.7 96.4h1.3M398.7 114.6h1.3M378.0 145.9h1.3M401.7 115.0h1.3M381.3 147.1h1.3M364.7 127.1h1.3M377.5 150.6h1.3M388.9 131.6h1.3M398.8 148.3h1.3M388.5 131.5h1.3M393.7 106.5h1.3M396.6 134.6h1.3M383.2 124.1h1.3M394.4 115.5h1.3M394.4 137.0h1.3M396.0 133.3h1.3M385.1 128.5h1.3M375.2 135.6h1.3M398.5 135.9h1.3M374.6 135.0h1.3M395.5 92.3h1.3M400.2 129.0h1.3M381.2 117.5h1.3M396.6 114.0h1.3M395.0 148.6h1.3M392.5 137.6h1.3M384.6 135.9h1.3M397.5 105.9h1.3M391.2 120.1h1.3M389.5 123.9h1.3M395.1 129.6h1.3M389.4 102.1h1.3M395.8 128.8h1.3M369.2 118.5h1.3M375.0 136.3h1.3M360.7 132.9h1.3M390.2 142.6h1.3M385.9 114.9h1.3M360.0 138.6h1.3M395.1 132.3h1.3M398.9 81.7h1.3M385.7 103.8h1.3M390.1 126.5h1.3M392.6 138.7h1.3M399.5 150.4h1.3M385.0 119.5h1.3M393.6 120.0h1.3M388.1 109.9h1.3M384.5 128.1h1.3M389.5 140.8h1.3M383.1 113.7h1.3M373.9 135.3h1.3M401.1 86.8h1.3M394.0 109.6h1.3M393.2 134.3h1.3M398.6 145.5h1.3M398.9 150.8h1.3M387.8 131.6h1.3M385.1 110.9h1.3M394.3 147.5h1.3M399.8 83.7h1.3M390.2 135.6h1.3M392.0 131.7h1.3M390.9 133.9h1.3M397.5 149.2h1.3M394.7 147.6h1.3M393.2 139.1h1.3M390.8 144.3h1.3M391.1 125.9h1.3M399.8 141.6h1.3M379.5 141.9h1.3M348.3 148.3h1.3M396.7 145.0h1.3M396.8 144.6h1.3M393.3 125.4h1.3M378.4 148.3h1.3M391.8 130.5h1.3M392.8 147.4h1.3M383.6 124.1h1.3M390.0 138.6h1.3M392.7 150.0h1.3M383.2 132.6h1.3M380.7 141.6h1.3M396.7 121.6h1.3M394.1 116.2h1.3M390.9 139.0h1.3M393.8 126.4h1.3M393.7 106.8h1.3M384.0 108.4h1.3M389.7 118.8h1.3M379.2 98.2h1.3M401.4 134.9h1.3M390.7 123.5h1.3M386.3 133.6h1.3M396.7 137.4h1.3M361.1 102.1h1.3M389.8 140.6h1.3M398.1 132.7h1.3M385.3 111.6h1.3M390.7 126.4h1.3M388.5 88.7h1.3M388.9 137.7h1.3M393.3 143.2h1.3M399.7 87.0h1.3M387.6 130.1h1.3M387.8 133.8h1.3M393.8 115.8h1.3M378.2 105.0h1.3M389.1 129.2h1.3M393.0 114.9h1.3M391.8 144.5h1.3M395.1 132.8h1.3M391.7 130.7h1.3M384.8 121.8h1.3M400.7 142.1h1.3M380.4 144.2h1.3M386.6 127.0h1.3M379.4 135.2h1.3M385.7 100.7h1.3M397.8 149.0h1.3M379.9 125.7h1.3M394.2 131.9h1.3M398.2 144.0h1.3M391.8 136.2h1.3M389.2 151.7h1.3M397.8 105.4h1.3M368.1 135.3h1.3M394.7 129.0h1.3M367.7 137.0h1.3M396.9 138.1h1.3M402.0 125.1h1.3M393.2 142.3h1.3M400.8 123.9h1.3M393.8 148.7h1.3M395.7 136.9h1.3M396.2 90.1h1.3M381.9 80.9h1.3M392.6 127.9h1.3M393.5 138.7h1.3M386.8 140.6h1.3M401.5 141.3h1.3M398.2 135.0h1.3M400.5 135.3h1.3M400.2 127.5h1.3M400.6 134.6h1.3M385.5 129.7h1.3M397.1 116.0h1.3M382.6 148.0h1.3M390.6 129.3h1.3M384.0 119.0h1.3M396.7 137.8h1.3M400.3 134.9h1.3M389.4 135.5h1.3M391.0 139.4h1.3M338.6 135.0h1.3M367.1 103.6h1.3M395.2 135.4h1.3M398.6 137.6h1.3M400.9 149.2h1.3M380.2 143.8h1.3M399.5 151.5h1.3M387.3 125.0h1.3M388.0 121.8h1.3M394.2 132.6h1.3M388.7 151.4h1.3M388.9 124.9h1.3M330.5 140.6h1.3M394.1 138.4h1.3M396.7 146.0h1.3M398.6 147.1h1.3M394.4 138.5h1.3M374.0 111.0h1.3M398.1 112.6h1.3M390.5 129.2h1.3M379.0 133.8h1.3M390.3 151.8h1.3M399.5 128.9h1.3M401.1 145.7h1.3M387.8 134.8h1.3M397.8 135.1h1.3M392.5 131.1h1.3M342.3 106.6h1.3M395.4 130.0h1.3M397.0 83.2h1.3M380.7 148.1h1.3M389.4 110.3h1.3M388.9 101.5h1.3M398.5 104.2h1.3M397.2 136.5h1.3M395.8 107.1h1.3M397.9 111.0h1.3M391.2 128.5h1.3M374.6 109.8h1.3M401.0 138.5h1.3M398.2 133.1h1.3M389.9 139.7h1.3M376.2 125.8h1.3M390.4 122.0h1.3M376.9 102.3h1.3M399.8 150.9h1.3M391.8 133.0h1.3M399.4 124.4h1.3M393.5 147.2h1.3M384.9 140.0h1.3M393.1 143.4h1.3M399.5 139.7h1.3M402.2 147.2h1.3M394.1 141.3h1.3M398.8 135.9h1.3M393.1 139.0h1.3M396.8 123.0h1.3M384.8 142.7h1.3M395.0 128.6h1.3M396.6 151.3h1.3M368.1 133.5h1.3M386.9 125.6h1.3M400.4 145.5h1.3M396.8 134.9h1.3M380.2 131.7h1.3M401.9 124.2h1.3M384.1 130.4h1.3M392.1 139.3h1.3M399.8 146.2h1.3M386.0 121.5h1.3M390.9 124.8h1.3M399.9 138.6h1.3M402.0 121.3h1.3M377.2 117.6h1.3M398.8 113.1h1.3M360.5 122.7h1.3M390.3 133.9h1.3M400.3 127.3h1.3M401.1 119.6h1.3M394.7 136.1h1.3M388.1 119.7h1.3M401.2 136.6h1.3M396.5 127.5h1.3M390.1 141.6h1.3M399.2 144.0h1.3M392.9 127.1h1.3M391.9 131.5h1.3M399.5 70.7h1.3M391.8 137.2h1.3M401.2 110.8h1.3M385.2 150.2h1.3M398.9 148.1h1.3M391.9 139.5h1.3M391.5 131.6h1.3M391.0 113.9h1.3M395.2 142.8h1.3M384.8 124.0h1.3M398.1 117.8h1.3M386.1 132.7h1.3M401.5 148.4h1.3M395.9 131.4h1.3M402.1 140.8h1.3M390.5 133.4h1.3M389.5 138.6h1.3M395.1 140.1h1.3M377.0 135.8h1.3M393.0 125.7h1.3M399.2 149.4h1.3M398.6 149.6h1.3M368.4 90.8h1.3M400.1 150.2h1.3M399.5 126.2h1.3M395.8 134.3h1.3M401.9 142.7h1.3M382.7 124.0h1.3M400.6 147.8h1.3M385.2 129.5h1.3M394.8 132.9h1.3M383.2 140.2h1.3M390.5 131.2h1.3M400.6 136.0h1.3M398.0 141.6h1.3M377.9 115.9h1.3M395.9 143.0h1.3M381.1 101.7h1.3M398.2 117.3h1.3M400.2 91.8h1.3M374.2 143.1h1.3M394.7 151.2h1.3M392.2 132.1h1.3M375.8 96.4h1.3M394.3 149.8h1.3M392.1 131.7h1.3M375.6 114.9h1.3M380.8 134.2h1.3M393.5 148.3h1.3M377.8 128.2h1.3M391.8 131.9h1.3M376.9 109.9h1.3M385.3 119.0h1.3M382.4 120.9h1.3M393.3 129.6h1.3M385.3 123.1h1.3M398.5 140.0h1.3M382.3 97.8h1.3M399.1 122.2h1.3M398.6 140.5h1.3M384.8 138.8h1.3M392.6 141.8h1.3M397.1 144.2h1.3M399.1 148.0h1.3M397.2 123.2h1.3M393.6 149.0h1.3M372.6 128.8h1.3M394.9 150.1h1.3M395.4 127.2h1.3M374.2 114.7h1.3M400.2 140.6h1.3M385.7 123.9h1.3M400.9 133.0h1.3M382.2 134.2h1.3M377.7 143.0h1.3M393.5 111.0h1.3M399.4 141.1h1.3M389.4 134.3h1.3M380.2 128.0h1.3M369.7 133.5h1.3M381.8 148.1h1.3M396.8 151.8h1.3M388.4 123.7h1.3M400.7 145.6h1.3M393.6 148.0h1.3M395.1 148.2h1.3M399.4 138.7h1.3M387.6 132.3h1.3M400.4 119.5h1.3M400.3 150.9h1.3M379.9 110.1h1.3M399.1 149.8h1.3M401.1 125.3h1.3M396.4 127.1h1.3M386.7 147.0h1.3M400.5 132.4h1.3M388.4 137.5h1.3M394.1 145.5h1.3M387.5 132.6h1.3M383.8 148.5h1.3M388.5 126.4h1.3M401.9 148.3h1.3M395.0 146.4h1.3M388.1 102.7h1.3M400.1 142.5h1.3M384.1 151.8h1.3M383.7 127.4h1.3M394.2 143.9h1.3M377.0 127.1h1.3M398.3 122.5h1.3M357.5 148.5h1.3M395.2 143.4h1.3M389.3 137.3h1.3M388.1 116.7h1.3M392.9 112.3h1.3M400.4 138.2h1.3M400.2 135.3h1.3M390.0 151.3h1.3M363.3 128.7h1.3M401.4 150.3h1.3M366.6 138.1h1.3M379.3 124.4h1.3M397.6 140.2h1.3M383.6 121.3h1.3M401.4 141.3h1.3M399.2 87.5h1.3M374.9 143.1h1.3M385.9 131.2h1.3M393.2 141.7h1.3M389.5 132.7h1.3M396.6 114.8h1.3M389.9 128.8h1.3M383.4 100.3h1.3M390.4 102.0h1.3M373.8 124.9h1.3M392.2 150.7h1.3M368.3 123.9h1.3M402.1 138.8h1.3M399.2 127.7h1.3M397.2 107.6h1.3M398.6 132.0h1.3M392.2 142.0h1.3M399.3 129.3h1.3M391.4 106.5h1.3M394.4 141.8h1.3M395.6 141.0h1.3M392.7 151.4h1.3M396.5 97.2h1.3M392.1 126.2h1.3M387.0 150.0h1.3M382.3 111.5h1.3M398.6 144.6h1.3M385.5 131.9h1.3M389.9 118.2h1.3M388.3 108.5h1.3M389.1 109.0h1.3M400.0 148.2h1.3M401.2 145.2h1.3M398.9 142.5h1.3M381.2 133.6h1.3M401.8 98.3h1.3M394.9 143.0h1.3M389.7 141.4h1.3M395.0 133.9h1.3M400.7 127.4h1.3M387.4 117.2h1.3M393.5 122.6h1.3M395.9 138.0h1.3M388.2 149.6h1.3M386.0 119.1h1.3M394.6 120.6h1.3M397.3 149.3h1.3M394.7 116.0h1.3M385.6 123.0h1.3M395.4 81.9h1.3M396.4 135.4h1.3M401.9 112.3h1.3M366.8 130.1h1.3M384.3 94.7h1.3M383.9 130.2h1.3M401.5 134.4h1.3M384.5 137.6h1.3M383.8 151.0h1.3M397.0 108.4h1.3M391.9 134.5h1.3M358.1 110.8h1.3M398.9 151.7h1.3M399.8 148.1h1.3M400.3 109.4h1.3M365.2 151.1h1.3M395.4 149.4h1.3M367.1 132.8h1.3M377.3 115.6h1.3M399.0 132.3h1.3M379.7 124.0h1.3M402.3 138.3h1.3M400.1 135.0h1.3M397.1 140.5h1.3M400.0 95.0h1.3M387.0 149.9h1.3M380.5 133.0h1.3M379.1 121.4h1.3M387.1 103.0h1.3M397.7 149.4h1.3M390.9 102.4h1.3M399.7 125.8h1.3M360.3 106.1h1.3M396.1 131.8h1.3M399.2 141.9h1.3M398.0 145.1h1.3M373.5 136.5h1.3M396.9 103.7h1.3M398.3 139.5h1.3M399.5 141.5h1.3M381.4 105.9h1.3M395.7 151.7h1.3M375.1 112.2h1.3M401.1 151.5h1.3M402.0 134.0h1.3M378.1 119.0h1.3M396.1 151.3h1.3M386.1 135.3h1.3M380.6 120.5h1.3M392.6 147.9h1.3M392.9 149.9h1.3M388.4 117.4h1.3M402.0 137.8h1.3M391.9 141.6h1.3M375.6 146.4h1.3M390.5 95.7h1.3M391.7 113.5h1.3M398.1 146.4h1.3M401.9 143.0h1.3M398.7 116.2h1.3M396.6 139.8h1.3M398.9 96.0h1.3M393.1 113.1h1.3M396.9 118.0h1.3M360.2 123.4h1.3M394.3 136.3h1.3M399.8 117.1h1.3M402.3 112.3h1.3M398.3 151.8h1.3M398.5 92.2h1.3M392.0 129.7h1.3M389.8 149.7h1.3M391.8 136.8h1.3M382.0 120.0h1.3M402.0 114.3h1.3M378.7 122.7h1.3M391.2 131.8h1.3M390.9 141.0h1.3M367.6 122.9h1.3M401.4 132.7h1.3M397.3 135.7h1.3M400.5 138.8h1.3M390.0 132.7h1.3M388.3 149.6h1.3M397.3 148.1h1.3M395.7 149.5h1.3M390.7 123.5h1.3M391.8 110.6h1.3M374.5 121.3h1.3M371.5 108.7h1.3M396.0 151.4h1.3M395.3 113.0h1.3M388.7 134.3h1.3M393.4 142.7h1.3M399.1 137.3h1.3M399.5 94.3h1.3M369.8 114.3h1.3M392.3 126.8h1.3M398.0 144.1h1.3M397.3 128.2h1.3M386.3 139.2h1.3M377.9 116.4h1.3M395.8 140.6h1.3M390.4 98.8h1.3M380.8 92.1h1.3M397.1 116.0h1.3M386.8 121.0h1.3M359.1 121.3h1.3M397.1 102.4h1.3M400.9 148.9h1.3M379.8 125.1h1.3M396.6 137.6h1.3M379.7 76.9h1.3M381.4 143.6h1.3M390.2 110.5h1.3M396.3 109.2h1.3M375.8 139.7h1.3M387.6 130.4h1.3M396.9 136.2h1.3M378.2 130.7h1.3M396.8 139.2h1.3M356.4 125.4h1.3M398.3 100.8h1.3M396.4 119.0h1.3M394.0 151.7h1.3M401.4 143.7h1.3M396.2 109.3h1.3M393.9 120.7h1.3M389.5 137.7h1.3M391.2 133.5h1.3M391.1 131.2h1.3M390.7 107.8h1.3M356.2 149.4h1.3M380.0 142.7h1.3M395.5 146.1h1.3M391.4 145.4h1.3M396.9 143.1h1.3M359.3 131.3h1.3M401.9 124.0h1.3M397.7 151.4h1.3M385.5 149.4h1.3M393.0 129.6h1.3M401.9 125.8h1.3M401.0 143.4h1.3M401.1 146.2h1.3M383.3 127.4h1.3M367.8 120.8h1.3M390.3 150.1h1.3M392.5 142.1h1.3M379.0 134.2h1.3M373.6 106.2h1.3M396.9 150.5h1.3M365.2 135.2h1.3M392.8 137.2h1.3M369.7 134.9h1.3M391.8 121.4h1.3M367.1 130.1h1.3M391.6 149.2h1.3M388.1 135.0h1.3M402.1 133.0h1.3M399.9 146.1h1.3M386.0 123.9h1.3M391.3 125.3h1.3M377.7 118.6h1.3M387.8 134.4h1.3M400.7 90.7h1.3M369.8 111.0h1.3M385.1 107.0h1.3M390.5 141.4h1.3M386.3 142.6h1.3M401.8 91.0h1.3M384.4 128.9h1.3M392.7 135.5h1.3M370.0 104.5h1.3M396.8 134.6h1.3M386.5 148.0h1.3M394.4 129.5h1.3M384.9 124.6h1.3M399.5 144.0h1.3M394.5 117.7h1.3M398.3 151.2h1.3M387.9 134.5h1.3M400.3 117.3h1.3M401.1 139.8h1.3M395.1 99.8h1.3M387.5 147.8h1.3M393.0 148.8h1.3M396.2 136.5h1.3M397.4 112.4h1.3M402.3 137.4h1.3M393.3 135.3h1.3M393.3 128.5h1.3M397.8 123.9h1.3M389.8 147.1h1.3M394.4 114.3h1.3M394.8 117.6h1.3M401.8 132.6h1.3M381.1 146.7h1.3M385.0 122.4h1.3M389.4 141.9h1.3M384.7 128.0h1.3M388.3 127.9h1.3M377.3 145.9h1.3M383.6 110.7h1.3M401.5 139.2h1.3M393.9 136.4h1.3M402.3 82.7h1.3M385.6 107.4h1.3M397.5 150.0h1.3M397.2 133.4h1.3M396.2 147.9h1.3M386.5 86.2h1.3M393.1 134.8h1.3M390.1 132.6h1.3M396.8 143.9h1.3M381.5 111.1h1.3M397.5 147.8h1.3M401.4 144.1h1.3M391.2 142.5h1.3M402.0 139.4h1.3M384.2 88.7h1.3M398.0 144.9h1.3M399.1 108.7h1.3M387.8 128.5h1.3M401.1 141.0h1.3M376.5 94.6h1.3M391.6 128.9h1.3M391.6 140.1h1.3M390.5 62.1h1.3M396.8 130.3h1.3M401.8 151.4h1.3M380.4 128.0h1.3M399.0 136.1h1.3M395.7 105.9h1.3M378.3 147.0h1.3M378.8 116.5h1.3M394.7 108.8h1.3M394.1 145.3h1.3M393.0 89.2h1.3M377.8 122.9h1.3M385.1 141.3h1.3M394.4 130.8h1.3M395.9 151.4h1.3M368.6 139.0h1.3M400.9 123.3h1.3M392.9 150.5h1.3M350.3 135.3h1.3M370.2 148.1h1.3M395.6 134.4h1.3M366.8 108.9h1.3M398.4 142.4h1.3M383.4 126.1h1.3M391.4 122.0h1.3M397.3 135.1h1.3M378.8 149.4h1.3M396.8 110.9h1.3M399.0 95.2h1.3M393.9 133.8h1.3M387.0 149.1h1.3M379.0 119.6h1.3M362.5 131.8h1.3M390.2 121.5h1.3M384.5 113.5h1.3M395.8 127.1h1.3M383.9 111.5h1.3M394.0 109.0h1.3M397.3 144.8h1.3M386.2 146.9h1.3M382.5 144.2h1.3M400.9 149.5h1.3M368.2 113.8h1.3M393.8 121.2h1.3M393.5 150.7h1.3M385.3 136.4h1.3M391.8 126.2h1.3M387.7 143.7h1.3M393.0 115.5h1.3M391.7 116.9h1.3M385.8 151.0h1.3M387.4 105.0h1.3M401.8 145.4h1.3M398.3 140.7h1.3M396.1 145.9h1.3M392.4 110.5h1.3M365.7 137.4h1.3M394.6 151.1h1.3M395.1 110.9h1.3M355.0 129.5h1.3M389.0 133.9h1.3M384.3 113.2h1.3M401.0 138.2h1.3M386.1 150.4h1.3M397.5 126.3h1.3M392.5 115.6h1.3M387.1 133.3h1.3M390.1 140.3h1.3M386.1 135.4h1.3M381.7 141.6h1.3M387.3 138.0h1.3M392.8 146.8h1.3M402.0 143.2h1.3M401.7 128.5h1.3M394.6 145.4h1.3M396.2 143.2h1.3M361.0 112.1h1.3M401.8 87.7h1.3M397.0 106.0h1.3M393.2 94.3h1.3M400.7 85.5h1.3M376.1 102.8h1.3M389.1 123.9h1.3M392.4 143.1h1.3M383.1 151.6h1.3M383.0 109.2h1.3M393.2 118.0h1.3M383.9 116.5h1.3M365.8 112.8h1.3M400.3 138.1h1.3M380.9 87.3h1.3M388.5 123.3h1.3M402.0 145.2h1.3M376.4 129.4h1.3M398.2 140.2h1.3M400.3 150.5h1.3M395.0 98.5h1.3M398.1 142.9h1.3M394.8 143.5h1.3M334.3 71.1h1.3M353.4 66.3h1.3M361.4 71.6h1.3M369.6 76.7h1.3M392.4 46.1h1.3M400.6 54.0h1.3M396.9 57.3h1.3M387.3 59.6h1.3M389.5 65.5h1.3M397.5 68.8h1.3M398.1 72.2h1.3M385.3 77.3h1.3M344.6 89.6h1.3M348.6 93.3h1.3M345.2 104.2h1.3M349.4 98.3h1.3M354.3 98.3h1.3M360.2 86.2h1.3M365.6 90.2h1.3M367.1 84.6h1.3M347.1 112.3h1.3M348.0 118.8h1.3M353.7 124.4h1.3M348.6 128.3h1.3M366.2 136.8h1.3M371.3 132.8h1.3M394.1 63.5h1.3M399.2 64.9h1.3M392.7 74.7h1.3M388.4 80.3h1.3M399.8 78.9h1.3M396.4 83.2h1.3M379.9 81.7h1.3M375.6 87.4h1.3M401.2 62.1h1.3" stroke="#1a1aff" stroke-width="1.3" fill="none"/>
<path d="M427.9 138.8h1.3M436.6 116.7h1.3M427.4 131.8h1.3M436.8 115.9h1.3M425.7 111.7h1.3M434.0 107.2h1.3M427.3 129.0h1.3M427.6 68.7h1.3M435.5 136.6h1.3M432.8 128.1h1.3M429.1 148.0h1.3M445.6 129.8h1.3M442.7 120.3h1.3M449.6 148.3h1.3M430.9 129.3h1.3M430.5 146.7h1.3M456.2 121.9h1.3M425.9 141.8h1.3M434.3 135.6h1.3M437.3 141.1h1.3M438.8 141.1h1.3M459.2 138.2h1.3M439.7 132.8h1.3M433.6 130.1h1.3M427.6 117.8h1.3M440.4 141.8h1.3M471.0 103.5h1.3M427.1 142.8h1.3M427.1 130.7h1.3M427.7 113.3h1.3M443.0 146.6h1.3M428.5 133.5h1.3M433.6 145.4h1.3M426.4 131.2h1.3M470.2 119.6h1.3M438.2 141.3h1.3M447.2 106.8h1.3M434.9 142.9h1.3M430.7 146.8h1.3M430.1 148.2h1.3M427.8 130.5h1.3M454.5 92.1h1.3M430.3 148.8h1.3M435.0 128.2h1.3M427.4 145.3h1.3M427.2 148.1h1.3M429.5 136.6h1.3M445.3 123.8h1.3M442.4 134.4h1.3M467.7 108.1h1.3M426.9 142.0h1.3M450.6 119.6h1.3M437.1 115.8h1.3M429.8 116.8h1.3M430.6 136.3h1.3M444.4 105.3h1.3M426.4 134.9h1.3M439.2 140.1h1.3M467.7 129.9h1.3M448.1 139.6h1.3M437.6 111.8h1.3M430.4 151.0h1.3M446.2 148.9h1.3M426.7 150.6h1.3M433.9 129.0h1.3M427.6 105.5h1.3M444.5 108.9h1.3M429.5 148.1h1.3M430.1 151.2h1.3M439.1 136.2h1.3M426.5 127.2h1.3M430.5 136.2h1.3M434.8 111.3h1.3M440.0 141.6h1.3M436.5 127.9h1.3M427.7 105.9h1.3M429.9 132.1h1.3M433.5 140.4h1.3M428.2 133.1h1.3M430.4 125.0h1.3M451.4 114.4h1.3M431.2 124.8h1.3M433.5 137.3h1.3M434.3 141.0h1.3M425.9 104.8h1.3M428.4 80.6h1.3M429.9 95.2h1.3M439.7 141.4h1.3M468.8 129.3h1.3M427.8 151.6h1.3M434.6 105.8h1.3M434.5 142.0h1.3M428.0 137.6h1.3M426.6 103.0h1.3M433.7 150.3h1.3M452.7 146.1h1.3M428.7 148.7h1.3M439.0 124.3h1.3M429.6 140.7h1.3M434.5 147.9h1.3M429.9 130.6h1.3M432.9 150.1h1.3M430.3 147.8h1.3M431.3 132.1h1.3M436.3 137.9h1.3M442.0 139.0h1.3M436.7 140.6h1.3M426.3 125.8h1.3M437.7 124.6h1.3M435.7 106.8h1.3M436.1 124.8h1.3M443.0 139.2h1.3M433.9 147.3h1.3M431.2 150.6h1.3M430.0 129.4h1.3M457.5 112.1h1.3M430.9 135.9h1.3M425.8 147.8h1.3M438.8 139.7h1.3M463.1 148.3h1.3M452.7 104.1h1.3M440.1 136.0h1.3M432.1 135.5h1.3M459.3 122.5h1.3M432.2 145.7h1.3M434.5 112.6h1.3M439.5 138.1h1.3M438.0 97.4h1.3M452.9 109.3h1.3M445.3 132.7h1.3M430.2 148.2h1.3M427.8 134.9h1.3M429.8 120.2h1.3M456.5 141.0h1.3M449.3 111.0h1.3M429.3 109.4h1.3M452.4 121.0h1.3M439.6 126.4h1.3M428.5 144.6h1.3M430.7 121.6h1.3M426.1 141.5h1.3M446.4 143.0h1.3M430.4 142.5h1.3M433.6 139.8h1.3M429.2 148.5h1.3M441.5 127.8h1.3M431.7 132.6h1.3M439.1 141.4h1.3M434.5 120.6h1.3M426.7 107.2h1.3M466.6 146.2h1.3M434.9 139.3h1.3M440.1 132.3h1.3M449.2 146.9h1.3M431.9 141.9h1.3M438.6 139.0h1.3M432.8 133.9h1.3M437.9 144.6h1.3M426.0 137.7h1.3M430.8 113.1h1.3M434.1 148.8h1.3M437.9 128.6h1.3M425.9 147.7h1.3M434.9 144.9h1.3M462.8 125.4h1.3M434.6 125.3h1.3M451.4 105.2h1.3M441.9 130.5h1.3M429.3 134.0h1.3M450.5 143.3h1.3M456.8 120.3h1.3M469.9 150.3h1.3M426.0 151.3h1.3M438.5 117.0h1.3M431.6 134.2h1.3M451.0 113.2h1.3M434.3 91.5h1.3M441.8 133.0h1.3M427.7 151.2h1.3M433.4 130.2h1.3M429.6 146.7h1.3M430.4 149.0h1.3M440.8 121.9h1.3M433.2 106.9h1.3M438.7 138.2h1.3M431.5 145.3h1.3M432.8 99.4h1.3M445.2 105.3h1.3M433.9 121.7h1.3M429.9 76.6h1.3M430.7 133.0h1.3M433.8 148.8h1.3M432.8 135.5h1.3M443.6 110.8h1.3M439.1 131.5h1.3M448.3 135.7h1.3M437.2 138.3h1.3M451.7 107.4h1.3M427.0 151.7h1.3M429.4 150.6h1.3M442.6 146.4h1.3M426.1 149.7h1.3M443.6 145.4h1.3M446.5 141.8h1.3M433.6 133.7h1.3M442.6 113.3h1.3M441.2 137.7h1.3M430.2 129.6h1.3M446.2 151.4h1.3M433.1 136.8h1.3M448.9 123.9h1.3M445.6 124.5h1.3M430.3 148.4h1.3M441.0 135.7h1.3M426.0 119.8h1.3M437.9 137.4h1.3M427.0 110.3h1.3M434.4 117.2h1.3M436.3 131.6h1.3M439.6 114.4h1.3M449.1 119.2h1.3M436.4 142.8h1.3M431.3 148.9h1.3M432.2 114.6h1.3M434.4 147.0h1.3M442.5 130.7h1.3M444.4 151.7h1.3M426.8 142.2h1.3M429.7 148.1h1.3M437.6 134.3h1.3M428.4 93.0h1.3M434.2 128.5h1.3M433.6 131.7h1.3M435.0 145.1h1.3M436.4 149.9h1.3M434.6 135.0h1.3M436.4 136.2h1.3M427.7 132.0h1.3M435.1 144.7h1.3M436.4 104.7h1.3M431.3 145.7h1.3M439.1 126.4h1.3M427.9 143.7h1.3M428.5 108.0h1.3M429.2 143.3h1.3M441.3 150.3h1.3M431.7 114.2h1.3M426.5 140.8h1.3M437.1 125.3h1.3M440.2 149.9h1.3M428.4 135.0h1.3M440.6 133.7h1.3M437.9 124.7h1.3M432.6 116.9h1.3M442.9 92.5h1.3M448.2 128.1h1.3M444.7 122.1h1.3M442.0 134.0h1.3M433.3 149.9h1.3M449.5 130.1h1.3M433.7 131.2h1.3M433.6 103.6h1.3M436.6 135.7h1.3M425.8 151.1h1.3M433.9 137.1h1.3M449.7 143.9h1.3M428.8 148.9h1.3M438.7 136.4h1.3M430.2 131.3h1.3M435.5 144.1h1.3M435.7 141.4h1.3M434.2 151.7h1.3M442.3 119.0h1.3M448.4 125.9h1.3M440.4 132.2h1.3M432.2 135.2h1.3M429.6 146.5h1.3M433.9 80.0h1.3M429.7 115.3h1.3M449.3 144.8h1.3M438.0 137.4h1.3M455.8 114.8h1.3M439.6 137.9h1.3M431.3 116.4h1.3M429.5 150.0h1.3M438.2 141.3h1.3M461.3 113.1h1.3M433.5 133.8h1.3M480.1 83.2h1.3M434.1 48.6h1.3M443.0 141.0h1.3M434.8 135.9h1.3M449.8 133.4h1.3M439.8 111.7h1.3M429.3 121.9h1.3M432.9 133.4h1.3M431.8 139.4h1.3M426.7 151.1h1.3M457.9 134.9h1.3M434.6 132.4h1.3M427.6 131.4h1.3M453.2 133.8h1.3M456.7 138.5h1.3M435.4 124.0h1.3M444.3 128.6h1.3M443.8 118.8h1.3M449.0 107.5h1.3M457.6 133.9h1.3M444.6 131.4h1.3M436.9 136.4h1.3M431.5 126.2h1.3M434.5 142.8h1.3M433.3 136.6h1.3M431.5 114.2h1.3M429.8 111.9h1.3M430.9 149.3h1.3M426.2 147.3h1.3M457.5 128.7h1.3M437.0 128.3h1.3M426.5 117.6h1.3M434.8 129.7h1.3M449.5 121.5h1.3M429.6 139.8h1.3M446.1 112.8h1.3M458.1 140.2h1.3M442.5 111.0h1.3M427.5 141.3h1.3M432.0 151.3h1.3M433.1 144.1h1.3M453.6 139.3h1.3M458.0 144.2h1.3M428.8 138.8h1.3M442.5 135.5h1.3M459.3 103.6h1.3M433.4 149.0h1.3M427.0 127.6h1.3M432.1 119.6h1.3M432.6 136.9h1.3M426.8 148.8h1.3M430.3 132.7h1.3M444.9 119.6h1.3M428.3 122.0h1.3M462.7 124.6h1.3M428.7 146.5h1.3M428.1 99.6h1.3M435.0 112.4h1.3M462.0 100.3h1.3M438.7 136.9h1.3M426.9 151.6h1.3M426.7 134.6h1.3M428.0 139.8h1.3M435.2 144.7h1.3M439.6 139.5h1.3M429.3 145.1h1.3M441.3 123.1h1.3M436.3 131.6h1.3M451.3 113.7h1.3M458.5 105.0h1.3M428.0 66.9h1.3M428.2 126.8h1.3M432.7 137.3h1.3M436.2 124.8h1.3M435.9 115.8h1.3M439.9 113.2h1.3M427.8 116.7h1.3M428.1 107.3h1.3M427.9 145.1h1.3M426.5 150.7h1.3M429.1 123.7h1.3M426.0 144.4h1.3M432.1 143.8h1.3M457.4 110.7h1.3M426.0 100.0h1.3M435.6 128.7h1.3M432.3 114.3h1.3M440.8 111.1h1.3M440.2 93.7h1.3M426.8 138.5h1.3M443.8 105.2h1.3M431.6 135.9h1.3M433.9 128.5h1.3M432.3 133.9h1.3M434.9 146.0h1.3M446.5 150.6h1.3M443.2 146.6h1.3M445.6 149.2h1.3M427.9 142.4h1.3M449.6 142.6h1.3M442.8 129.4h1.3M437.4 121.4h1.3M426.3 129.9h1.3M428.8 145.3h1.3M432.2 151.7h1.3M427.6 99.6h1.3M435.3 97.6h1.3M430.4 140.1h1.3M429.7 127.9h1.3M437.9 126.4h1.3M442.2 139.4h1.3M427.1 151.3h1.3M443.0 112.9h1.3M427.6 122.7h1.3M438.6 142.2h1.3M432.3 110.2h1.3M426.0 89.7h1.3M435.8 135.0h1.3M428.5 131.5h1.3M428.8 143.4h1.3M430.7 132.9h1.3M426.2 122.3h1.3M437.1 137.7h1.3M441.9 119.5h1.3M441.8 145.3h1.3M434.9 142.1h1.3M429.3 142.1h1.3M439.8 137.7h1.3M430.7 77.8h1.3M426.5 142.6h1.3M449.8 145.7h1.3M456.6 118.9h1.3M434.9 89.3h1.3M444.0 125.2h1.3M429.8 126.9h1.3M426.9 128.6h1.3M440.6 125.1h1.3M430.9 100.3h1.3M433.2 151.1h1.3M435.4 128.8h1.3M436.0 105.9h1.3M444.0 125.6h1.3M441.1 145.5h1.3M426.9 149.2h1.3M429.8 82.6h1.3M453.8 138.6h1.3M435.6 123.8h1.3M434.4 118.7h1.3M432.2 124.1h1.3M441.3 144.6h1.3M427.7 137.5h1.3M444.9 126.0h1.3M432.6 148.7h1.3M442.2 136.6h1.3M429.4 142.0h1.3M425.8 140.2h1.3M436.4 149.7h1.3M431.2 129.3h1.3M432.4 144.6h1.3M456.4 137.7h1.3M438.4 113.4h1.3M458.6 120.3h1.3M427.3 135.8h1.3M446.4 146.0h1.3M429.3 147.6h1.3M461.3 94.6h1.3M452.2 140.8h1.3M441.1 121.3h1.3M434.7 119.0h1.3M427.6 151.5h1.3M428.7 131.8h1.3M432.0 135.5h1.3M435.1 141.7h1.3M431.4 106.3h1.3M437.0 130.2h1.3M431.8 140.7h1.3M440.5 149.4h1.3M441.5 106.9h1.3M433.6 109.0h1.3M448.2 123.6h1.3M427.6 145.8h1.3M431.7 115.0h1.3M438.3 120.6h1.3M427.4 143.6h1.3M438.0 114.5h1.3M434.2 141.6h1.3M441.0 114.7h1.3M443.4 138.4h1.3M436.1 127.1h1.3M433.2 112.2h1.3M426.4 151.8h1.3M425.8 151.5h1.3M452.6 122.4h1.3M426.4 134.7h1.3M433.5 115.8h1.3M444.3 109.8h1.3M448.1 144.2h1.3M430.3 148.3h1.3M429.3 149.5h1.3M441.3 114.3h1.3M469.4 122.2h1.3M429.5 140.0h1.3M436.8 141.6h1.3M430.2 132.6h1.3M433.5 149.7h1.3M429.5 137.6h1.3M430.0 129.5h1.3M430.8 148.7h1.3M433.2 139.1h1.3M432.4 123.0h1.3M433.1 142.0h1.3M449.1 145.3h1.3M436.5 143.0h1.3M427.9 123.8h1.3M429.4 144.3h1.3M441.4 148.2h1.3M437.8 142.9h1.3M436.5 125.4h1.3M455.4 135.7h1.3M443.5 148.8h1.3M458.8 124.0h1.3M469.5 119.2h1.3M429.1 130.7h1.3M455.8 123.7h1.3M442.4 110.3h1.3M441.0 134.2h1.3M428.5 149.2h1.3M433.6 136.7h1.3M426.8 123.2h1.3M439.8 127.6h1.3M435.0 101.4h1.3M440.3 118.3h1.3M441.9 127.1h1.3M442.4 135.6h1.3M428.6 70.9h1.3M434.5 144.6h1.3M433.3 126.2h1.3M467.0 147.3h1.3M429.8 141.6h1.3M426.9 126.9h1.3M428.8 149.1h1.3M454.9 105.8h1.3M440.3 136.1h1.3M440.8 108.9h1.3M431.0 145.5h1.3M431.4 136.6h1.3M428.4 134.6h1.3M427.1 147.7h1.3M465.3 102.2h1.3M427.1 95.8h1.3M431.3 146.6h1.3M437.5 151.3h1.3M427.9 134.1h1.3M442.8 87.5h1.3M430.7 149.7h1.3M429.8 113.6h1.3M427.7 90.5h1.3M435.9 150.1h1.3M426.6 145.0h1.3M432.9 139.9h1.3M429.1 144.6h1.3M427.7 122.4h1.3M435.6 146.3h1.3M437.3 119.1h1.3M440.5 122.1h1.3M438.8 141.3h1.3M425.9 132.4h1.3M436.1 137.1h1.3M439.3 128.1h1.3M429.1 146.6h1.3M432.2 109.4h1.3M444.8 124.0h1.3M441.3 116.5h1.3M473.3 102.9h1.3M451.6 141.2h1.3M426.6 101.8h1.3M438.6 128.5h1.3M446.2 147.1h1.3M442.0 117.6h1.3M435.0 146.6h1.3M432.9 133.3h1.3M427.3 148.8h1.3M454.2 114.6h1.3M444.3 133.1h1.3M436.3 143.5h1.3M437.6 117.7h1.3M426.7 90.1h1.3M438.9 132.3h1.3M447.6 142.7h1.3M430.6 148.7h1.3M447.8 98.4h1.3M459.4 105.6h1.3M437.8 148.3h1.3M430.3 104.2h1.3M429.5 131.8h1.3M440.9 134.1h1.3M432.7 151.1h1.3M429.6 116.7h1.3M426.8 151.9h1.3M430.2 93.0h1.3M435.7 134.9h1.3M431.4 151.5h1.3M427.8 148.9h1.3M451.1 142.7h1.3M442.6 114.9h1.3M448.1 135.9h1.3M449.8 139.4h1.3M445.2 124.7h1.3M428.6 128.9h1.3M441.1 148.5h1.3M426.8 151.8h1.3M451.4 83.4h1.3M428.4 151.0h1.3M426.2 132.2h1.3M439.9 114.6h1.3M433.4 142.7h1.3M451.3 149.5h1.3M437.8 104.6h1.3M438.4 147.7h1.3M426.0 140.0h1.3M437.8 131.0h1.3M490.0 112.2h1.3M473.6 128.3h1.3M429.8 149.4h1.3M430.2 132.6h1.3M447.7 98.4h1.3M444.8 120.9h1.3M432.3 145.0h1.3M429.8 151.1h1.3M425.7 131.1h1.3M435.7 118.7h1.3M442.5 132.5h1.3M431.1 129.6h1.3M427.7 132.9h1.3M435.7 144.5h1.3M429.3 98.2h1.3M438.7 133.0h1.3M434.0 145.4h1.3M429.1 145.6h1.3M433.2 146.7h1.3M457.8 117.2h1.3M437.7 121.8h1.3M431.8 151.7h1.3M434.3 99.5h1.3M429.7 149.5h1.3M442.8 132.0h1.3M436.8 141.5h1.3M450.5 144.7h1.3M425.8 143.8h1.3M438.3 107.5h1.3M428.2 146.8h1.3M430.5 139.8h1.3M442.0 118.5h1.3M437.5 123.7h1.3M426.8 145.4h1.3M438.5 139.4h1.3M441.7 132.9h1.3M430.2 132.0h1.3M439.7 151.8h1.3M434.7 142.2h1.3M427.5 151.9h1.3M457.9 114.9h1.3M443.3 144.8h1.3M436.1 125.1h1.3M469.0 150.9h1.3M454.3 131.8h1.3M464.8 111.6h1.3M460.4 127.0h1.3M444.7 127.9h1.3M441.6 134.4h1.3M435.0 143.4h1.3M441.6 151.8h1.3M452.2 113.6h1.3M463.5 131.1h1.3M451.8 132.3h1.3M456.5 136.0h1.3M439.3 132.4h1.3M433.8 145.1h1.3M431.8 141.4h1.3M441.3 141.9h1.3M459.2 103.3h1.3M445.3 143.6h1.3M427.1 143.9h1.3M428.4 140.4h1.3M442.8 144.9h1.3M446.2 130.1h1.3M430.7 129.7h1.3M441.4 103.6h1.3M427.3 151.8h1.3M436.2 117.4h1.3M439.1 105.0h1.3M428.8 138.1h1.3M428.8 140.5h1.3M490.4 113.3h1.3M447.3 140.3h1.3M430.2 133.8h1.3M441.0 132.1h1.3M436.1 141.2h1.3M442.9 120.6h1.3M438.3 132.6h1.3M445.0 120.5h1.3M433.0 141.8h1.3M428.1 137.6h1.3M445.3 127.7h1.3M435.2 135.6h1.3M446.0 105.4h1.3M436.0 134.0h1.3M427.4 131.1h1.3M428.6 138.2h1.3M438.0 126.4h1.3M454.1 120.3h1.3M440.1 148.8h1.3M431.0 148.5h1.3M459.9 98.4h1.3M446.7 119.8h1.3M441.5 126.7h1.3M431.6 107.3h1.3M432.2 151.1h1.3M428.6 141.1h1.3M432.1 114.1h1.3M436.3 139.1h1.3M440.2 134.4h1.3M448.4 95.1h1.3M428.0 109.2h1.3M428.5 149.6h1.3M434.4 122.9h1.3M428.9 122.8h1.3M433.0 119.3h1.3M425.7 144.4h1.3M432.8 141.5h1.3M432.6 124.9h1.3M429.6 139.2h1.3M431.5 138.2h1.3M434.6 137.6h1.3M451.0 135.4h1.3M425.9 114.5h1.3M428.4 149.2h1.3M441.3 144.9h1.3M428.4 151.2h1.3M440.0 144.6h1.3M441.0 108.8h1.3M437.1 151.7h1.3M450.4 100.5h1.3M430.2 148.7h1.3M439.7 121.7h1.3M430.3 134.2h1.3M438.1 148.2h1.3M440.3 149.1h1.3M428.5 143.9h1.3M428.1 137.7h1.3M430.5 119.7h1.3M438.9 96.3h1.3M427.5 142.2h1.3M441.0 113.7h1.3M433.3 143.4h1.3M425.9 118.1h1.3M459.7 150.8h1.3M426.4 141.3h1.3M438.7 118.6h1.3M462.8 151.3h1.3M439.2 142.7h1.3M435.2 120.3h1.3M434.9 146.0h1.3M431.1 131.9h1.3M452.5 144.4h1.3M447.3 142.2h1.3M425.7 125.7h1.3M437.1 129.4h1.3M439.1 120.4h1.3M428.2 88.7h1.3M429.0 107.1h1.3M431.8 134.8h1.3M440.1 134.8h1.3M465.7 109.7h1.3M430.7 134.9h1.3M433.6 145.3h1.3M437.3 130.9h1.3M426.2 135.2h1.3M428.4 123.6h1.3M431.4 135.6h1.3M434.1 123.3h1.3M436.2 131.0h1.3M439.3 139.2h1.3M430.0 130.1h1.3M428.9 144.3h1.3M427.2 140.2h1.3M442.2 125.6h1.3M435.0 119.6h1.3M435.3 143.7h1.3M426.5 145.5h1.3M427.4 130.6h1.3M445.4 139.4h1.3M433.1 140.8h1.3M455.5 140.7h1.3M432.2 140.1h1.3M429.7 148.2h1.3M448.8 129.2h1.3M481.7 146.0h1.3M436.3 145.0h1.3M448.8 96.2h1.3M435.8 99.4h1.3M430.8 116.3h1.3M470.8 123.6h1.3M434.4 140.7h1.3M435.0 142.2h1.3M433.4 145.0h1.3M442.8 133.7h1.3M448.9 121.1h1.3M436.8 136.0h1.3M446.7 148.7h1.3M426.0 137.4h1.3M440.9 131.5h1.3M430.6 150.1h1.3M431.8 146.8h1.3M454.2 115.0h1.3M426.0 125.8h1.3M441.0 111.3h1.3M425.8 144.2h1.3M449.0 145.1h1.3M439.8 130.1h1.3M434.7 122.5h1.3M427.0 141.3h1.3M436.0 150.4h1.3M442.8 122.3h1.3M433.9 135.7h1.3M427.4 148.8h1.3M435.7 147.7h1.3M434.7 146.9h1.3M444.6 121.2h1.3M430.3 143.3h1.3M429.3 128.0h1.3M486.6 113.6h1.3M427.0 142.8h1.3M427.7 130.4h1.3M433.3 143.5h1.3M432.3 134.2h1.3M434.0 84.3h1.3M427.5 134.9h1.3M448.0 149.1h1.3M435.2 127.3h1.3M431.7 151.5h1.3M430.3 135.2h1.3M435.8 125.2h1.3M441.6 151.6h1.3M429.3 118.9h1.3M454.9 113.2h1.3M440.4 118.0h1.3M448.7 119.2h1.3M438.3 118.6h1.3M438.0 141.1h1.3M455.6 112.6h1.3M426.6 149.1h1.3M432.0 100.7h1.3M438.8 140.3h1.3M444.4 103.9h1.3M446.3 127.9h1.3M449.2 138.2h1.3M438.1 136.4h1.3M464.4 99.4h1.3M445.3 119.9h1.3M447.5 148.8h1.3M427.4 129.9h1.3M431.2 121.1h1.3M428.1 150.7h1.3M426.8 92.8h1.3M433.0 135.5h1.3M429.8 140.1h1.3M442.3 135.5h1.3M429.9 132.2h1.3M444.8 96.4h1.3M438.4 151.8h1.3M436.6 142.4h1.3M435.2 128.9h1.3M433.1 150.1h1.3M426.3 100.4h1.3M427.4 131.7h1.3M434.1 138.9h1.3M428.9 114.2h1.3M451.9 103.1h1.3M425.9 130.3h1.3M454.2 107.2h1.3M428.1 135.7h1.3M431.8 139.8h1.3M441.5 143.3h1.3M427.4 122.0h1.3M431.4 147.3h1.3M428.0 143.9h1.3M441.3 137.2h1.3M427.8 138.7h1.3M458.2 106.4h1.3M426.0 142.1h1.3M445.0 130.9h1.3M447.6 111.2h1.3M444.2 148.8h1.3M429.4 130.2h1.3M429.3 143.2h1.3M433.7 106.5h1.3M455.7 136.3h1.3M439.7 115.7h1.3M432.4 133.1h1.3M425.9 150.7h1.3M434.4 124.0h1.3M433.7 150.4h1.3M428.9 133.9h1.3M441.2 119.8h1.3M431.9 132.0h1.3M442.0 105.3h1.3M433.3 46.1h1.3M428.5 61.5h1.3M433.1 69.4h1.3M437.0 77.0h1.3M458.7 88.2h1.3M471.2 93.3h1.3M468.9 103.4h1.3M496.5 128.3h1.3M497.9 145.5h1.3M429.6 81.7h1.3M439.6 87.4h1.3M445.3 93.0h1.3" stroke="#ff2010" stroke-width="1.3" fill="none"/>
<line x1="329.30" y1="151.91" x2="500.00" y2="151.91" stroke="#bdbdbd" stroke-width="0.8" stroke-dasharray="2.5 2"/>
<line x1="329.30" y1="20.00" x2="329.30" y2="188.90" stroke="#555" stroke-width="1.1"/>
<line x1="328.80" y1="188.40" x2="500.50" y2="188.40" stroke="#555" stroke-width="1.1"/>
<line x1="327.50" y1="188.40" x2="329.30" y2="188.40" stroke="#333" stroke-width="1.0"/>
<text x="326.30" y="190.20" font-size="5.2" font-weight="bold" text-anchor="end" fill="#222">0</text>
<line x1="327.50" y1="160.33" x2="329.30" y2="160.33" stroke="#333" stroke-width="1.0"/>
<text x="326.30" y="162.13" font-size="5.2" font-weight="bold" text-anchor="end" fill="#222">1</text>
<line x1="327.50" y1="132.27" x2="329.30" y2="132.27" stroke="#333" stroke-width="1.0"/>
<text x="326.30" y="134.07" font-size="5.2" font-weight="bold" text-anchor="end" fill="#222">2</text>
<line x1="327.50" y1="104.20" x2="329.30" y2="104.20" stroke="#333" stroke-width="1.0"/>
<text x="326.30" y="106.00" font-size="5.2" font-weight="bold" text-anchor="end" fill="#222">3</text>
<line x1="327.50" y1="76.13" x2="329.30" y2="76.13" stroke="#333" stroke-width="1.0"/>
<text x="326.30" y="77.93" font-size="5.2" font-weight="bold" text-anchor="end" fill="#222">4</text>
<line x1="327.50" y1="48.07" x2="329.30" y2="48.07" stroke="#333" stroke-width="1.0"/>
<text x="326.30" y="49.87" font-size="5.2" font-weight="bold" text-anchor="end" fill="#222">5</text>
<line x1="327.50" y1="20.00" x2="329.30" y2="20.00" stroke="#333" stroke-width="1.0"/>
<text x="326.30" y="21.80" font-size="5.2" font-weight="bold" text-anchor="end" fill="#222">6</text>
<line x1="329.30" y1="188.40" x2="329.30" y2="190.20" stroke="#333" stroke-width="1.0"/>
<text x="329.30" y="196.00" font-size="5.2" font-weight="bold" text-anchor="middle" fill="#222">-3</text>
<line x1="357.75" y1="188.40" x2="357.75" y2="190.20" stroke="#333" stroke-width="1.0"/>
<text x="357.75" y="196.00" font-size="5.2" font-weight="bold" text-anchor="middle" fill="#222">-2</text>
<line x1="386.20" y1="188.40" x2="386.20" y2="190.20" stroke="#333" stroke-width="1.0"/>
<text x="386.20" y="196.00" font-size="5.2" font-weight="bold" text-anchor="middle" fill="#222">-1</text>
<line x1="414.65" y1="188.40" x2="414.65" y2="190.20" stroke="#333" stroke-width="1.0"/>
<text x="414.65" y="196.00" font-size="5.2" font-weight="bold" text-anchor="middle" fill="#222">0</text>
<line x1="443.10" y1="188.40" x2="443.10" y2="190.20" stroke="#333" stroke-width="1.0"/>
<text x="443.10" y="196.00" font-size="5.2" font-weight="bold" text-anchor="middle" fill="#222">1</text>
<line x1="471.55" y1="188.40" x2="471.55" y2="190.20" stroke="#333" stroke-width="1.0"/>
<text x="471.55" y="196.00" font-size="5.2" font-weight="bold" text-anchor="middle" fill="#222">2</text>
<line x1="500.00" y1="188.40" x2="500.00" y2="190.20" stroke="#333" stroke-width="1.0"/>
<text x="500.00" y="196.00" font-size="5.2" font-weight="bold" text-anchor="middle" fill="#222">3</text>
<text x="414.6" y="203.6" font-size="6.65" text-anchor="middle" fill="#333">log<tspan font-size="4.3" dy="1.3">2</tspan><tspan dy="-1.3"> (CA9-KD/Control)</tspan></text>
<text x="319.20" y="105.00" font-size="6.5" font-weight="normal" text-anchor="middle" fill="#333" transform="rotate(-90 319.20 105.00)">-log (p-value)</text>
<rect x="108.90" y="238.90" width="4.41" height="2.10" fill="#000082"/>
<rect x="108.90" y="242.00" width="1.88" height="2.10" fill="#870000"/>
<line x1="107.10" y1="241.50" x2="108.40" y2="241.50" stroke="#777" stroke-width="0.5"/>
<text x="106.80" y="243.30" font-size="4.95" font-weight="bold" text-anchor="end" fill="#000">Nucleotide metabolism</text>
<rect x="108.90" y="247.23" width="4.28" height="2.10" fill="#000082"/>
<rect x="108.90" y="250.33" width="5.56" height="2.10" fill="#870000"/>
<line x1="107.10" y1="249.83" x2="108.40" y2="249.83" stroke="#777" stroke-width="0.5"/>
<text x="106.80" y="251.63" font-size="4.95" font-weight="bold" text-anchor="end" fill="#000">Metabolism of other amino acids</text>
<rect x="108.90" y="255.56" width="6.63" height="2.10" fill="#000082"/>
<rect x="108.90" y="258.66" width="5.99" height="2.10" fill="#870000"/>
<line x1="107.10" y1="258.16" x2="108.40" y2="258.16" stroke="#777" stroke-width="0.5"/>
<text x="106.80" y="259.96" font-size="4.95" font-weight="bold" text-anchor="end" fill="#000">Glycan biosynthesis and metabolism</text>
<rect x="108.90" y="263.89" width="5.35" height="2.10" fill="#000082"/>
<rect x="108.90" y="266.99" width="5.35" height="2.10" fill="#870000"/>
<line x1="107.10" y1="266.49" x2="108.40" y2="266.49" stroke="#777" stroke-width="0.5"/>
<text x="106.80" y="268.29" font-size="4.95" font-weight="bold" text-anchor="end" fill="#000">Energy metabolism</text>
<rect x="108.90" y="272.22" width="7.27" height="2.10" fill="#000082"/>
<rect x="108.90" y="275.32" width="3.42" height="2.10" fill="#870000"/>
<line x1="107.10" y1="274.82" x2="108.40" y2="274.82" stroke="#777" stroke-width="0.5"/>
<text x="106.80" y="276.62" font-size="4.95" font-weight="bold" text-anchor="end" fill="#000">Metabolism of cofactors and vitamins</text>
<rect x="108.90" y="280.55" width="8.77" height="2.10" fill="#000082"/>
<rect x="108.90" y="283.65" width="13.26" height="2.10" fill="#870000"/>
<line x1="107.10" y1="283.15" x2="108.40" y2="283.15" stroke="#777" stroke-width="0.5"/>
<text x="106.80" y="284.95" font-size="4.95" font-weight="bold" text-anchor="end" fill="#000">Lipid metabolism</text>
<rect x="108.90" y="288.88" width="14.76" height="2.10" fill="#000082"/>
<rect x="108.90" y="291.98" width="16.25" height="2.10" fill="#870000"/>
<line x1="107.10" y1="291.48" x2="108.40" y2="291.48" stroke="#777" stroke-width="0.5"/>
<text x="106.80" y="293.28" font-size="4.95" font-weight="bold" text-anchor="end" fill="#000">Amino acid metabolism</text>
<rect x="108.90" y="297.21" width="18.22" height="2.10" fill="#000082"/>
<rect x="108.90" y="300.31" width="13.26" height="2.10" fill="#870000"/>
<line x1="107.10" y1="299.81" x2="108.40" y2="299.81" stroke="#777" stroke-width="0.5"/>
<text x="106.80" y="301.61" font-size="4.95" font-weight="bold" text-anchor="end" fill="#000">Carbohydrate metabolism</text>
<rect x="108.90" y="305.54" width="20.74" height="2.10" fill="#000082"/>
<rect x="108.90" y="308.64" width="19.46" height="2.10" fill="#870000"/>
<line x1="107.10" y1="308.14" x2="108.40" y2="308.14" stroke="#777" stroke-width="0.5"/>
<text x="106.80" y="309.94" font-size="4.95" font-weight="bold" text-anchor="end" fill="#000">Genetic Information Processing</text>
<rect x="108.90" y="313.87" width="66.94" height="2.10" fill="#000082"/>
<rect x="108.90" y="316.97" width="48.33" height="2.10" fill="#870000"/>
<line x1="107.10" y1="316.47" x2="108.40" y2="316.47" stroke="#777" stroke-width="0.5"/>
<text x="106.80" y="318.27" font-size="4.95" font-weight="bold" text-anchor="end" fill="#000">Cellular Processes</text>
<rect x="108.90" y="322.20" width="77.84" height="2.10" fill="#000082"/>
<rect x="108.90" y="325.30" width="52.82" height="2.10" fill="#870000"/>
<line x1="107.10" y1="324.80" x2="108.40" y2="324.80" stroke="#777" stroke-width="0.5"/>
<text x="106.80" y="326.60" font-size="4.95" font-weight="bold" text-anchor="end" fill="#000">Environmental Information Processing</text>
<rect x="108.90" y="330.53" width="140.72" height="2.10" fill="#000082"/>
<rect x="108.90" y="333.63" width="109.49" height="2.10" fill="#870000"/>
<line x1="107.10" y1="333.13" x2="108.40" y2="333.13" stroke="#777" stroke-width="0.5"/>
<text x="106.80" y="334.93" font-size="4.95" font-weight="bold" text-anchor="end" fill="#000">Organismal Systems</text>
<line x1="108.45" y1="237.50" x2="108.45" y2="338.10" stroke="#8c8c8c" stroke-width="0.6"/>
<line x1="108.10" y1="337.80" x2="258.90" y2="337.80" stroke="#8c8c8c" stroke-width="0.6"/>
<line x1="108.90" y1="337.80" x2="108.90" y2="339.30" stroke="#777" stroke-width="0.6"/>
<text x="108.90" y="344.10" font-size="5.9" font-weight="bold" text-anchor="middle" fill="#000">0</text>
<line x1="130.29" y1="337.80" x2="130.29" y2="339.30" stroke="#777" stroke-width="0.6"/>
<text x="130.29" y="344.10" font-size="5.9" font-weight="bold" text-anchor="middle" fill="#000">5</text>
<line x1="151.67" y1="337.80" x2="151.67" y2="339.30" stroke="#777" stroke-width="0.6"/>
<text x="151.67" y="344.10" font-size="5.9" font-weight="bold" text-anchor="middle" fill="#000">10</text>
<line x1="173.06" y1="337.80" x2="173.06" y2="339.30" stroke="#777" stroke-width="0.6"/>
<text x="173.06" y="344.10" font-size="5.9" font-weight="bold" text-anchor="middle" fill="#000">15</text>
<line x1="194.44" y1="337.80" x2="194.44" y2="339.30" stroke="#777" stroke-width="0.6"/>
<text x="194.44" y="344.10" font-size="5.9" font-weight="bold" text-anchor="middle" fill="#000">20</text>
<line x1="215.83" y1="337.80" x2="215.83" y2="339.30" stroke="#777" stroke-width="0.6"/>
<text x="215.83" y="344.10" font-size="5.9" font-weight="bold" text-anchor="middle" fill="#000">25</text>
<line x1="237.21" y1="337.80" x2="237.21" y2="339.30" stroke="#777" stroke-width="0.6"/>
<text x="237.21" y="344.10" font-size="5.9" font-weight="bold" text-anchor="middle" fill="#000">30</text>
<line x1="258.60" y1="337.80" x2="258.60" y2="339.30" stroke="#777" stroke-width="0.6"/>
<text x="258.60" y="344.10" font-size="5.9" font-weight="bold" text-anchor="middle" fill="#000">35</text>
<text x="183.50" y="353.20" font-size="5.65" font-weight="bold" text-anchor="middle" fill="#000">Percentage of proteins(%)</text>
<text x="12.00" y="288.50" font-size="5.65" font-weight="bold" text-anchor="middle" fill="#000" transform="rotate(-90 12.00 288.50)">KEGG classification</text>
<rect x="173.20" y="239.70" width="7.40" height="4.20" fill="#870000"/>
<rect x="173.20" y="246.00" width="7.40" height="4.20" fill="#000082"/>
<text x="185.20" y="243.90" font-size="5.99" font-weight="normal" text-anchor="start" fill="#000" stroke="#000" stroke-width="0.22">Upregulated proteins</text>
<text x="185.20" y="250.30" font-size="5.99" font-weight="normal" text-anchor="start" fill="#000" stroke="#000" stroke-width="0.22">Downregulated proteins</text>
<rect x="367.00" y="230.20" width="12.88" height="2.20" fill="#000082"/>
<rect x="367.00" y="233.40" width="12.88" height="2.20" fill="#870000"/>
<line x1="365.20" y1="232.90" x2="366.50" y2="232.90" stroke="#777" stroke-width="0.5"/>
<text x="364.90" y="234.70" font-size="5.22" font-weight="bold" text-anchor="end" fill="#000">DNA replication proteins</text>
<rect x="367.00" y="238.13" width="14.72" height="2.20" fill="#000082"/>
<rect x="367.00" y="241.33" width="5.52" height="2.20" fill="#870000"/>
<line x1="365.20" y1="240.83" x2="366.50" y2="240.83" stroke="#777" stroke-width="0.5"/>
<text x="364.90" y="242.63" font-size="5.22" font-weight="bold" text-anchor="end" fill="#000">Proteasome</text>
<rect x="367.00" y="246.06" width="12.88" height="2.20" fill="#000082"/>
<rect x="367.00" y="249.26" width="7.36" height="2.20" fill="#870000"/>
<line x1="365.20" y1="248.76" x2="366.50" y2="248.76" stroke="#777" stroke-width="0.5"/>
<text x="364.90" y="250.56" font-size="5.22" font-weight="bold" text-anchor="end" fill="#000">Translation factors</text>
<rect x="367.00" y="253.99" width="27.60" height="2.20" fill="#000082"/>
<rect x="367.00" y="257.19" width="14.72" height="2.20" fill="#870000"/>
<line x1="365.20" y1="256.69" x2="366.50" y2="256.69" stroke="#777" stroke-width="0.5"/>
<text x="363.20" y="258.49" font-size="5.22" font-weight="bold" text-anchor="end" fill="#000">Ribosome biogenesis</text>
<rect x="367.00" y="261.92" width="27.60" height="2.20" fill="#000082"/>
<rect x="367.00" y="265.12" width="22.08" height="2.20" fill="#870000"/>
<line x1="365.20" y1="264.62" x2="366.50" y2="264.62" stroke="#777" stroke-width="0.5"/>
<text x="364.90" y="266.42" font-size="5.22" font-weight="bold" text-anchor="end" fill="#000">Spliceosome</text>
<rect x="367.00" y="269.85" width="34.96" height="2.20" fill="#000082"/>
<rect x="367.00" y="273.05" width="14.72" height="2.20" fill="#870000"/>
<line x1="365.20" y1="272.55" x2="366.50" y2="272.55" stroke="#777" stroke-width="0.5"/>
<text x="364.90" y="274.35" font-size="5.22" font-weight="bold" text-anchor="end" fill="#000">Transcription factors</text>
<rect x="367.00" y="277.78" width="22.08" height="2.20" fill="#000082"/>
<rect x="367.00" y="280.98" width="29.44" height="2.20" fill="#870000"/>
<line x1="365.20" y1="280.48" x2="366.50" y2="280.48" stroke="#777" stroke-width="0.5"/>
<text x="364.90" y="282.28" font-size="5.22" font-weight="bold" text-anchor="end" fill="#000">Transfer RNA biogenesis</text>
<rect x="367.00" y="285.71" width="44.16" height="2.20" fill="#000082"/>
<rect x="367.00" y="288.91" width="14.72" height="2.20" fill="#870000"/>
<line x1="365.20" y1="288.41" x2="366.50" y2="288.41" stroke="#777" stroke-width="0.5"/>
<text x="364.90" y="290.21" font-size="5.22" font-weight="bold" text-anchor="end" fill="#000">DNA repair and recombination proteins</text>
<rect x="367.00" y="293.64" width="29.44" height="2.20" fill="#000082"/>
<rect x="367.00" y="296.84" width="42.32" height="2.20" fill="#870000"/>
<line x1="365.20" y1="296.34" x2="366.50" y2="296.34" stroke="#777" stroke-width="0.5"/>
<text x="364.90" y="298.14" font-size="5.22" font-weight="bold" text-anchor="end" fill="#000">Chaperones and folding catalysts</text>
<rect x="367.00" y="301.57" width="29.44" height="2.20" fill="#000082"/>
<rect x="367.00" y="304.77" width="44.16" height="2.20" fill="#870000"/>
<line x1="365.20" y1="304.27" x2="366.50" y2="304.27" stroke="#777" stroke-width="0.5"/>
<text x="364.90" y="306.07" font-size="5.22" font-weight="bold" text-anchor="end" fill="#000">Messenger RNA biogenesis</text>
<rect x="367.00" y="309.50" width="29.44" height="2.20" fill="#000082"/>
<rect x="367.00" y="312.70" width="75.44" height="2.20" fill="#870000"/>
<line x1="365.20" y1="312.20" x2="366.50" y2="312.20" stroke="#777" stroke-width="0.5"/>
<text x="363.20" y="314.00" font-size="5.22" font-weight="bold" text-anchor="end" fill="#000">Mitochondrial biogenesis</text>
<rect x="367.00" y="317.43" width="47.84" height="2.20" fill="#000082"/>
<rect x="367.00" y="320.63" width="44.16" height="2.20" fill="#870000"/>
<line x1="365.20" y1="320.13" x2="366.50" y2="320.13" stroke="#777" stroke-width="0.5"/>
<text x="364.90" y="321.93" font-size="5.22" font-weight="bold" text-anchor="end" fill="#000">Ubiquitin system</text>
<rect x="367.00" y="325.36" width="93.84" height="2.20" fill="#000082"/>
<rect x="367.00" y="328.56" width="69.92" height="2.20" fill="#870000"/>
<line x1="365.20" y1="328.06" x2="366.50" y2="328.06" stroke="#777" stroke-width="0.5"/>
<text x="363.20" y="329.86" font-size="5.22" font-weight="bold" text-anchor="end" fill="#000">Chromosome and associated proteins</text>
<rect x="367.00" y="333.29" width="149.04" height="2.20" fill="#000082"/>
<rect x="367.00" y="336.49" width="139.84" height="2.20" fill="#870000"/>
<line x1="365.20" y1="335.99" x2="366.50" y2="335.99" stroke="#777" stroke-width="0.5"/>
<text x="364.90" y="337.79" font-size="5.22" font-weight="bold" text-anchor="end" fill="#000">Membrane trafficking</text>
<line x1="366.60" y1="229.90" x2="366.60" y2="339.90" stroke="#8c8c8c" stroke-width="0.6"/>
<line x1="366.30" y1="339.60" x2="532.90" y2="339.60" stroke="#8c8c8c" stroke-width="0.6"/>
<line x1="367.00" y1="339.60" x2="367.00" y2="341.20" stroke="#777" stroke-width="0.6"/>
<text x="366.70" y="347.60" font-size="6.2" font-weight="bold" text-anchor="middle" fill="#000">0</text>
<line x1="385.40" y1="339.60" x2="385.40" y2="341.20" stroke="#777" stroke-width="0.6"/>
<text x="385.10" y="347.60" font-size="6.2" font-weight="bold" text-anchor="middle" fill="#000">10</text>
<line x1="403.80" y1="339.60" x2="403.80" y2="341.20" stroke="#777" stroke-width="0.6"/>
<text x="403.50" y="347.60" font-size="6.2" font-weight="bold" text-anchor="middle" fill="#000">20</text>
<line x1="422.20" y1="339.60" x2="422.20" y2="341.20" stroke="#777" stroke-width="0.6"/>
<text x="421.90" y="347.60" font-size="6.2" font-weight="bold" text-anchor="middle" fill="#000">30</text>
<line x1="440.60" y1="339.60" x2="440.60" y2="341.20" stroke="#777" stroke-width="0.6"/>
<text x="440.30" y="347.60" font-size="6.2" font-weight="bold" text-anchor="middle" fill="#000">40</text>
<line x1="459.00" y1="339.60" x2="459.00" y2="341.20" stroke="#777" stroke-width="0.6"/>
<text x="458.70" y="347.60" font-size="6.2" font-weight="bold" text-anchor="middle" fill="#000">50</text>
<line x1="477.40" y1="339.60" x2="477.40" y2="341.20" stroke="#777" stroke-width="0.6"/>
<text x="477.10" y="347.60" font-size="6.2" font-weight="bold" text-anchor="middle" fill="#000">60</text>
<line x1="495.80" y1="339.60" x2="495.80" y2="341.20" stroke="#777" stroke-width="0.6"/>
<text x="495.50" y="347.60" font-size="6.2" font-weight="bold" text-anchor="middle" fill="#000">70</text>
<line x1="514.20" y1="339.60" x2="514.20" y2="341.20" stroke="#777" stroke-width="0.6"/>
<text x="513.90" y="347.60" font-size="6.2" font-weight="bold" text-anchor="middle" fill="#000">80</text>
<line x1="532.60" y1="339.60" x2="532.60" y2="341.20" stroke="#777" stroke-width="0.6"/>
<text x="532.30" y="347.60" font-size="6.2" font-weight="bold" text-anchor="middle" fill="#000">90</text>
<text x="450.00" y="356.00" font-size="5.9" font-weight="bold" text-anchor="middle" fill="#000">Protein number</text>
<rect x="424.30" y="229.30" width="7.40" height="4.30" fill="#870000"/>
<rect x="424.30" y="236.70" width="7.40" height="4.30" fill="#000082"/>
<text x="437.30" y="233.80" font-size="6.3" font-weight="normal" text-anchor="start" fill="#000" stroke="#000" stroke-width="0.22">Upregulated proteins</text>
<text x="437.30" y="241.20" font-size="6.3" font-weight="normal" text-anchor="start" fill="#000" stroke="#000" stroke-width="0.22">Downregulated proteins</text>
<rect x="190.75" y="428.90" width="7.50" height="54.60" fill="#000082"/>
<rect x="190.75" y="449.90" width="7.50" height="33.60" fill="#870000"/>
<text x="196.30" y="488.70" font-size="4.55" font-weight="bold" text-anchor="end" fill="#000" transform="rotate(-45 196.30 488.70)">Oxidative phosphorylation</text>
<rect x="201.79" y="462.50" width="7.50" height="21.00" fill="#000082"/>
<rect x="201.79" y="464.60" width="7.50" height="18.90" fill="#870000"/>
<text x="207.34" y="488.70" font-size="4.55" font-weight="bold" text-anchor="end" fill="#000" transform="rotate(-45 207.34 488.70)">Fatty acid β-oxidation I</text>
<rect x="212.84" y="475.10" width="7.50" height="8.40" fill="#000082"/>
<rect x="212.84" y="477.20" width="7.50" height="6.30" fill="#870000"/>
<text x="218.39" y="488.70" font-size="4.55" font-weight="bold" text-anchor="end" fill="#000" transform="rotate(-45 218.39 488.70)">Mitochondrial L-carnitine shuttle</text>
<rect x="223.88" y="473.00" width="7.50" height="10.50" fill="#000082"/>
<rect x="223.88" y="477.20" width="7.50" height="6.30" fill="#870000"/>
<text x="229.44" y="488.70" font-size="4.55" font-weight="bold" text-anchor="end" fill="#000" transform="rotate(-45 229.44 488.70)">TCA cycle II (Eukaryotic)</text>
<rect x="234.93" y="475.10" width="7.50" height="8.40" fill="#000082"/>
<text x="240.48" y="488.70" font-size="4.55" font-weight="bold" text-anchor="end" fill="#000" transform="rotate(-45 240.48 488.70)">Pentose phosphate pathway</text>
<rect x="245.97" y="473.00" width="7.50" height="10.50" fill="#000082"/>
<rect x="245.97" y="479.30" width="7.50" height="4.20" fill="#870000"/>
<text x="251.53" y="488.70" font-size="4.55" font-weight="bold" text-anchor="end" fill="#000" transform="rotate(-45 251.53 488.70)">Putrescine degradation III</text>
<rect x="257.02" y="473.00" width="7.50" height="10.50" fill="#000082"/>
<rect x="257.02" y="475.10" width="7.50" height="8.40" fill="#870000"/>
<text x="262.57" y="488.70" font-size="4.55" font-weight="bold" text-anchor="end" fill="#000" transform="rotate(-45 262.57 488.70)">Citrulline biosynthesis</text>
<rect x="268.06" y="475.10" width="7.50" height="8.40" fill="#000082"/>
<rect x="268.06" y="481.40" width="7.50" height="2.10" fill="#870000"/>
<text x="273.62" y="488.70" font-size="4.55" font-weight="bold" text-anchor="end" fill="#000" transform="rotate(-45 273.62 488.70)">Arginine biosynthesis IV</text>
<rect x="279.11" y="466.70" width="7.50" height="16.80" fill="#000082"/>
<rect x="279.11" y="473.00" width="7.50" height="10.50" fill="#870000"/>
<text x="284.66" y="488.70" font-size="4.55" font-weight="bold" text-anchor="end" fill="#000" transform="rotate(-45 284.66 488.70)">Superpathway of citrulline metabolism</text>
<rect x="290.15" y="475.10" width="7.50" height="8.40" fill="#000082"/>
<rect x="290.15" y="475.10" width="7.50" height="8.40" fill="#870000"/>
<text x="295.70" y="488.70" font-size="4.55" font-weight="bold" text-anchor="end" fill="#000" transform="rotate(-45 295.70 488.70)">Leucine degradation I</text>
<rect x="301.20" y="470.90" width="7.50" height="12.60" fill="#000082"/>
<rect x="301.20" y="473.00" width="7.50" height="10.50" fill="#870000"/>
<text x="306.75" y="488.70" font-size="4.55" font-weight="bold" text-anchor="end" fill="#000" transform="rotate(-45 306.75 488.70)">Tryptophan degradation III</text>
<rect x="312.25" y="473.00" width="7.50" height="10.50" fill="#000082"/>
<rect x="312.25" y="473.00" width="7.50" height="10.50" fill="#870000"/>
<text x="317.80" y="488.70" font-size="4.55" font-weight="bold" text-anchor="end" fill="#000" transform="rotate(-45 317.80 488.70)">Isoleucine degradation I</text>
<rect x="323.29" y="447.80" width="7.50" height="35.70" fill="#000082"/>
<rect x="323.29" y="477.20" width="7.50" height="6.30" fill="#870000"/>
<text x="328.84" y="488.70" font-size="4.55" font-weight="bold" text-anchor="end" fill="#000" transform="rotate(-45 328.84 488.70)">PAK signaling</text>
<rect x="334.34" y="435.20" width="7.50" height="48.30" fill="#000082"/>
<rect x="334.34" y="466.70" width="7.50" height="16.80" fill="#870000"/>
<text x="339.89" y="488.70" font-size="4.55" font-weight="bold" text-anchor="end" fill="#000" transform="rotate(-45 339.89 488.70)">Paxillin signaling</text>
<rect x="345.38" y="405.80" width="7.50" height="77.70" fill="#000082"/>
<rect x="345.38" y="454.10" width="7.50" height="29.40" fill="#870000"/>
<text x="350.93" y="488.70" font-size="4.55" font-weight="bold" text-anchor="end" fill="#000" transform="rotate(-45 350.93 488.70)">Integrin signaling</text>
<rect x="356.43" y="443.60" width="7.50" height="39.90" fill="#000082"/>
<rect x="356.43" y="458.30" width="7.50" height="25.20" fill="#870000"/>
<text x="361.98" y="488.70" font-size="4.55" font-weight="bold" text-anchor="end" fill="#000" transform="rotate(-45 361.98 488.70)">RAC</text>
<rect x="367.47" y="418.40" width="7.50" height="65.10" fill="#000082"/>
<rect x="367.47" y="460.40" width="7.50" height="23.10" fill="#870000"/>
<text x="373.02" y="488.70" font-size="4.55" font-weight="bold" text-anchor="end" fill="#000" transform="rotate(-45 373.02 488.70)">Actin cytoskeleton signaling</text>
<line x1="321.20" y1="411.00" x2="321.20" y2="483.50" stroke="#000" stroke-width="0.7" stroke-dasharray="1.6 1"/>
<path d="M194.5 455.2 L205.5 465.4 L216.6 476.9 L227.6 477.4 L238.7 472.4 L249.7 475.5 L260.8 468.7 L271.8 470.1 L282.9 461.4 L293.9 473.1 L304.9 474.1 L316.0 473.1 L327.0 471.5 C328.9 470.2 334.4 465.3 338.1 463.5 C341.8 461.7 345.4 459.4 349.1 460.7 C352.8 462.0 356.5 469.6 360.2 471.3 C363.9 473.1 369.4 471.3 371.2 471.3" fill="none" stroke="#000" stroke-width="0.8"/>
<line x1="188.90" y1="399.10" x2="188.90" y2="484.00" stroke="#000" stroke-width="0.9"/>
<line x1="377.60" y1="399.10" x2="377.60" y2="484.00" stroke="#222" stroke-width="0.9"/>
<line x1="188.45" y1="483.50" x2="378.05" y2="483.50" stroke="#000" stroke-width="1"/>
<line x1="186.90" y1="483.50" x2="188.90" y2="483.50" stroke="#000" stroke-width="0.8"/>
<text x="186.50" y="485.30" font-size="5.0" font-weight="bold" text-anchor="end" fill="#000">0</text>
<line x1="186.90" y1="462.50" x2="188.90" y2="462.50" stroke="#000" stroke-width="0.8"/>
<text x="186.50" y="464.30" font-size="5.0" font-weight="bold" text-anchor="end" fill="#000">10</text>
<line x1="186.90" y1="441.50" x2="188.90" y2="441.50" stroke="#000" stroke-width="0.8"/>
<text x="186.50" y="443.30" font-size="5.0" font-weight="bold" text-anchor="end" fill="#000">20</text>
<line x1="186.90" y1="420.50" x2="188.90" y2="420.50" stroke="#000" stroke-width="0.8"/>
<text x="186.50" y="422.30" font-size="5.0" font-weight="bold" text-anchor="end" fill="#000">30</text>
<line x1="186.90" y1="399.50" x2="188.90" y2="399.50" stroke="#000" stroke-width="0.8"/>
<text x="186.50" y="401.30" font-size="5.0" font-weight="bold" text-anchor="end" fill="#000">40</text>
<line x1="377.60" y1="483.50" x2="379.60" y2="483.50" stroke="#000" stroke-width="0.8"/>
<text x="379.90" y="485.30" font-size="5.0" font-weight="bold" text-anchor="start" fill="#000">0</text>
<line x1="377.60" y1="466.70" x2="379.60" y2="466.70" stroke="#000" stroke-width="0.8"/>
<text x="379.90" y="468.50" font-size="5.0" font-weight="bold" text-anchor="start" fill="#000">4</text>
<line x1="377.60" y1="449.90" x2="379.60" y2="449.90" stroke="#000" stroke-width="0.8"/>
<text x="379.90" y="451.70" font-size="5.0" font-weight="bold" text-anchor="start" fill="#000">8</text>
<line x1="377.60" y1="433.10" x2="379.60" y2="433.10" stroke="#000" stroke-width="0.8"/>
<text x="379.90" y="434.90" font-size="5.0" font-weight="bold" text-anchor="start" fill="#000">12</text>
<line x1="377.60" y1="416.30" x2="379.60" y2="416.30" stroke="#000" stroke-width="0.8"/>
<text x="379.90" y="418.10" font-size="5.0" font-weight="bold" text-anchor="start" fill="#000">16</text>
<line x1="377.60" y1="399.50" x2="379.60" y2="399.50" stroke="#000" stroke-width="0.8"/>
<text x="379.90" y="401.30" font-size="5.0" font-weight="bold" text-anchor="start" fill="#000">20</text>
<text x="176.80" y="441.00" font-size="5.0" font-weight="bold" text-anchor="middle" fill="#000" transform="rotate(-90 176.80 441.00)">Protein Number</text>
<text x="392.20" y="440.50" font-size="5.0" font-weight="bold" text-anchor="middle" fill="#000" transform="rotate(-90 392.20 440.50)">-log(p-value)</text>
<text x="260.60" y="401.80" font-size="5.2" font-weight="bold" text-anchor="middle" fill="#000">Metabolism</text>
<text x="349.40" y="401.80" font-size="5.2" font-weight="bold" text-anchor="middle" fill="#000">Motility</text>
<rect x="306.80" y="371.20" width="6.20" height="4.30" fill="#870000"/>
<rect x="306.80" y="378.00" width="6.20" height="4.00" fill="#000082"/>
<line x1="307.50" y1="387.00" x2="312.50" y2="387.00" stroke="#000" stroke-width="0.8"/>
<text x="317.50" y="375.40" font-size="5.44" font-weight="normal" text-anchor="start" fill="#000" stroke="#000" stroke-width="0.22">Upregulated proteins</text>
<text x="317.50" y="382.30" font-size="5.44" font-weight="normal" text-anchor="start" fill="#000" stroke="#000" stroke-width="0.22">Downregulated proteins</text>
<text x="317.50" y="388.90" font-size="5.44" font-weight="normal" text-anchor="start" fill="#000" stroke="#000" stroke-width="0.22">-log(p-value)</text>
</svg>
</body></html>
